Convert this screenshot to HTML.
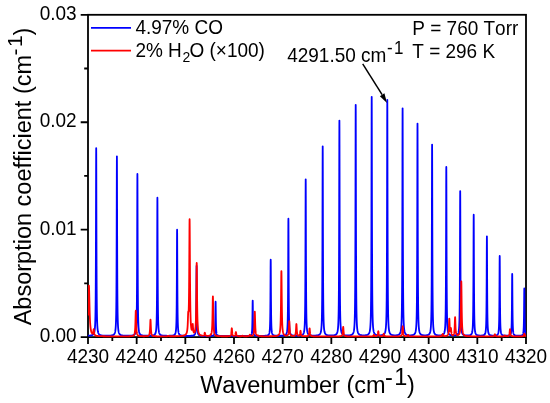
<!DOCTYPE html>
<html><head><meta charset="utf-8"><style>
html,body{margin:0;padding:0;background:#fff;}
svg{display:block;}
text{font-family:"Liberation Sans",Arial,sans-serif;fill:#000;font-kerning:none;}
</style></head><body>
<svg width="550" height="403" viewBox="0 0 550 403">
<rect width="550" height="403" fill="#fff"/>
<defs><clipPath id="c"><rect x="88.0" y="14.8" width="438.0" height="324.3"/></clipPath></defs>
<rect x="88.0" y="14.8" width="438.0" height="322.30" fill="none" stroke="#000" stroke-width="1.8"/>
<path d="M88.00,337.10V344.10M136.67,337.10V344.10M185.33,337.10V344.10M234.00,337.10V344.10M282.67,337.10V344.10M331.33,337.10V344.10M380.00,337.10V344.10M428.67,337.10V344.10M477.33,337.10V344.10M526.00,337.10V344.10M112.33,337.10V340.90M161.00,337.10V340.90M209.67,337.10V340.90M258.33,337.10V340.90M307.00,337.10V340.90M355.67,337.10V340.90M404.33,337.10V340.90M453.00,337.10V340.90M501.67,337.10V340.90M88.00,337.10H80.70M88.00,229.67H80.70M88.00,122.23H80.70M88.00,14.80H80.70M88.00,283.38H84.20M88.00,175.95H84.20M88.00,68.52H84.20" fill="none" stroke="#000" stroke-width="1.8"/>
<g fill="none" stroke-linejoin="round" clip-path="url(#c)">
<polyline stroke="#0000ff" stroke-width="1.8" points="88.00,335.69 88.50,335.67 89.00,335.64 89.50,335.60 90.00,335.55 90.20,335.53 90.25,335.53 90.30,335.52 90.35,335.51 90.40,335.51 90.45,335.50 90.50,335.49 90.55,335.48 90.60,335.48 90.65,335.47 90.70,335.46 90.75,335.45 90.80,335.45 90.85,335.44 90.90,335.43 90.95,335.42 91.00,335.41 91.05,335.40 91.10,335.39 91.15,335.38 91.20,335.37 91.25,335.36 91.30,335.35 91.35,335.34 91.40,335.32 91.45,335.31 91.50,335.30 91.55,335.29 91.60,335.27 91.65,335.26 91.70,335.24 91.75,335.23 91.80,335.21 91.85,335.20 91.90,335.18 91.95,335.16 92.00,335.15 92.05,335.13 92.10,335.11 92.15,335.09 92.20,335.07 92.25,335.05 92.30,335.02 92.35,335.00 92.40,334.98 92.45,334.95 92.50,334.93 92.55,334.90 92.60,334.87 92.65,334.84 92.70,334.81 92.75,334.78 92.80,334.75 92.85,334.71 92.90,334.67 92.95,334.64 93.00,334.60 93.05,334.55 93.10,334.51 93.15,334.46 93.20,334.41 93.25,334.36 93.30,334.31 93.35,334.25 93.40,334.19 93.45,334.13 93.50,334.06 93.55,333.99 93.60,333.92 93.65,333.84 93.70,333.76 93.75,333.67 93.80,333.58 93.85,333.48 93.90,333.37 93.95,333.26 94.00,333.14 94.05,333.01 94.10,332.87 94.15,332.72 94.20,332.56 94.25,332.39 94.30,332.21 94.35,332.01 94.40,331.79 94.45,331.56 94.50,331.31 94.55,331.03 94.60,330.73 94.65,330.40 94.70,330.03 94.75,329.63 94.80,329.19 94.85,328.71 94.90,328.16 94.95,327.56 95.00,326.88 95.05,326.12 95.10,325.26 95.15,324.28 95.20,323.17 95.25,321.90 95.30,320.43 95.35,318.72 95.40,316.73 95.45,314.39 95.50,311.62 95.55,308.30 95.60,304.32 95.65,299.47 95.70,293.55 95.75,286.24 95.80,277.17 95.85,265.90 95.90,251.93 95.95,234.87 96.00,214.73 96.05,192.49 96.10,170.87 96.15,154.45 96.20,148.22 96.25,154.45 96.30,170.87 96.35,192.49 96.40,214.73 96.45,234.87 96.50,251.93 96.55,265.90 96.60,277.17 96.65,286.24 96.70,293.55 96.75,299.47 96.80,304.32 96.85,308.30 96.90,311.62 96.95,314.39 97.00,316.73 97.05,318.72 97.10,320.43 97.15,321.90 97.20,323.17 97.25,324.28 97.30,325.26 97.35,326.12 97.40,326.88 97.45,327.56 97.50,328.16 97.55,328.70 97.60,329.19 97.65,329.63 97.70,330.03 97.75,330.40 97.80,330.73 97.85,331.03 97.90,331.30 97.95,331.56 98.00,331.79 98.05,332.01 98.10,332.21 98.15,332.39 98.20,332.56 98.25,332.72 98.30,332.87 98.35,333.01 98.40,333.14 98.45,333.26 98.50,333.37 98.55,333.48 98.60,333.57 98.65,333.67 98.70,333.76 98.75,333.84 98.80,333.92 98.85,333.99 98.90,334.06 98.95,334.13 99.00,334.19 99.05,334.25 99.10,334.31 99.15,334.36 99.20,334.41 99.25,334.46 99.30,334.51 99.35,334.55 99.40,334.59 99.45,334.63 99.50,334.67 99.55,334.71 99.60,334.74 99.65,334.77 99.70,334.81 99.75,334.84 99.80,334.87 99.85,334.90 99.90,334.92 99.95,334.95 100.00,334.97 100.05,335.00 100.10,335.02 100.15,335.04 100.20,335.06 100.25,335.08 100.30,335.10 100.35,335.12 100.40,335.14 100.45,335.16 100.50,335.18 100.55,335.19 100.60,335.21 100.65,335.22 100.70,335.24 100.75,335.25 100.80,335.27 100.85,335.28 100.90,335.29 100.95,335.31 101.00,335.32 101.05,335.33 101.10,335.34 101.15,335.35 101.20,335.36 101.25,335.37 101.30,335.38 101.35,335.39 101.40,335.40 101.45,335.41 101.50,335.42 101.55,335.43 101.60,335.44 101.65,335.45 101.70,335.46 101.75,335.46 101.80,335.47 101.85,335.48 101.90,335.49 101.95,335.49 102.00,335.50 102.05,335.51 102.10,335.51 102.15,335.52 102.20,335.52 102.50,335.56 103.00,335.60 103.50,335.64 104.00,335.66 104.50,335.68 105.00,335.70 105.50,335.71 106.00,335.71 106.50,335.71 107.00,335.71 107.50,335.71 108.00,335.70 108.50,335.69 109.00,335.67 109.50,335.65 110.00,335.62 110.50,335.58 110.90,335.54 110.95,335.53 111.00,335.52 111.05,335.52 111.10,335.51 111.15,335.51 111.20,335.50 111.25,335.49 111.30,335.49 111.35,335.48 111.40,335.47 111.45,335.46 111.50,335.46 111.55,335.45 111.60,335.44 111.65,335.43 111.70,335.42 111.75,335.41 111.80,335.40 111.85,335.39 111.90,335.38 111.95,335.37 112.00,335.36 112.05,335.35 112.10,335.34 112.15,335.33 112.20,335.32 112.25,335.30 112.30,335.29 112.35,335.28 112.40,335.26 112.45,335.25 112.50,335.24 112.55,335.22 112.60,335.20 112.65,335.19 112.70,335.17 112.75,335.15 112.80,335.13 112.85,335.12 112.90,335.10 112.95,335.08 113.00,335.05 113.05,335.03 113.10,335.01 113.15,334.99 113.20,334.96 113.25,334.93 113.30,334.91 113.35,334.88 113.40,334.85 113.45,334.82 113.50,334.79 113.55,334.75 113.60,334.72 113.65,334.68 113.70,334.64 113.75,334.60 113.80,334.56 113.85,334.52 113.90,334.47 113.95,334.42 114.00,334.37 114.05,334.32 114.10,334.26 114.15,334.20 114.20,334.14 114.25,334.07 114.30,334.00 114.35,333.92 114.40,333.85 114.45,333.76 114.50,333.67 114.55,333.58 114.60,333.48 114.65,333.37 114.70,333.25 114.75,333.13 114.80,333.00 114.85,332.85 114.90,332.70 114.95,332.54 115.00,332.36 115.05,332.17 115.10,331.97 115.15,331.74 115.20,331.50 115.25,331.23 115.30,330.95 115.35,330.63 115.40,330.28 115.45,329.90 115.50,329.48 115.55,329.01 115.60,328.49 115.65,327.91 115.70,327.26 115.75,326.54 115.80,325.71 115.85,324.78 115.90,323.72 115.95,322.50 116.00,321.09 116.05,319.46 116.10,317.55 116.15,315.31 116.20,312.66 116.25,309.49 116.30,305.67 116.35,301.04 116.40,295.37 116.45,288.38 116.50,279.70 116.55,268.91 116.60,255.55 116.65,239.22 116.70,219.95 116.75,198.68 116.80,177.98 116.85,162.27 116.90,156.32 116.95,162.27 117.00,177.98 117.05,198.68 117.10,219.95 117.15,239.22 117.20,255.55 117.25,268.91 117.30,279.70 117.35,288.38 117.40,295.37 117.45,301.04 117.50,305.68 117.55,309.49 117.60,312.66 117.65,315.31 117.70,317.55 117.75,319.46 117.80,321.09 117.85,322.50 117.90,323.72 117.95,324.78 118.00,325.71 118.05,326.54 118.10,327.27 118.15,327.91 118.20,328.49 118.25,329.01 118.30,329.48 118.35,329.90 118.40,330.28 118.45,330.63 118.50,330.95 118.55,331.24 118.60,331.50 118.65,331.74 118.70,331.97 118.75,332.17 118.80,332.36 118.85,332.54 118.90,332.70 118.95,332.86 119.00,333.00 119.05,333.13 119.10,333.25 119.15,333.37 119.20,333.48 119.25,333.58 119.30,333.67 119.35,333.76 119.40,333.85 119.45,333.93 119.50,334.00 119.55,334.07 119.60,334.14 119.65,334.20 119.70,334.26 119.75,334.32 119.80,334.37 119.85,334.42 119.90,334.47 119.95,334.52 120.00,334.56 120.05,334.61 120.10,334.65 120.15,334.68 120.20,334.72 120.25,334.76 120.30,334.79 120.35,334.82 120.40,334.85 120.45,334.88 120.50,334.91 120.55,334.94 120.60,334.96 120.65,334.99 120.70,335.01 120.75,335.03 120.80,335.06 120.85,335.08 120.90,335.10 120.95,335.12 121.00,335.14 121.05,335.16 121.10,335.17 121.15,335.19 121.20,335.21 121.25,335.22 121.30,335.24 121.35,335.25 121.40,335.27 121.45,335.28 121.50,335.29 121.55,335.31 121.60,335.32 121.65,335.33 121.70,335.34 121.75,335.35 121.80,335.37 121.85,335.38 121.90,335.39 121.95,335.40 122.00,335.41 122.05,335.42 122.10,335.42 122.15,335.43 122.20,335.44 122.25,335.45 122.30,335.46 122.35,335.47 122.40,335.47 122.45,335.48 122.50,335.49 122.55,335.50 122.60,335.50 122.65,335.51 122.70,335.52 122.75,335.52 122.80,335.53 122.85,335.53 122.90,335.54 123.00,335.55 123.50,335.60 124.00,335.63 124.50,335.66 125.00,335.68 125.50,335.70 126.00,335.71 126.50,335.72 127.00,335.72 127.50,335.72 128.00,335.72 128.50,335.72 129.00,335.71 129.50,335.69 130.00,335.67 130.50,335.64 131.00,335.61 131.40,335.57 131.45,335.57 131.50,335.56 131.55,335.56 131.60,335.55 131.65,335.54 131.70,335.54 131.75,335.53 131.80,335.53 131.85,335.52 131.90,335.51 131.95,335.51 132.00,335.50 132.05,335.49 132.10,335.48 132.15,335.48 132.20,335.47 132.25,335.46 132.30,335.45 132.35,335.44 132.40,335.43 132.45,335.43 132.50,335.42 132.55,335.41 132.60,335.40 132.65,335.39 132.70,335.37 132.75,335.36 132.80,335.35 132.85,335.34 132.90,335.33 132.95,335.31 133.00,335.30 133.05,335.29 133.10,335.27 133.15,335.26 133.20,335.24 133.25,335.23 133.30,335.21 133.35,335.19 133.40,335.18 133.45,335.16 133.50,335.14 133.55,335.12 133.60,335.10 133.65,335.08 133.70,335.05 133.75,335.03 133.80,335.01 133.85,334.98 133.90,334.95 133.95,334.93 134.00,334.90 134.05,334.87 134.10,334.84 134.15,334.80 134.20,334.77 134.25,334.73 134.30,334.70 134.35,334.66 134.40,334.61 134.45,334.57 134.50,334.52 134.55,334.47 134.60,334.42 134.65,334.37 134.70,334.31 134.75,334.25 134.80,334.19 134.85,334.12 134.90,334.05 134.95,333.97 135.00,333.89 135.05,333.81 135.10,333.72 135.15,333.62 135.20,333.51 135.25,333.40 135.30,333.28 135.35,333.16 135.40,333.02 135.45,332.87 135.50,332.71 135.55,332.54 135.60,332.35 135.65,332.15 135.70,331.93 135.75,331.69 135.80,331.43 135.85,331.15 135.90,330.84 135.95,330.49 136.00,330.11 136.05,329.69 136.10,329.22 136.15,328.70 136.20,328.11 136.25,327.46 136.30,326.71 136.35,325.87 136.40,324.91 136.45,323.81 136.50,322.54 136.55,321.07 136.60,319.35 136.65,317.33 136.70,314.94 136.75,312.08 136.80,308.64 136.85,304.46 136.90,299.35 136.95,293.04 137.00,285.21 137.05,275.48 137.10,263.42 137.15,248.70 137.20,231.32 137.25,212.13 137.30,193.46 137.35,179.29 137.40,173.92 137.45,179.29 137.50,193.46 137.55,212.13 137.60,231.32 137.65,248.70 137.70,263.42 137.75,275.48 137.80,285.21 137.85,293.04 137.90,299.35 137.95,304.46 138.00,308.64 138.05,312.08 138.10,314.94 138.15,317.34 138.20,319.36 138.25,321.07 138.30,322.55 138.35,323.81 138.40,324.91 138.45,325.87 138.50,326.72 138.55,327.46 138.60,328.12 138.65,328.70 138.70,329.22 138.75,329.69 138.80,330.11 138.85,330.49 138.90,330.84 138.95,331.15 139.00,331.44 139.05,331.70 139.10,331.94 139.15,332.15 139.20,332.36 139.25,332.54 139.30,332.71 139.35,332.87 139.40,333.02 139.45,333.16 139.50,333.29 139.55,333.41 139.60,333.52 139.65,333.62 139.70,333.72 139.75,333.81 139.80,333.90 139.85,333.98 139.90,334.05 139.95,334.12 140.00,334.19 140.05,334.26 140.10,334.32 140.15,334.37 140.20,334.43 140.25,334.48 140.30,334.53 140.35,334.57 140.40,334.62 140.45,334.66 140.50,334.70 140.55,334.74 140.60,334.77 140.65,334.81 140.70,334.84 140.75,334.87 140.80,334.90 140.85,334.93 140.90,334.96 140.95,334.99 141.00,335.01 141.05,335.04 141.10,335.06 141.15,335.08 141.20,335.10 141.25,335.12 141.30,335.14 141.35,335.16 141.40,335.18 141.45,335.20 141.50,335.22 141.55,335.23 141.60,335.25 141.65,335.26 141.70,335.28 141.75,335.29 141.80,335.31 141.85,335.32 141.90,335.33 141.95,335.35 142.00,335.36 142.05,335.37 142.10,335.38 142.15,335.39 142.20,335.40 142.25,335.41 142.30,335.42 142.35,335.43 142.40,335.44 142.45,335.45 142.50,335.46 142.55,335.47 142.60,335.48 142.65,335.48 142.70,335.49 142.75,335.50 142.80,335.51 142.85,335.51 142.90,335.52 142.95,335.53 143.00,335.53 143.05,335.54 143.10,335.55 143.15,335.55 143.20,335.56 143.25,335.56 143.30,335.57 143.35,335.57 143.40,335.58 143.50,335.59 144.00,335.63 144.50,335.67 145.00,335.69 145.50,335.71 146.00,335.72 146.50,335.73 147.00,335.74 147.50,335.74 148.00,335.74 148.50,335.74 149.00,335.73 149.50,335.72 150.00,335.70 150.50,335.68 151.00,335.65 151.40,335.62 151.45,335.62 151.50,335.61 151.55,335.61 151.60,335.61 151.65,335.60 151.70,335.60 151.75,335.59 151.80,335.59 151.85,335.58 151.90,335.57 151.95,335.57 152.00,335.56 152.05,335.56 152.10,335.55 152.15,335.54 152.20,335.54 152.25,335.53 152.30,335.52 152.35,335.52 152.40,335.51 152.45,335.50 152.50,335.49 152.55,335.48 152.60,335.48 152.65,335.47 152.70,335.46 152.75,335.45 152.80,335.44 152.85,335.43 152.90,335.42 152.95,335.41 153.00,335.40 153.05,335.38 153.10,335.37 153.15,335.36 153.20,335.35 153.25,335.33 153.30,335.32 153.35,335.30 153.40,335.29 153.45,335.27 153.50,335.26 153.55,335.24 153.60,335.22 153.65,335.20 153.70,335.19 153.75,335.17 153.80,335.14 153.85,335.12 153.90,335.10 153.95,335.08 154.00,335.05 154.05,335.03 154.10,335.00 154.15,334.97 154.20,334.94 154.25,334.91 154.30,334.88 154.35,334.85 154.40,334.81 154.45,334.77 154.50,334.73 154.55,334.69 154.60,334.65 154.65,334.60 154.70,334.55 154.75,334.50 154.80,334.45 154.85,334.39 154.90,334.33 154.95,334.26 155.00,334.20 155.05,334.12 155.10,334.04 155.15,333.96 155.20,333.87 155.25,333.78 155.30,333.68 155.35,333.57 155.40,333.45 155.45,333.32 155.50,333.19 155.55,333.04 155.60,332.88 155.65,332.71 155.70,332.52 155.75,332.32 155.80,332.10 155.85,331.85 155.90,331.59 155.95,331.29 156.00,330.97 156.05,330.61 156.10,330.21 156.15,329.77 156.20,329.27 156.25,328.71 156.30,328.07 156.35,327.35 156.40,326.54 156.45,325.60 156.50,324.52 156.55,323.26 156.60,321.79 156.65,320.07 156.70,318.03 156.75,315.59 156.80,312.65 156.85,309.09 156.90,304.73 156.95,299.34 157.00,292.67 157.05,284.37 157.10,274.08 157.15,261.52 157.20,246.69 157.25,230.32 157.30,214.40 157.35,202.31 157.40,197.73 157.45,202.31 157.50,214.40 157.55,230.32 157.60,246.69 157.65,261.52 157.70,274.08 157.75,284.37 157.80,292.67 157.85,299.35 157.90,304.73 157.95,309.09 158.00,312.66 158.05,315.59 158.10,318.03 158.15,320.07 158.20,321.80 158.25,323.26 158.30,324.52 158.35,325.60 158.40,326.54 158.45,327.36 158.50,328.08 158.55,328.71 158.60,329.27 158.65,329.77 158.70,330.21 158.75,330.61 158.80,330.97 158.85,331.30 158.90,331.59 158.95,331.86 159.00,332.10 159.05,332.32 159.10,332.53 159.15,332.72 159.20,332.89 159.25,333.05 159.30,333.19 159.35,333.33 159.40,333.46 159.45,333.57 159.50,333.68 159.55,333.78 159.60,333.88 159.65,333.97 159.70,334.05 159.75,334.13 159.80,334.20 159.85,334.27 159.90,334.33 159.95,334.40 160.00,334.45 160.05,334.51 160.10,334.56 160.15,334.61 160.20,334.65 160.25,334.70 160.30,334.74 160.35,334.78 160.40,334.82 160.45,334.85 160.50,334.89 160.55,334.92 160.60,334.95 160.65,334.98 160.70,335.01 160.75,335.04 160.80,335.06 160.85,335.09 160.90,335.11 160.95,335.13 161.00,335.15 161.05,335.17 161.10,335.19 161.15,335.21 161.20,335.23 161.25,335.25 161.30,335.27 161.35,335.28 161.40,335.30 161.45,335.31 161.50,335.33 161.55,335.34 161.60,335.36 161.65,335.37 161.70,335.38 161.75,335.39 161.80,335.41 161.85,335.42 161.90,335.43 161.95,335.44 162.00,335.45 162.05,335.46 162.10,335.47 162.15,335.48 162.20,335.49 162.25,335.50 162.30,335.51 162.35,335.51 162.40,335.52 162.45,335.53 162.50,335.54 162.55,335.54 162.60,335.55 162.65,335.56 162.70,335.56 162.75,335.57 162.80,335.58 162.85,335.58 162.90,335.59 162.95,335.60 163.00,335.60 163.05,335.61 163.10,335.61 163.15,335.62 163.20,335.62 163.25,335.63 163.30,335.63 163.35,335.64 163.40,335.64 163.50,335.65 164.00,335.69 164.50,335.71 165.00,335.74 165.50,335.75 166.00,335.76 166.50,335.77 167.00,335.78 167.50,335.78 168.00,335.78 168.50,335.78 169.00,335.77 169.50,335.76 170.00,335.75 170.50,335.73 171.00,335.70 171.10,335.70 171.15,335.69 171.20,335.69 171.25,335.69 171.30,335.68 171.35,335.68 171.40,335.68 171.45,335.67 171.50,335.67 171.55,335.66 171.60,335.66 171.65,335.66 171.70,335.65 171.75,335.65 171.80,335.64 171.85,335.64 171.90,335.63 171.95,335.63 172.00,335.62 172.05,335.62 172.10,335.61 172.15,335.60 172.20,335.60 172.25,335.59 172.30,335.59 172.35,335.58 172.40,335.57 172.45,335.56 172.50,335.56 172.55,335.55 172.60,335.54 172.65,335.53 172.70,335.52 172.75,335.52 172.80,335.51 172.85,335.50 172.90,335.49 172.95,335.48 173.00,335.47 173.05,335.45 173.10,335.44 173.15,335.43 173.20,335.42 173.25,335.41 173.30,335.39 173.35,335.38 173.40,335.36 173.45,335.35 173.50,335.33 173.55,335.32 173.60,335.30 173.65,335.28 173.70,335.26 173.75,335.24 173.80,335.22 173.85,335.20 173.90,335.18 173.95,335.15 174.00,335.13 174.05,335.10 174.10,335.08 174.15,335.05 174.20,335.02 174.25,334.98 174.30,334.95 174.35,334.92 174.40,334.88 174.45,334.84 174.50,334.80 174.55,334.75 174.60,334.71 174.65,334.66 174.70,334.60 174.75,334.55 174.80,334.49 174.85,334.42 174.90,334.36 174.95,334.28 175.00,334.20 175.05,334.12 175.10,334.03 175.15,333.93 175.20,333.83 175.25,333.72 175.30,333.59 175.35,333.46 175.40,333.32 175.45,333.16 175.50,332.99 175.55,332.80 175.60,332.60 175.65,332.37 175.70,332.12 175.75,331.85 175.80,331.54 175.85,331.20 175.90,330.81 175.95,330.38 176.00,329.90 176.05,329.34 176.10,328.71 176.15,327.99 176.20,327.16 176.25,326.19 176.30,325.07 176.35,323.74 176.40,322.17 176.45,320.29 176.50,318.04 176.55,315.29 176.60,311.94 176.65,307.80 176.70,302.66 176.75,296.28 176.80,288.37 176.85,278.71 176.90,267.30 176.95,254.71 177.00,242.46 177.05,233.16 177.10,229.64 177.15,233.16 177.20,242.46 177.25,254.71 177.30,267.30 177.35,278.71 177.40,288.37 177.45,296.28 177.50,302.67 177.55,307.80 177.60,311.94 177.65,315.30 177.70,318.04 177.75,320.30 177.80,322.17 177.85,323.74 177.90,325.07 177.95,326.20 178.00,327.16 178.05,327.99 178.10,328.72 178.15,329.35 178.20,329.90 178.25,330.39 178.30,330.82 178.35,331.20 178.40,331.54 178.45,331.85 178.50,332.13 178.55,332.38 178.60,332.60 178.65,332.81 178.70,333.00 178.75,333.17 178.80,333.32 178.85,333.47 178.90,333.60 178.95,333.72 179.00,333.84 179.05,333.94 179.10,334.04 179.15,334.13 179.20,334.21 179.25,334.29 179.30,334.36 179.35,334.43 179.40,334.50 179.45,334.56 179.50,334.61 179.55,334.66 179.60,334.71 179.65,334.76 179.70,334.81 179.75,334.85 179.80,334.89 179.85,334.93 179.90,334.96 179.95,334.99 180.00,335.03 180.05,335.06 180.10,335.09 180.15,335.11 180.20,335.14 180.25,335.16 180.30,335.19 180.35,335.21 180.40,335.23 180.45,335.25 180.50,335.27 180.55,335.29 180.60,335.31 180.65,335.33 180.70,335.35 180.75,335.36 180.80,335.38 180.85,335.39 180.90,335.41 180.95,335.42 181.00,335.43 181.05,335.45 181.10,335.46 181.15,335.47 181.20,335.48 181.25,335.49 181.30,335.50 181.35,335.51 181.40,335.52 181.45,335.53 181.50,335.54 181.55,335.55 181.60,335.56 181.65,335.57 181.70,335.57 181.75,335.58 181.80,335.59 181.85,335.60 181.90,335.60 181.95,335.61 182.00,335.62 182.05,335.62 182.10,335.63 182.15,335.63 182.20,335.64 182.25,335.65 182.30,335.65 182.35,335.66 182.40,335.66 182.45,335.67 182.50,335.67 182.55,335.68 182.60,335.68 182.65,335.69 182.70,335.69 182.75,335.69 182.80,335.70 182.85,335.70 182.90,335.71 182.95,335.71 183.00,335.71 183.05,335.72 183.10,335.72 183.50,335.75 184.00,335.77 184.50,335.79 185.00,335.80 185.50,335.82 186.00,335.82 186.50,335.83 187.00,335.83 187.50,335.83 188.00,335.83 188.50,335.83 189.00,335.83 189.50,335.82 190.00,335.81 190.50,335.79 190.60,335.79 190.65,335.78 190.70,335.78 190.75,335.78 190.80,335.78 190.85,335.77 190.90,335.77 190.95,335.77 191.00,335.77 191.05,335.76 191.10,335.76 191.15,335.76 191.20,335.76 191.25,335.75 191.30,335.75 191.35,335.75 191.40,335.74 191.45,335.74 191.50,335.74 191.55,335.73 191.60,335.73 191.65,335.73 191.70,335.72 191.75,335.72 191.80,335.71 191.85,335.71 191.90,335.70 191.95,335.70 192.00,335.69 192.05,335.69 192.10,335.68 192.15,335.68 192.20,335.67 192.25,335.67 192.30,335.66 192.35,335.66 192.40,335.65 192.45,335.64 192.50,335.63 192.55,335.63 192.60,335.62 192.65,335.61 192.70,335.60 192.75,335.60 192.80,335.59 192.85,335.58 192.90,335.57 192.95,335.56 193.00,335.55 193.05,335.54 193.10,335.53 193.15,335.51 193.20,335.50 193.25,335.49 193.30,335.47 193.35,335.46 193.40,335.45 193.45,335.43 193.50,335.41 193.55,335.40 193.60,335.38 193.65,335.36 193.70,335.34 193.75,335.32 193.80,335.30 193.85,335.27 193.90,335.25 193.95,335.22 194.00,335.20 194.05,335.17 194.10,335.14 194.15,335.10 194.20,335.07 194.25,335.03 194.30,334.99 194.35,334.95 194.40,334.90 194.45,334.86 194.50,334.80 194.55,334.75 194.60,334.69 194.65,334.63 194.70,334.56 194.75,334.48 194.80,334.40 194.85,334.32 194.90,334.22 194.95,334.12 195.00,334.01 195.05,333.88 195.10,333.75 195.15,333.60 195.20,333.43 195.25,333.25 195.30,333.05 195.35,332.82 195.40,332.57 195.45,332.29 195.50,331.96 195.55,331.60 195.60,331.18 195.65,330.71 195.70,330.16 195.75,329.52 195.80,328.78 195.85,327.91 195.90,326.87 195.95,325.63 196.00,324.14 196.05,322.34 196.10,320.12 196.15,317.39 196.20,314.01 196.25,309.80 196.30,304.58 196.35,298.21 196.40,290.69 196.45,282.38 196.50,274.31 196.55,268.17 196.60,265.85 196.65,268.17 196.70,274.31 196.75,282.38 196.80,290.69 196.85,298.21 196.90,304.58 196.95,309.80 197.00,314.01 197.05,317.39 197.10,320.12 197.15,322.34 197.20,324.15 197.25,325.64 197.30,326.87 197.35,327.91 197.40,328.78 197.45,329.53 197.50,330.16 197.55,330.71 197.60,331.19 197.65,331.60 197.70,331.97 197.75,332.29 197.80,332.57 197.85,332.83 197.90,333.05 197.95,333.26 198.00,333.44 198.05,333.60 198.10,333.75 198.15,333.89 198.20,334.01 198.25,334.12 198.30,334.23 198.35,334.32 198.40,334.41 198.45,334.49 198.50,334.56 198.55,334.63 198.60,334.70 198.65,334.76 198.70,334.81 198.75,334.86 198.80,334.91 198.85,334.96 198.90,335.00 198.95,335.04 199.00,335.08 199.05,335.11 199.10,335.14 199.15,335.18 199.20,335.20 199.25,335.23 199.30,335.26 199.35,335.28 199.40,335.31 199.45,335.33 199.50,335.35 199.55,335.37 199.60,335.39 199.65,335.41 199.70,335.43 199.75,335.44 199.80,335.46 199.85,335.47 199.90,335.49 199.95,335.50 200.00,335.51 200.05,335.53 200.10,335.54 200.15,335.55 200.20,335.56 200.25,335.57 200.30,335.58 200.35,335.59 200.40,335.60 200.45,335.61 200.50,335.62 200.55,335.63 200.60,335.64 200.65,335.64 200.70,335.65 200.75,335.66 200.80,335.66 200.85,335.67 200.90,335.68 200.95,335.68 201.00,335.69 201.05,335.70 201.10,335.70 201.15,335.71 201.20,335.71 201.25,335.72 201.30,335.72 201.35,335.73 201.40,335.73 201.45,335.74 201.50,335.74 201.55,335.74 201.60,335.75 201.65,335.75 201.70,335.76 201.75,335.76 201.80,335.76 201.85,335.77 201.90,335.77 201.95,335.77 202.00,335.78 202.05,335.78 202.10,335.78 202.15,335.79 202.20,335.79 202.25,335.79 202.30,335.80 202.35,335.80 202.40,335.80 202.45,335.80 202.50,335.81 202.55,335.81 202.60,335.81 203.00,335.83 203.50,335.84 204.00,335.86 204.50,335.87 205.00,335.87 205.50,335.88 206.00,335.89 206.50,335.89 207.00,335.89 207.50,335.89 208.00,335.89 208.50,335.89 209.00,335.88 209.50,335.87 209.60,335.87 209.65,335.87 209.70,335.87 209.75,335.87 209.80,335.87 209.85,335.87 209.90,335.87 209.95,335.87 210.00,335.86 210.05,335.86 210.10,335.86 210.15,335.86 210.20,335.86 210.25,335.86 210.30,335.86 210.35,335.86 210.40,335.85 210.45,335.85 210.50,335.85 210.55,335.85 210.60,335.85 210.65,335.85 210.70,335.84 210.75,335.84 210.80,335.84 210.85,335.84 210.90,335.84 210.95,335.83 211.00,335.83 211.05,335.83 211.10,335.83 211.15,335.82 211.20,335.82 211.25,335.82 211.30,335.81 211.35,335.81 211.40,335.81 211.45,335.81 211.50,335.80 211.55,335.80 211.60,335.80 211.65,335.79 211.70,335.79 211.75,335.78 211.80,335.78 211.85,335.77 211.90,335.77 211.95,335.77 212.00,335.76 212.05,335.75 212.10,335.75 212.15,335.74 212.20,335.74 212.25,335.73 212.30,335.72 212.35,335.72 212.40,335.71 212.45,335.70 212.50,335.70 212.55,335.69 212.60,335.68 212.65,335.67 212.70,335.66 212.75,335.65 212.80,335.64 212.85,335.63 212.90,335.62 212.95,335.60 213.00,335.59 213.05,335.58 213.10,335.56 213.15,335.54 213.20,335.53 213.25,335.51 213.30,335.49 213.35,335.47 213.40,335.45 213.45,335.42 213.50,335.40 213.55,335.37 213.60,335.34 213.65,335.31 213.70,335.28 213.75,335.24 213.80,335.20 213.85,335.16 213.90,335.11 213.95,335.06 214.00,335.01 214.05,334.95 214.10,334.88 214.15,334.81 214.20,334.73 214.25,334.64 214.30,334.54 214.35,334.43 214.40,334.31 214.45,334.17 214.50,334.01 214.55,333.84 214.60,333.63 214.65,333.40 214.70,333.13 214.75,332.82 214.80,332.46 214.85,332.03 214.90,331.53 214.95,330.93 215.00,330.20 215.05,329.32 215.10,328.24 215.15,326.91 215.20,325.25 215.25,323.20 215.30,320.65 215.35,317.55 215.40,313.88 215.45,309.83 215.50,305.88 215.55,302.89 215.60,301.76 215.65,302.89 215.70,305.89 215.75,309.83 215.80,313.88 215.85,317.55 215.90,320.66 215.95,323.20 216.00,325.26 216.05,326.91 216.10,328.24 216.15,329.32 216.20,330.20 216.25,330.93 216.30,331.53 216.35,332.04 216.40,332.46 216.45,332.83 216.50,333.14 216.55,333.41 216.60,333.64 216.65,333.84 216.70,334.02 216.75,334.17 216.80,334.31 216.85,334.44 216.90,334.55 216.95,334.65 217.00,334.74 217.05,334.82 217.10,334.89 217.15,334.95 217.20,335.02 217.25,335.07 217.30,335.12 217.35,335.17 217.40,335.21 217.45,335.25 217.50,335.29 217.55,335.32 217.60,335.35 217.65,335.38 217.70,335.41 217.75,335.43 217.80,335.46 217.85,335.48 217.90,335.50 217.95,335.52 218.00,335.54 218.05,335.55 218.10,335.57 218.15,335.58 218.20,335.60 218.25,335.61 218.30,335.62 218.35,335.64 218.40,335.65 218.45,335.66 218.50,335.67 218.55,335.68 218.60,335.69 218.65,335.70 218.70,335.71 218.75,335.71 218.80,335.72 218.85,335.73 218.90,335.74 218.95,335.74 219.00,335.75 219.05,335.76 219.10,335.76 219.15,335.77 219.20,335.77 219.25,335.78 219.30,335.78 219.35,335.79 219.40,335.79 219.45,335.80 219.50,335.80 219.55,335.81 219.60,335.81 219.65,335.81 219.70,335.82 219.75,335.82 219.80,335.82 219.85,335.83 219.90,335.83 219.95,335.83 220.00,335.84 220.05,335.84 220.10,335.84 220.15,335.84 220.20,335.85 220.25,335.85 220.30,335.85 220.35,335.85 220.40,335.86 220.45,335.86 220.50,335.86 220.55,335.86 220.60,335.87 220.65,335.87 220.70,335.87 220.75,335.87 220.80,335.87 220.85,335.88 220.90,335.88 220.95,335.88 221.00,335.88 221.05,335.88 221.10,335.88 221.15,335.88 221.20,335.89 221.25,335.89 221.30,335.89 221.35,335.89 221.40,335.89 221.45,335.89 221.50,335.89 221.55,335.90 221.60,335.90 222.00,335.91 222.50,335.91 223.00,335.92 223.50,335.93 224.00,335.93 224.50,335.94 225.00,335.94 225.50,335.94 226.00,335.94 226.50,335.95 227.00,335.95 227.50,335.95 228.00,335.95 228.50,335.95 229.00,335.95 229.50,335.95 230.00,335.95 230.50,335.95 231.00,335.96 231.50,335.96 232.00,335.96 232.50,335.96 233.00,335.96 233.50,335.96 234.00,335.96 234.50,335.96 235.00,335.96 235.50,335.96 236.00,335.96 236.50,335.96 237.00,335.95 237.50,335.95 238.00,335.95 238.50,335.95 239.00,335.95 239.50,335.95 240.00,335.95 240.50,335.95 241.00,335.95 241.50,335.94 242.00,335.94 242.50,335.94 243.00,335.94 243.50,335.93 244.00,335.93 244.50,335.93 245.00,335.92 245.50,335.91 246.00,335.90 246.50,335.89 246.70,335.89 246.75,335.89 246.80,335.89 246.85,335.89 246.90,335.88 246.95,335.88 247.00,335.88 247.05,335.88 247.10,335.88 247.15,335.88 247.20,335.88 247.25,335.87 247.30,335.87 247.35,335.87 247.40,335.87 247.45,335.87 247.50,335.87 247.55,335.86 247.60,335.86 247.65,335.86 247.70,335.86 247.75,335.86 247.80,335.85 247.85,335.85 247.90,335.85 247.95,335.85 248.00,335.84 248.05,335.84 248.10,335.84 248.15,335.84 248.20,335.83 248.25,335.83 248.30,335.83 248.35,335.82 248.40,335.82 248.45,335.82 248.50,335.81 248.55,335.81 248.60,335.81 248.65,335.80 248.70,335.80 248.75,335.79 248.80,335.79 248.85,335.79 248.90,335.78 248.95,335.78 249.00,335.77 249.05,335.77 249.10,335.76 249.15,335.76 249.20,335.75 249.25,335.74 249.30,335.74 249.35,335.73 249.40,335.72 249.45,335.72 249.50,335.71 249.55,335.70 249.60,335.69 249.65,335.68 249.70,335.67 249.75,335.66 249.80,335.65 249.85,335.64 249.90,335.63 249.95,335.62 250.00,335.61 250.05,335.59 250.10,335.58 250.15,335.56 250.20,335.55 250.25,335.53 250.30,335.51 250.35,335.50 250.40,335.48 250.45,335.45 250.50,335.43 250.55,335.41 250.60,335.38 250.65,335.35 250.70,335.32 250.75,335.29 250.80,335.26 250.85,335.22 250.90,335.18 250.95,335.13 251.00,335.08 251.05,335.03 251.10,334.98 251.15,334.91 251.20,334.84 251.25,334.77 251.30,334.69 251.35,334.59 251.40,334.49 251.45,334.38 251.50,334.25 251.55,334.11 251.60,333.94 251.65,333.76 251.70,333.55 251.75,333.31 251.80,333.03 251.85,332.71 251.90,332.33 251.95,331.89 252.00,331.37 252.05,330.74 252.10,329.99 252.15,329.08 252.20,327.96 252.25,326.58 252.30,324.87 252.35,322.75 252.40,320.11 252.45,316.89 252.50,313.09 252.55,308.90 252.60,304.82 252.65,301.73 252.70,300.55 252.75,301.73 252.80,304.82 252.85,308.90 252.90,313.09 252.95,316.89 253.00,320.11 253.05,322.74 253.10,324.87 253.15,326.58 253.20,327.96 253.25,329.08 253.30,329.99 253.35,330.74 253.40,331.37 253.45,331.89 253.50,332.33 253.55,332.71 253.60,333.03 253.65,333.30 253.70,333.54 253.75,333.75 253.80,333.94 253.85,334.10 253.90,334.24 253.95,334.37 254.00,334.48 254.05,334.59 254.10,334.68 254.15,334.76 254.20,334.84 254.25,334.91 254.30,334.97 254.35,335.02 254.40,335.08 254.45,335.12 254.50,335.17 254.55,335.21 254.60,335.25 254.65,335.28 254.70,335.31 254.75,335.34 254.80,335.37 254.85,335.40 254.90,335.42 254.95,335.44 255.00,335.46 255.05,335.48 255.10,335.50 255.15,335.52 255.20,335.54 255.25,335.55 255.30,335.57 255.35,335.58 255.40,335.59 255.45,335.61 255.50,335.62 255.55,335.63 255.60,335.64 255.65,335.65 255.70,335.66 255.75,335.67 255.80,335.68 255.85,335.68 255.90,335.69 255.95,335.70 256.00,335.71 256.05,335.71 256.10,335.72 256.15,335.73 256.20,335.73 256.25,335.74 256.30,335.74 256.35,335.75 256.40,335.75 256.45,335.76 256.50,335.76 256.55,335.77 256.60,335.77 256.65,335.77 256.70,335.78 256.75,335.78 256.80,335.79 256.85,335.79 256.90,335.79 256.95,335.79 257.00,335.80 257.05,335.80 257.10,335.80 257.15,335.81 257.20,335.81 257.25,335.81 257.30,335.81 257.35,335.82 257.40,335.82 257.45,335.82 257.50,335.82 257.55,335.82 257.60,335.83 257.65,335.83 257.70,335.83 257.75,335.83 257.80,335.83 257.85,335.84 257.90,335.84 257.95,335.84 258.00,335.84 258.05,335.84 258.10,335.84 258.15,335.84 258.20,335.84 258.25,335.85 258.30,335.85 258.35,335.85 258.40,335.85 258.45,335.85 258.50,335.85 258.55,335.85 258.60,335.85 258.65,335.85 258.70,335.85 259.00,335.86 259.50,335.86 260.00,335.87 260.50,335.87 261.00,335.87 261.50,335.86 262.00,335.86 262.50,335.85 263.00,335.84 263.50,335.83 264.00,335.81 264.50,335.79 264.70,335.79 264.75,335.78 264.80,335.78 264.85,335.78 264.90,335.77 264.95,335.77 265.00,335.77 265.05,335.77 265.10,335.76 265.15,335.76 265.20,335.76 265.25,335.75 265.30,335.75 265.35,335.75 265.40,335.74 265.45,335.74 265.50,335.73 265.55,335.73 265.60,335.73 265.65,335.72 265.70,335.72 265.75,335.71 265.80,335.71 265.85,335.70 265.90,335.70 265.95,335.69 266.00,335.69 266.05,335.68 266.10,335.68 266.15,335.67 266.20,335.67 266.25,335.66 266.30,335.65 266.35,335.65 266.40,335.64 266.45,335.63 266.50,335.63 266.55,335.62 266.60,335.61 266.65,335.60 266.70,335.59 266.75,335.59 266.80,335.58 266.85,335.57 266.90,335.56 266.95,335.55 267.00,335.54 267.05,335.52 267.10,335.51 267.15,335.50 267.20,335.49 267.25,335.48 267.30,335.46 267.35,335.45 267.40,335.43 267.45,335.42 267.50,335.40 267.55,335.38 267.60,335.37 267.65,335.35 267.70,335.33 267.75,335.31 267.80,335.28 267.85,335.26 267.90,335.24 267.95,335.21 268.00,335.18 268.05,335.16 268.10,335.13 268.15,335.09 268.20,335.06 268.25,335.02 268.30,334.99 268.35,334.95 268.40,334.90 268.45,334.86 268.50,334.81 268.55,334.75 268.60,334.70 268.65,334.64 268.70,334.57 268.75,334.50 268.80,334.43 268.85,334.35 268.90,334.26 268.95,334.17 269.00,334.06 269.05,333.95 269.10,333.83 269.15,333.69 269.20,333.55 269.25,333.38 269.30,333.20 269.35,333.01 269.40,332.79 269.45,332.54 269.50,332.26 269.55,331.95 269.60,331.61 269.65,331.21 269.70,330.76 269.75,330.24 269.80,329.64 269.85,328.95 269.90,328.14 269.95,327.19 270.00,326.07 270.05,324.72 270.10,323.10 270.15,321.14 270.20,318.73 270.25,315.76 270.30,312.08 270.35,307.51 270.40,301.83 270.45,294.91 270.50,286.73 270.55,277.70 270.60,268.92 270.65,262.26 270.70,259.73 270.75,262.26 270.80,268.92 270.85,277.70 270.90,286.73 270.95,294.91 271.00,301.83 271.05,307.50 271.10,312.08 271.15,315.76 271.20,318.73 271.25,321.13 271.30,323.10 271.35,324.72 271.40,326.06 271.45,327.19 271.50,328.14 271.55,328.95 271.60,329.64 271.65,330.23 271.70,330.75 271.75,331.20 271.80,331.60 271.85,331.95 271.90,332.26 271.95,332.53 272.00,332.78 272.05,333.00 272.10,333.20 272.15,333.37 272.20,333.54 272.25,333.68 272.30,333.82 272.35,333.94 272.40,334.05 272.45,334.15 272.50,334.25 272.55,334.34 272.60,334.42 272.65,334.49 272.70,334.56 272.75,334.63 272.80,334.69 272.85,334.74 272.90,334.79 272.95,334.84 273.00,334.89 273.05,334.93 273.10,334.97 273.15,335.01 273.20,335.04 273.25,335.08 273.30,335.11 273.35,335.14 273.40,335.17 273.45,335.19 273.50,335.22 273.55,335.24 273.60,335.27 273.65,335.29 273.70,335.31 273.75,335.33 273.80,335.35 273.85,335.36 273.90,335.38 273.95,335.40 274.00,335.41 274.05,335.43 274.10,335.44 274.15,335.45 274.20,335.47 274.25,335.48 274.30,335.49 274.35,335.50 274.40,335.51 274.45,335.52 274.50,335.53 274.55,335.54 274.60,335.55 274.65,335.56 274.70,335.57 274.75,335.58 274.80,335.58 274.85,335.59 274.90,335.60 274.95,335.60 275.00,335.61 275.05,335.62 275.10,335.62 275.15,335.63 275.20,335.64 275.25,335.64 275.30,335.65 275.35,335.65 275.40,335.66 275.45,335.66 275.50,335.67 275.55,335.67 275.60,335.68 275.65,335.68 275.70,335.68 275.75,335.69 275.80,335.69 275.85,335.69 275.90,335.70 275.95,335.70 276.00,335.70 276.05,335.71 276.10,335.71 276.15,335.71 276.20,335.72 276.25,335.72 276.30,335.72 276.35,335.72 276.40,335.73 276.45,335.73 276.50,335.73 276.55,335.73 276.60,335.74 276.65,335.74 276.70,335.74 277.00,335.75 277.50,335.76 278.00,335.77 278.50,335.78 279.00,335.78 279.50,335.77 280.00,335.77 280.50,335.76 281.00,335.74 281.50,335.72 282.00,335.70 282.40,335.67 282.45,335.67 282.50,335.66 282.55,335.66 282.60,335.65 282.65,335.65 282.70,335.65 282.75,335.64 282.80,335.64 282.85,335.63 282.90,335.63 282.95,335.62 283.00,335.62 283.05,335.61 283.10,335.61 283.15,335.60 283.20,335.59 283.25,335.59 283.30,335.58 283.35,335.58 283.40,335.57 283.45,335.56 283.50,335.56 283.55,335.55 283.60,335.54 283.65,335.53 283.70,335.53 283.75,335.52 283.80,335.51 283.85,335.50 283.90,335.49 283.95,335.48 284.00,335.47 284.05,335.46 284.10,335.45 284.15,335.44 284.20,335.43 284.25,335.42 284.30,335.41 284.35,335.39 284.40,335.38 284.45,335.37 284.50,335.35 284.55,335.34 284.60,335.32 284.65,335.31 284.70,335.29 284.75,335.28 284.80,335.26 284.85,335.24 284.90,335.22 284.95,335.20 285.00,335.18 285.05,335.16 285.10,335.13 285.15,335.11 285.20,335.08 285.25,335.06 285.30,335.03 285.35,335.00 285.40,334.97 285.45,334.94 285.50,334.91 285.55,334.87 285.60,334.83 285.65,334.79 285.70,334.75 285.75,334.71 285.80,334.66 285.85,334.61 285.90,334.56 285.95,334.51 286.00,334.45 286.05,334.39 286.10,334.32 286.15,334.25 286.20,334.17 286.25,334.09 286.30,334.01 286.35,333.91 286.40,333.81 286.45,333.71 286.50,333.59 286.55,333.47 286.60,333.33 286.65,333.19 286.70,333.03 286.75,332.86 286.80,332.67 286.85,332.46 286.90,332.23 286.95,331.98 287.00,331.71 287.05,331.40 287.10,331.06 287.15,330.69 287.20,330.26 287.25,329.79 287.30,329.25 287.35,328.64 287.40,327.95 287.45,327.15 287.50,326.23 287.55,325.17 287.60,323.93 287.65,322.46 287.70,320.73 287.75,318.66 287.80,316.17 287.85,313.15 287.90,309.45 287.95,304.89 288.00,299.22 288.05,292.18 288.10,283.46 288.15,272.81 288.20,260.23 288.25,246.35 288.30,232.85 288.35,222.59 288.40,218.71 288.45,222.59 288.50,232.85 288.55,246.35 288.60,260.23 288.65,272.81 288.70,283.46 288.75,292.18 288.80,299.22 288.85,304.88 288.90,309.45 288.95,313.15 289.00,316.17 289.05,318.66 289.10,320.73 289.15,322.46 289.20,323.92 289.25,325.16 289.30,326.23 289.35,327.14 289.40,327.94 289.45,328.63 289.50,329.24 289.55,329.78 289.60,330.26 289.65,330.68 289.70,331.06 289.75,331.39 289.80,331.70 289.85,331.97 289.90,332.22 289.95,332.45 290.00,332.66 290.05,332.84 290.10,333.02 290.15,333.18 290.20,333.32 290.25,333.46 290.30,333.58 290.35,333.69 290.40,333.80 290.45,333.90 290.50,333.99 290.55,334.08 290.60,334.16 290.65,334.23 290.70,334.30 290.75,334.37 290.80,334.43 290.85,334.49 290.90,334.54 290.95,334.60 291.00,334.64 291.05,334.69 291.10,334.73 291.15,334.77 291.20,334.81 291.25,334.85 291.30,334.89 291.35,334.92 291.40,334.95 291.45,334.98 291.50,335.01 291.55,335.04 291.60,335.06 291.65,335.09 291.70,335.11 291.75,335.13 291.80,335.15 291.85,335.17 291.90,335.19 291.95,335.21 292.00,335.23 292.05,335.25 292.10,335.26 292.15,335.28 292.20,335.30 292.25,335.31 292.30,335.32 292.35,335.34 292.40,335.35 292.45,335.36 292.50,335.38 292.55,335.39 292.60,335.40 292.65,335.41 292.70,335.42 292.75,335.43 292.80,335.44 292.85,335.45 292.90,335.46 292.95,335.47 293.00,335.47 293.05,335.48 293.10,335.49 293.15,335.50 293.20,335.50 293.25,335.51 293.30,335.52 293.35,335.52 293.40,335.53 293.45,335.54 293.50,335.54 293.55,335.55 293.60,335.55 293.65,335.56 293.70,335.56 293.75,335.57 293.80,335.57 293.85,335.58 293.90,335.58 293.95,335.59 294.00,335.59 294.05,335.60 294.10,335.60 294.15,335.60 294.20,335.61 294.25,335.61 294.30,335.61 294.35,335.62 294.40,335.62 294.50,335.63 295.00,335.65 295.50,335.67 296.00,335.68 296.50,335.68 297.00,335.68 297.50,335.67 298.00,335.66 298.50,335.64 299.00,335.61 299.50,335.57 299.70,335.55 299.75,335.55 299.80,335.54 299.85,335.54 299.90,335.53 299.95,335.53 300.00,335.52 300.05,335.52 300.10,335.51 300.15,335.50 300.20,335.50 300.25,335.49 300.30,335.48 300.35,335.48 300.40,335.47 300.45,335.46 300.50,335.46 300.55,335.45 300.60,335.44 300.65,335.43 300.70,335.42 300.75,335.41 300.80,335.40 300.85,335.39 300.90,335.38 300.95,335.37 301.00,335.36 301.05,335.35 301.10,335.34 301.15,335.33 301.20,335.32 301.25,335.31 301.30,335.29 301.35,335.28 301.40,335.27 301.45,335.25 301.50,335.24 301.55,335.22 301.60,335.21 301.65,335.19 301.70,335.17 301.75,335.15 301.80,335.14 301.85,335.12 301.90,335.10 301.95,335.08 302.00,335.05 302.05,335.03 302.10,335.01 302.15,334.98 302.20,334.96 302.25,334.93 302.30,334.90 302.35,334.87 302.40,334.84 302.45,334.81 302.50,334.78 302.55,334.74 302.60,334.71 302.65,334.67 302.70,334.63 302.75,334.58 302.80,334.54 302.85,334.49 302.90,334.44 302.95,334.39 303.00,334.34 303.05,334.28 303.10,334.22 303.15,334.15 303.20,334.08 303.25,334.01 303.30,333.93 303.35,333.85 303.40,333.76 303.45,333.66 303.50,333.56 303.55,333.46 303.60,333.34 303.65,333.22 303.70,333.08 303.75,332.94 303.80,332.79 303.85,332.62 303.90,332.44 303.95,332.25 304.00,332.04 304.05,331.80 304.10,331.55 304.15,331.28 304.20,330.97 304.25,330.64 304.30,330.27 304.35,329.87 304.40,329.41 304.45,328.91 304.50,328.34 304.55,327.71 304.60,326.99 304.65,326.18 304.70,325.25 304.75,324.19 304.80,322.96 304.85,321.54 304.90,319.88 304.95,317.93 305.00,315.62 305.05,312.85 305.10,309.53 305.15,305.49 305.20,300.55 305.25,294.46 305.30,286.90 305.35,277.50 305.40,265.85 305.45,251.62 305.50,234.83 305.55,216.29 305.60,198.26 305.65,184.57 305.70,179.38 305.75,184.57 305.80,198.26 305.85,216.29 305.90,234.83 305.95,251.62 306.00,265.85 306.05,277.49 306.10,286.89 306.15,294.45 306.20,300.55 306.25,305.49 306.30,309.53 306.35,312.85 306.40,315.61 306.45,317.92 306.50,319.88 306.55,321.54 306.60,322.96 306.65,324.18 306.70,325.24 306.75,326.17 306.80,326.98 306.85,327.70 306.90,328.34 306.95,328.90 307.00,329.40 307.05,329.86 307.10,330.26 307.15,330.63 307.20,330.96 307.25,331.27 307.30,331.54 307.35,331.79 307.40,332.02 307.45,332.23 307.50,332.43 307.55,332.61 307.60,332.77 307.65,332.93 307.70,333.07 307.75,333.20 307.80,333.33 307.85,333.44 307.90,333.55 307.95,333.65 308.00,333.74 308.05,333.83 308.10,333.91 308.15,333.99 308.20,334.06 308.25,334.13 308.30,334.20 308.35,334.26 308.40,334.32 308.45,334.37 308.50,334.42 308.55,334.47 308.60,334.52 308.65,334.56 308.70,334.61 308.75,334.65 308.80,334.68 308.85,334.72 308.90,334.76 308.95,334.79 309.00,334.82 309.05,334.85 309.10,334.88 309.15,334.91 309.20,334.93 309.25,334.96 309.30,334.98 309.35,335.01 309.40,335.03 309.45,335.05 309.50,335.07 309.55,335.09 309.60,335.11 309.65,335.13 309.70,335.14 309.75,335.16 309.80,335.18 309.85,335.19 309.90,335.21 309.95,335.22 310.00,335.23 310.05,335.25 310.10,335.26 310.15,335.27 310.20,335.28 310.25,335.30 310.30,335.31 310.35,335.32 310.40,335.33 310.45,335.34 310.50,335.35 310.55,335.36 310.60,335.37 310.65,335.38 310.70,335.38 310.75,335.39 310.80,335.40 310.85,335.41 310.90,335.41 310.95,335.42 311.00,335.43 311.05,335.44 311.10,335.44 311.15,335.45 311.20,335.45 311.25,335.46 311.30,335.47 311.35,335.47 311.40,335.48 311.45,335.48 311.50,335.49 311.55,335.49 311.60,335.49 311.65,335.50 311.70,335.50 312.00,335.53 312.50,335.55 313.00,335.57 313.50,335.58 314.00,335.58 314.50,335.58 315.00,335.57 315.50,335.54 316.00,335.51 316.50,335.47 316.70,335.45 316.75,335.44 316.80,335.44 316.85,335.43 316.90,335.42 316.95,335.42 317.00,335.41 317.05,335.40 317.10,335.40 317.15,335.39 317.20,335.38 317.25,335.37 317.30,335.37 317.35,335.36 317.40,335.35 317.45,335.34 317.50,335.33 317.55,335.32 317.60,335.31 317.65,335.30 317.70,335.29 317.75,335.28 317.80,335.27 317.85,335.26 317.90,335.25 317.95,335.24 318.00,335.22 318.05,335.21 318.10,335.20 318.15,335.18 318.20,335.17 318.25,335.15 318.30,335.14 318.35,335.12 318.40,335.11 318.45,335.09 318.50,335.07 318.55,335.05 318.60,335.03 318.65,335.01 318.70,334.99 318.75,334.97 318.80,334.95 318.85,334.93 318.90,334.90 318.95,334.88 319.00,334.85 319.05,334.82 319.10,334.79 319.15,334.76 319.20,334.73 319.25,334.70 319.30,334.67 319.35,334.63 319.40,334.60 319.45,334.56 319.50,334.52 319.55,334.47 319.60,334.43 319.65,334.38 319.70,334.33 319.75,334.28 319.80,334.23 319.85,334.17 319.90,334.11 319.95,334.05 320.00,333.98 320.05,333.91 320.10,333.84 320.15,333.76 320.20,333.67 320.25,333.58 320.30,333.49 320.35,333.39 320.40,333.28 320.45,333.17 320.50,333.05 320.55,332.92 320.60,332.78 320.65,332.63 320.70,332.47 320.75,332.29 320.80,332.11 320.85,331.91 320.90,331.69 320.95,331.45 321.00,331.20 321.05,330.92 321.10,330.61 321.15,330.28 321.20,329.91 321.25,329.51 321.30,329.06 321.35,328.57 321.40,328.02 321.45,327.41 321.50,326.73 321.55,325.96 321.60,325.09 321.65,324.11 321.70,322.98 321.75,321.70 321.80,320.21 321.85,318.49 321.90,316.48 321.95,314.12 322.00,311.32 322.05,307.97 322.10,303.95 322.15,299.06 322.20,293.08 322.25,285.70 322.30,276.54 322.35,265.16 322.40,251.05 322.45,233.83 322.50,213.50 322.55,191.05 322.60,169.22 322.65,152.64 322.70,146.36 322.75,152.64 322.80,169.22 322.85,191.05 322.90,213.50 322.95,233.83 323.00,251.05 323.05,265.16 323.10,276.54 323.15,285.69 323.20,293.07 323.25,299.06 323.30,303.94 323.35,307.97 323.40,311.31 323.45,314.11 323.50,316.48 323.55,318.49 323.60,320.21 323.65,321.69 323.70,322.98 323.75,324.10 323.80,325.08 323.85,325.95 323.90,326.72 323.95,327.40 324.00,328.02 324.05,328.56 324.10,329.06 324.15,329.50 324.20,329.90 324.25,330.27 324.30,330.60 324.35,330.91 324.40,331.19 324.45,331.44 324.50,331.68 324.55,331.90 324.60,332.10 324.65,332.28 324.70,332.45 324.75,332.61 324.80,332.76 324.85,332.90 324.90,333.03 324.95,333.15 325.00,333.27 325.05,333.37 325.10,333.47 325.15,333.57 325.20,333.66 325.25,333.74 325.30,333.82 325.35,333.89 325.40,333.96 325.45,334.03 325.50,334.09 325.55,334.15 325.60,334.21 325.65,334.26 325.70,334.31 325.75,334.36 325.80,334.41 325.85,334.45 325.90,334.50 325.95,334.54 326.00,334.57 326.05,334.61 326.10,334.65 326.15,334.68 326.20,334.71 326.25,334.74 326.30,334.77 326.35,334.80 326.40,334.83 326.45,334.85 326.50,334.88 326.55,334.90 326.60,334.92 326.65,334.94 326.70,334.97 326.75,334.99 326.80,335.00 326.85,335.02 326.90,335.04 326.95,335.06 327.00,335.08 327.05,335.09 327.10,335.11 327.15,335.12 327.20,335.14 327.25,335.15 327.30,335.16 327.35,335.18 327.40,335.19 327.45,335.20 327.50,335.21 327.55,335.23 327.60,335.24 327.65,335.25 327.70,335.26 327.75,335.27 327.80,335.28 327.85,335.29 327.90,335.29 327.95,335.30 328.00,335.31 328.05,335.32 328.10,335.33 328.15,335.33 328.20,335.34 328.25,335.35 328.30,335.36 328.35,335.36 328.40,335.37 328.45,335.37 328.50,335.38 328.55,335.39 328.60,335.39 328.65,335.40 328.70,335.40 329.00,335.43 329.50,335.46 330.00,335.49 330.50,335.50 331.00,335.50 331.50,335.49 332.00,335.47 332.50,335.44 333.00,335.40 333.40,335.36 333.45,335.35 333.50,335.35 333.55,335.34 333.60,335.33 333.65,335.33 333.70,335.32 333.75,335.31 333.80,335.30 333.85,335.29 333.90,335.29 333.95,335.28 334.00,335.27 334.05,335.26 334.10,335.25 334.15,335.24 334.20,335.23 334.25,335.22 334.30,335.21 334.35,335.20 334.40,335.19 334.45,335.17 334.50,335.16 334.55,335.15 334.60,335.14 334.65,335.12 334.70,335.11 334.75,335.09 334.80,335.08 334.85,335.06 334.90,335.05 334.95,335.03 335.00,335.01 335.05,334.99 335.10,334.97 335.15,334.96 335.20,334.93 335.25,334.91 335.30,334.89 335.35,334.87 335.40,334.85 335.45,334.82 335.50,334.80 335.55,334.77 335.60,334.74 335.65,334.71 335.70,334.69 335.75,334.65 335.80,334.62 335.85,334.59 335.90,334.55 335.95,334.52 336.00,334.48 336.05,334.44 336.10,334.40 336.15,334.35 336.20,334.31 336.25,334.26 336.30,334.21 336.35,334.16 336.40,334.10 336.45,334.04 336.50,333.98 336.55,333.92 336.60,333.85 336.65,333.78 336.70,333.70 336.75,333.62 336.80,333.54 336.85,333.45 336.90,333.35 336.95,333.25 337.00,333.14 337.05,333.03 337.10,332.91 337.15,332.78 337.20,332.64 337.25,332.49 337.30,332.33 337.35,332.16 337.40,331.98 337.45,331.78 337.50,331.57 337.55,331.34 337.60,331.10 337.65,330.83 337.70,330.54 337.75,330.22 337.80,329.87 337.85,329.50 337.90,329.08 337.95,328.62 338.00,328.12 338.05,327.56 338.10,326.93 338.15,326.24 338.20,325.46 338.25,324.59 338.30,323.60 338.35,322.48 338.40,321.21 338.45,319.74 338.50,318.06 338.55,316.10 338.60,313.82 338.65,311.13 338.70,307.95 338.75,304.15 338.80,299.58 338.85,294.03 338.90,287.23 338.95,278.84 339.00,268.44 339.05,255.51 339.10,239.49 339.15,219.92 339.20,196.82 339.25,171.31 339.30,146.51 339.35,127.67 339.40,120.53 339.45,127.67 339.50,146.51 339.55,171.31 339.60,196.81 339.65,219.92 339.70,239.48 339.75,255.51 339.80,268.44 339.85,278.84 339.90,287.23 339.95,294.02 340.00,299.58 340.05,304.15 340.10,307.95 340.15,311.13 340.20,313.82 340.25,316.10 340.30,318.05 340.35,319.74 340.40,321.20 340.45,322.48 340.50,323.60 340.55,324.58 340.60,325.46 340.65,326.23 340.70,326.93 340.75,327.55 340.80,328.11 340.85,328.61 340.90,329.07 340.95,329.49 341.00,329.87 341.05,330.21 341.10,330.53 341.15,330.82 341.20,331.09 341.25,331.33 341.30,331.56 341.35,331.77 341.40,331.97 341.45,332.15 341.50,332.32 341.55,332.48 341.60,332.63 341.65,332.77 341.70,332.89 341.75,333.02 341.80,333.13 341.85,333.24 341.90,333.34 341.95,333.43 342.00,333.52 342.05,333.61 342.10,333.69 342.15,333.76 342.20,333.83 342.25,333.90 342.30,333.96 342.35,334.03 342.40,334.08 342.45,334.14 342.50,334.19 342.55,334.24 342.60,334.29 342.65,334.33 342.70,334.38 342.75,334.42 342.80,334.46 342.85,334.50 342.90,334.53 342.95,334.57 343.00,334.60 343.05,334.63 343.10,334.66 343.15,334.69 343.20,334.72 343.25,334.75 343.30,334.77 343.35,334.80 343.40,334.82 343.45,334.85 343.50,334.87 343.55,334.89 343.60,334.91 343.65,334.93 343.70,334.95 343.75,334.97 343.80,334.98 343.85,335.00 343.90,335.02 343.95,335.03 344.00,335.05 344.05,335.06 344.10,335.08 344.15,335.09 344.20,335.10 344.25,335.12 344.30,335.13 344.35,335.14 344.40,335.15 344.45,335.16 344.50,335.18 344.55,335.19 344.60,335.20 344.65,335.21 344.70,335.22 344.75,335.22 344.80,335.23 344.85,335.24 344.90,335.25 344.95,335.26 345.00,335.27 345.05,335.27 345.10,335.28 345.15,335.29 345.20,335.29 345.25,335.30 345.30,335.31 345.35,335.31 345.40,335.32 345.50,335.33 346.00,335.37 346.50,335.40 347.00,335.42 347.50,335.42 348.00,335.41 348.50,335.40 349.00,335.36 349.50,335.32 349.70,335.29 349.75,335.29 349.80,335.28 349.85,335.27 349.90,335.26 349.95,335.26 350.00,335.25 350.05,335.24 350.10,335.23 350.15,335.22 350.20,335.22 350.25,335.21 350.30,335.20 350.35,335.19 350.40,335.18 350.45,335.17 350.50,335.16 350.55,335.14 350.60,335.13 350.65,335.12 350.70,335.11 350.75,335.10 350.80,335.08 350.85,335.07 350.90,335.06 350.95,335.04 351.00,335.03 351.05,335.01 351.10,334.99 351.15,334.98 351.20,334.96 351.25,334.94 351.30,334.92 351.35,334.91 351.40,334.89 351.45,334.86 351.50,334.84 351.55,334.82 351.60,334.80 351.65,334.77 351.70,334.75 351.75,334.72 351.80,334.70 351.85,334.67 351.90,334.64 351.95,334.61 352.00,334.58 352.05,334.54 352.10,334.51 352.15,334.47 352.20,334.44 352.25,334.40 352.30,334.36 352.35,334.31 352.40,334.27 352.45,334.22 352.50,334.17 352.55,334.12 352.60,334.07 352.65,334.01 352.70,333.95 352.75,333.89 352.80,333.82 352.85,333.75 352.90,333.68 352.95,333.60 353.00,333.52 353.05,333.44 353.10,333.35 353.15,333.25 353.20,333.15 353.25,333.04 353.30,332.92 353.35,332.80 353.40,332.67 353.45,332.53 353.50,332.38 353.55,332.23 353.60,332.06 353.65,331.87 353.70,331.68 353.75,331.47 353.80,331.24 353.85,331.00 353.90,330.73 353.95,330.44 354.00,330.13 354.05,329.79 354.10,329.42 354.15,329.01 354.20,328.57 354.25,328.07 354.30,327.53 354.35,326.93 354.40,326.26 354.45,325.52 354.50,324.68 354.55,323.75 354.60,322.69 354.65,321.49 354.70,320.12 354.75,318.55 354.80,316.74 354.85,314.64 354.90,312.19 354.95,309.31 355.00,305.90 355.05,301.82 355.10,296.92 355.15,290.96 355.20,283.66 355.25,274.67 355.30,263.51 355.35,249.63 355.40,232.44 355.45,211.44 355.50,186.66 355.55,159.30 355.60,132.68 355.65,112.48 355.70,104.82 355.75,112.47 355.80,132.68 355.85,159.30 355.90,186.66 355.95,211.44 356.00,232.44 356.05,249.63 356.10,263.51 356.15,274.67 356.20,283.66 356.25,290.96 356.30,296.91 356.35,301.82 356.40,305.90 356.45,309.31 356.50,312.19 356.55,314.64 356.60,316.74 356.65,318.55 356.70,320.12 356.75,321.49 356.80,322.69 356.85,323.74 356.90,324.68 356.95,325.51 357.00,326.26 357.05,326.93 357.10,327.53 357.15,328.07 357.20,328.56 357.25,329.01 357.30,329.41 357.35,329.78 357.40,330.12 357.45,330.44 357.50,330.72 357.55,330.99 357.60,331.23 357.65,331.46 357.70,331.67 357.75,331.87 357.80,332.05 357.85,332.22 357.90,332.38 357.95,332.52 358.00,332.66 358.05,332.79 358.10,332.91 358.15,333.03 358.20,333.14 358.25,333.24 358.30,333.33 358.35,333.43 358.40,333.51 358.45,333.59 358.50,333.67 358.55,333.74 358.60,333.81 358.65,333.88 358.70,333.94 358.75,334.00 358.80,334.05 358.85,334.11 358.90,334.16 358.95,334.21 359.00,334.25 359.05,334.30 359.10,334.34 359.15,334.38 359.20,334.42 359.25,334.46 359.30,334.49 359.35,334.53 359.40,334.56 359.45,334.59 359.50,334.62 359.55,334.65 359.60,334.68 359.65,334.71 359.70,334.73 359.75,334.76 359.80,334.78 359.85,334.80 359.90,334.83 359.95,334.85 360.00,334.87 360.05,334.89 360.10,334.91 360.15,334.92 360.20,334.94 360.25,334.96 360.30,334.97 360.35,334.99 360.40,335.01 360.45,335.02 360.50,335.03 360.55,335.05 360.60,335.06 360.65,335.07 360.70,335.09 360.75,335.10 360.80,335.11 360.85,335.12 360.90,335.13 360.95,335.14 361.00,335.15 361.05,335.16 361.10,335.17 361.15,335.18 361.20,335.19 361.25,335.20 361.30,335.21 361.35,335.21 361.40,335.22 361.45,335.23 361.50,335.24 361.55,335.24 361.60,335.25 361.65,335.26 361.70,335.26 362.00,335.29 362.50,335.33 363.00,335.36 363.50,335.37 364.00,335.36 364.50,335.35 365.00,335.32 365.50,335.27 365.70,335.25 365.75,335.24 365.80,335.24 365.85,335.23 365.90,335.22 365.95,335.21 366.00,335.21 366.05,335.20 366.10,335.19 366.15,335.18 366.20,335.17 366.25,335.16 366.30,335.15 366.35,335.14 366.40,335.13 366.45,335.12 366.50,335.11 366.55,335.10 366.60,335.09 366.65,335.08 366.70,335.06 366.75,335.05 366.80,335.04 366.85,335.02 366.90,335.01 366.95,334.99 367.00,334.98 367.05,334.96 367.10,334.95 367.15,334.93 367.20,334.91 367.25,334.89 367.30,334.87 367.35,334.85 367.40,334.83 367.45,334.81 367.50,334.79 367.55,334.77 367.60,334.74 367.65,334.72 367.70,334.69 367.75,334.67 367.80,334.64 367.85,334.61 367.90,334.58 367.95,334.55 368.00,334.52 368.05,334.48 368.10,334.45 368.15,334.41 368.20,334.37 368.25,334.33 368.30,334.29 368.35,334.24 368.40,334.20 368.45,334.15 368.50,334.10 368.55,334.04 368.60,333.99 368.65,333.93 368.70,333.87 368.75,333.80 368.80,333.74 368.85,333.67 368.90,333.59 368.95,333.51 369.00,333.43 369.05,333.34 369.10,333.24 369.15,333.14 369.20,333.04 369.25,332.93 369.30,332.81 369.35,332.68 369.40,332.55 369.45,332.40 369.50,332.25 369.55,332.09 369.60,331.91 369.65,331.72 369.70,331.52 369.75,331.30 369.80,331.07 369.85,330.81 369.90,330.54 369.95,330.24 370.00,329.92 370.05,329.57 370.10,329.18 370.15,328.76 370.20,328.30 370.25,327.79 370.30,327.23 370.35,326.61 370.40,325.92 370.45,325.15 370.50,324.29 370.55,323.32 370.60,322.22 370.65,320.98 370.70,319.56 370.75,317.94 370.80,316.07 370.85,313.90 370.90,311.36 370.95,308.38 371.00,304.85 371.05,300.63 371.10,295.56 371.15,289.39 371.20,281.84 371.25,272.54 371.30,260.99 371.35,246.64 371.40,228.85 371.45,207.12 371.50,181.48 371.55,153.17 371.60,125.63 371.65,104.73 371.70,96.80 371.75,104.73 371.80,125.63 371.85,153.17 371.90,181.48 371.95,207.12 372.00,228.85 372.05,246.64 372.10,260.99 372.15,272.54 372.20,281.84 372.25,289.39 372.30,295.55 372.35,300.63 372.40,304.85 372.45,308.38 372.50,311.36 372.55,313.90 372.60,316.07 372.65,317.94 372.70,319.56 372.75,320.98 372.80,322.22 372.85,323.31 372.90,324.28 372.95,325.14 373.00,325.91 373.05,326.61 373.10,327.23 373.15,327.79 373.20,328.30 373.25,328.76 373.30,329.18 373.35,329.56 373.40,329.91 373.45,330.24 373.50,330.54 373.55,330.81 373.60,331.06 373.65,331.30 373.70,331.51 373.75,331.72 373.80,331.91 373.85,332.08 373.90,332.24 373.95,332.40 374.00,332.54 374.05,332.68 374.10,332.80 374.15,332.92 374.20,333.03 374.25,333.14 374.30,333.24 374.35,333.33 374.40,333.42 374.45,333.50 374.50,333.58 374.55,333.66 374.60,333.73 374.65,333.80 374.70,333.86 374.75,333.92 374.80,333.98 374.85,334.04 374.90,334.09 374.95,334.14 375.00,334.19 375.05,334.23 375.10,334.28 375.15,334.32 375.20,334.36 375.25,334.40 375.30,334.44 375.35,334.47 375.40,334.50 375.45,334.54 375.50,334.57 375.55,334.60 375.60,334.63 375.65,334.65 375.70,334.68 375.75,334.71 375.80,334.73 375.85,334.76 375.90,334.78 375.95,334.80 376.00,334.82 376.05,334.84 376.10,334.86 376.15,334.88 376.20,334.90 376.25,334.92 376.30,334.93 376.35,334.95 376.40,334.96 376.45,334.98 376.50,334.99 376.55,335.01 376.60,335.02 376.65,335.03 376.70,335.05 376.75,335.06 376.80,335.07 376.85,335.08 376.90,335.09 376.95,335.10 377.00,335.12 377.05,335.13 377.10,335.13 377.15,335.14 377.20,335.15 377.25,335.16 377.30,335.17 377.35,335.18 377.40,335.19 377.45,335.19 377.50,335.20 377.55,335.21 377.60,335.21 377.65,335.22 377.70,335.23 378.00,335.26 378.50,335.30 379.00,335.32 379.50,335.33 380.00,335.32 380.50,335.30 381.00,335.26 381.30,335.23 381.35,335.22 381.40,335.22 381.45,335.21 381.50,335.20 381.55,335.20 381.60,335.19 381.65,335.18 381.70,335.17 381.75,335.17 381.80,335.16 381.85,335.15 381.90,335.14 381.95,335.13 382.00,335.12 382.05,335.11 382.10,335.10 382.15,335.09 382.20,335.08 382.25,335.06 382.30,335.05 382.35,335.04 382.40,335.03 382.45,335.01 382.50,335.00 382.55,334.98 382.60,334.97 382.65,334.95 382.70,334.94 382.75,334.92 382.80,334.90 382.85,334.89 382.90,334.87 382.95,334.85 383.00,334.83 383.05,334.81 383.10,334.79 383.15,334.76 383.20,334.74 383.25,334.72 383.30,334.69 383.35,334.66 383.40,334.64 383.45,334.61 383.50,334.58 383.55,334.55 383.60,334.52 383.65,334.48 383.70,334.45 383.75,334.41 383.80,334.37 383.85,334.33 383.90,334.29 383.95,334.25 384.00,334.20 384.05,334.16 384.10,334.11 384.15,334.05 384.20,334.00 384.25,333.94 384.30,333.88 384.35,333.82 384.40,333.75 384.45,333.68 384.50,333.60 384.55,333.53 384.60,333.44 384.65,333.36 384.70,333.26 384.75,333.16 384.80,333.06 384.85,332.95 384.90,332.83 384.95,332.71 385.00,332.58 385.05,332.43 385.10,332.28 385.15,332.12 385.20,331.95 385.25,331.76 385.30,331.56 385.35,331.35 385.40,331.12 385.45,330.87 385.50,330.59 385.55,330.30 385.60,329.98 385.65,329.63 385.70,329.25 385.75,328.84 385.80,328.38 385.85,327.88 385.90,327.33 385.95,326.71 386.00,326.03 386.05,325.27 386.10,324.42 386.15,323.46 386.20,322.38 386.25,321.15 386.30,319.76 386.35,318.15 386.40,316.31 386.45,314.16 386.50,311.66 386.55,308.72 386.60,305.23 386.65,301.06 386.70,296.05 386.75,289.96 386.80,282.51 386.85,273.32 386.90,261.92 386.95,247.75 387.00,230.18 387.05,208.73 387.10,183.41 387.15,155.45 387.20,128.26 387.25,107.62 387.30,99.79 387.35,107.62 387.40,128.26 387.45,155.45 387.50,183.41 387.55,208.73 387.60,230.18 387.65,247.75 387.70,261.92 387.75,273.32 387.80,282.51 387.85,289.96 387.90,296.05 387.95,301.06 388.00,305.23 388.05,308.72 388.10,311.66 388.15,314.16 388.20,316.31 388.25,318.15 388.30,319.76 388.35,321.15 388.40,322.38 388.45,323.46 388.50,324.42 388.55,325.27 388.60,326.03 388.65,326.71 388.70,327.33 388.75,327.88 388.80,328.38 388.85,328.84 388.90,329.25 388.95,329.63 389.00,329.98 389.05,330.30 389.10,330.59 389.15,330.86 389.20,331.11 389.25,331.35 389.30,331.56 389.35,331.76 389.40,331.95 389.45,332.12 389.50,332.28 389.55,332.43 389.60,332.57 389.65,332.71 389.70,332.83 389.75,332.95 389.80,333.06 389.85,333.16 389.90,333.26 389.95,333.35 390.00,333.44 390.05,333.52 390.10,333.60 390.15,333.68 390.20,333.75 390.25,333.81 390.30,333.88 390.35,333.94 390.40,334.00 390.45,334.05 390.50,334.10 390.55,334.15 390.60,334.20 390.65,334.25 390.70,334.29 390.75,334.33 390.80,334.37 390.85,334.41 390.90,334.45 390.95,334.48 391.00,334.51 391.05,334.55 391.10,334.58 391.15,334.61 391.20,334.63 391.25,334.66 391.30,334.69 391.35,334.71 391.40,334.74 391.45,334.76 391.50,334.78 391.55,334.80 391.60,334.83 391.65,334.85 391.70,334.86 391.75,334.88 391.80,334.90 391.85,334.92 391.90,334.94 391.95,334.95 392.00,334.97 392.05,334.98 392.10,335.00 392.15,335.01 392.20,335.02 392.25,335.04 392.30,335.05 392.35,335.06 392.40,335.07 392.45,335.08 392.50,335.09 392.55,335.10 392.60,335.12 392.65,335.12 392.70,335.13 392.75,335.14 392.80,335.15 392.85,335.16 392.90,335.17 392.95,335.18 393.00,335.18 393.05,335.19 393.10,335.20 393.15,335.21 393.20,335.21 393.25,335.22 393.30,335.22 393.50,335.25 394.00,335.29 394.50,335.31 395.00,335.32 395.50,335.31 396.00,335.29 396.50,335.25 396.60,335.23 396.65,335.23 396.70,335.22 396.75,335.22 396.80,335.21 396.85,335.20 396.90,335.20 396.95,335.19 397.00,335.18 397.05,335.17 397.10,335.17 397.15,335.16 397.20,335.15 397.25,335.14 397.30,335.13 397.35,335.12 397.40,335.11 397.45,335.10 397.50,335.09 397.55,335.08 397.60,335.07 397.65,335.06 397.70,335.04 397.75,335.03 397.80,335.02 397.85,335.00 397.90,334.99 397.95,334.97 398.00,334.96 398.05,334.94 398.10,334.93 398.15,334.91 398.20,334.89 398.25,334.87 398.30,334.85 398.35,334.83 398.40,334.81 398.45,334.79 398.50,334.77 398.55,334.75 398.60,334.72 398.65,334.70 398.70,334.67 398.75,334.64 398.80,334.62 398.85,334.59 398.90,334.55 398.95,334.52 399.00,334.49 399.05,334.45 399.10,334.42 399.15,334.38 399.20,334.34 399.25,334.30 399.30,334.25 399.35,334.21 399.40,334.16 399.45,334.11 399.50,334.06 399.55,334.00 399.60,333.94 399.65,333.88 399.70,333.82 399.75,333.75 399.80,333.68 399.85,333.60 399.90,333.52 399.95,333.44 400.00,333.35 400.05,333.25 400.10,333.15 400.15,333.05 400.20,332.94 400.25,332.82 400.30,332.69 400.35,332.55 400.40,332.41 400.45,332.25 400.50,332.08 400.55,331.90 400.60,331.71 400.65,331.50 400.70,331.28 400.75,331.04 400.80,330.78 400.85,330.50 400.90,330.19 400.95,329.85 401.00,329.49 401.05,329.09 401.10,328.65 401.15,328.16 401.20,327.63 401.25,327.04 401.30,326.38 401.35,325.65 401.40,324.83 401.45,323.90 401.50,322.86 401.55,321.68 401.60,320.33 401.65,318.79 401.70,317.01 401.75,314.94 401.80,312.53 401.85,309.69 401.90,306.33 401.95,302.31 402.00,297.48 402.05,291.61 402.10,284.43 402.15,275.57 402.20,264.58 402.25,250.92 402.30,233.98 402.35,213.30 402.40,188.89 402.45,161.95 402.50,135.73 402.55,115.83 402.60,108.29 402.65,115.83 402.70,135.73 402.75,161.95 402.80,188.89 402.85,213.30 402.90,233.98 402.95,250.92 403.00,264.58 403.05,275.57 403.10,284.43 403.15,291.61 403.20,297.48 403.25,302.31 403.30,306.33 403.35,309.69 403.40,312.53 403.45,314.94 403.50,317.01 403.55,318.79 403.60,320.33 403.65,321.68 403.70,322.86 403.75,323.90 403.80,324.83 403.85,325.65 403.90,326.38 403.95,327.04 404.00,327.63 404.05,328.16 404.10,328.65 404.15,329.09 404.20,329.49 404.25,329.85 404.30,330.19 404.35,330.50 404.40,330.78 404.45,331.04 404.50,331.28 404.55,331.51 404.60,331.71 404.65,331.90 404.70,332.08 404.75,332.25 404.80,332.41 404.85,332.55 404.90,332.69 404.95,332.82 405.00,332.94 405.05,333.05 405.10,333.16 405.15,333.26 405.20,333.35 405.25,333.44 405.30,333.52 405.35,333.60 405.40,333.68 405.45,333.75 405.50,333.82 405.55,333.88 405.60,333.95 405.65,334.00 405.70,334.06 405.75,334.11 405.80,334.16 405.85,334.21 405.90,334.26 405.95,334.30 406.00,334.34 406.05,334.38 406.10,334.42 406.15,334.46 406.20,334.49 406.25,334.53 406.30,334.56 406.35,334.59 406.40,334.62 406.45,334.65 406.50,334.67 406.55,334.70 406.60,334.73 406.65,334.75 406.70,334.77 406.75,334.79 406.80,334.82 406.85,334.84 406.90,334.86 406.95,334.88 407.00,334.89 407.05,334.91 407.10,334.93 407.15,334.95 407.20,334.96 407.25,334.98 407.30,334.99 407.35,335.01 407.40,335.02 407.45,335.03 407.50,335.05 407.55,335.06 407.60,335.07 407.65,335.08 407.70,335.09 407.75,335.10 407.80,335.11 407.85,335.12 407.90,335.13 407.95,335.14 408.00,335.15 408.05,335.16 408.10,335.17 408.15,335.18 408.20,335.19 408.25,335.19 408.30,335.20 408.35,335.21 408.40,335.21 408.45,335.22 408.50,335.23 408.55,335.23 408.60,335.24 409.00,335.28 409.50,335.30 410.00,335.32 410.50,335.31 411.00,335.29 411.50,335.26 411.55,335.25 411.60,335.25 411.65,335.24 411.70,335.23 411.75,335.23 411.80,335.22 411.85,335.22 411.90,335.21 411.95,335.20 412.00,335.20 412.05,335.19 412.10,335.18 412.15,335.17 412.20,335.16 412.25,335.16 412.30,335.15 412.35,335.14 412.40,335.13 412.45,335.12 412.50,335.11 412.55,335.10 412.60,335.08 412.65,335.07 412.70,335.06 412.75,335.05 412.80,335.03 412.85,335.02 412.90,335.01 412.95,334.99 413.00,334.98 413.05,334.96 413.10,334.95 413.15,334.93 413.20,334.91 413.25,334.89 413.30,334.87 413.35,334.85 413.40,334.83 413.45,334.81 413.50,334.79 413.55,334.77 413.60,334.74 413.65,334.72 413.70,334.69 413.75,334.66 413.80,334.63 413.85,334.60 413.90,334.57 413.95,334.54 414.00,334.51 414.05,334.47 414.10,334.43 414.15,334.39 414.20,334.35 414.25,334.31 414.30,334.27 414.35,334.22 414.40,334.17 414.45,334.12 414.50,334.07 414.55,334.01 414.60,333.95 414.65,333.89 414.70,333.82 414.75,333.75 414.80,333.67 414.85,333.60 414.90,333.51 414.95,333.42 415.00,333.33 415.05,333.23 415.10,333.13 415.15,333.01 415.20,332.90 415.25,332.77 415.30,332.63 415.35,332.49 415.40,332.33 415.45,332.16 415.50,331.99 415.55,331.79 415.60,331.58 415.65,331.36 415.70,331.12 415.75,330.85 415.80,330.57 415.85,330.25 415.90,329.91 415.95,329.54 416.00,329.13 416.05,328.68 416.10,328.18 416.15,327.63 416.20,327.01 416.25,326.33 416.30,325.57 416.35,324.70 416.40,323.73 416.45,322.63 416.50,321.37 416.55,319.93 416.60,318.27 416.65,316.34 416.70,314.09 416.75,311.45 416.80,308.31 416.85,304.57 416.90,300.06 416.95,294.59 417.00,287.89 417.05,279.62 417.10,269.37 417.15,256.63 417.20,240.83 417.25,221.54 417.30,198.78 417.35,173.64 417.40,149.19 417.45,130.63 417.50,123.59 417.55,130.63 417.60,149.19 417.65,173.64 417.70,198.78 417.75,221.55 417.80,240.83 417.85,256.63 417.90,269.37 417.95,279.62 418.00,287.89 418.05,294.59 418.10,300.06 418.15,304.57 418.20,308.31 418.25,311.45 418.30,314.10 418.35,316.35 418.40,318.27 418.45,319.93 418.50,321.38 418.55,322.63 418.60,323.74 418.65,324.71 418.70,325.57 418.75,326.33 418.80,327.02 418.85,327.63 418.90,328.18 418.95,328.68 419.00,329.13 419.05,329.54 419.10,329.92 419.15,330.26 419.20,330.57 419.25,330.86 419.30,331.12 419.35,331.36 419.40,331.59 419.45,331.80 419.50,331.99 419.55,332.17 419.60,332.34 419.65,332.49 419.70,332.64 419.75,332.78 419.80,332.90 419.85,333.02 419.90,333.13 419.95,333.24 420.00,333.34 420.05,333.43 420.10,333.52 420.15,333.60 420.20,333.68 420.25,333.76 420.30,333.83 420.35,333.89 420.40,333.96 420.45,334.02 420.50,334.07 420.55,334.13 420.60,334.18 420.65,334.23 420.70,334.28 420.75,334.32 420.80,334.36 420.85,334.41 420.90,334.44 420.95,334.48 421.00,334.52 421.05,334.55 421.10,334.58 421.15,334.62 421.20,334.65 421.25,334.67 421.30,334.70 421.35,334.73 421.40,334.75 421.45,334.78 421.50,334.80 421.55,334.82 421.60,334.85 421.65,334.87 421.70,334.89 421.75,334.91 421.80,334.92 421.85,334.94 421.90,334.96 421.95,334.98 422.00,334.99 422.05,335.01 422.10,335.02 422.15,335.04 422.20,335.05 422.25,335.06 422.30,335.08 422.35,335.09 422.40,335.10 422.45,335.11 422.50,335.12 422.55,335.13 422.60,335.14 422.65,335.15 422.70,335.16 422.75,335.17 422.80,335.18 422.85,335.19 422.90,335.20 422.95,335.21 423.00,335.21 423.05,335.22 423.10,335.23 423.15,335.24 423.20,335.24 423.25,335.25 423.30,335.25 423.35,335.26 423.40,335.27 423.45,335.27 423.50,335.28 424.00,335.32 424.50,335.34 425.00,335.35 425.50,335.34 426.00,335.31 426.10,335.30 426.15,335.30 426.20,335.29 426.25,335.29 426.30,335.28 426.35,335.28 426.40,335.27 426.45,335.27 426.50,335.26 426.55,335.26 426.60,335.25 426.65,335.24 426.70,335.24 426.75,335.23 426.80,335.22 426.85,335.21 426.90,335.21 426.95,335.20 427.00,335.19 427.05,335.18 427.10,335.17 427.15,335.16 427.20,335.15 427.25,335.14 427.30,335.13 427.35,335.12 427.40,335.11 427.45,335.10 427.50,335.08 427.55,335.07 427.60,335.06 427.65,335.04 427.70,335.03 427.75,335.01 427.80,335.00 427.85,334.98 427.90,334.96 427.95,334.95 428.00,334.93 428.05,334.91 428.10,334.89 428.15,334.87 428.20,334.85 428.25,334.82 428.30,334.80 428.35,334.78 428.40,334.75 428.45,334.72 428.50,334.70 428.55,334.67 428.60,334.64 428.65,334.60 428.70,334.57 428.75,334.54 428.80,334.50 428.85,334.46 428.90,334.42 428.95,334.38 429.00,334.34 429.05,334.29 429.10,334.24 429.15,334.19 429.20,334.13 429.25,334.08 429.30,334.02 429.35,333.95 429.40,333.89 429.45,333.82 429.50,333.74 429.55,333.66 429.60,333.58 429.65,333.49 429.70,333.40 429.75,333.29 429.80,333.19 429.85,333.07 429.90,332.95 429.95,332.82 430.00,332.68 430.05,332.53 430.10,332.37 430.15,332.19 430.20,332.01 430.25,331.80 430.30,331.58 430.35,331.35 430.40,331.09 430.45,330.81 430.50,330.50 430.55,330.16 430.60,329.79 430.65,329.39 430.70,328.94 430.75,328.44 430.80,327.89 430.85,327.27 430.90,326.58 430.95,325.81 431.00,324.93 431.05,323.94 431.10,322.81 431.15,321.51 431.20,320.01 431.25,318.28 431.30,316.25 431.35,313.86 431.40,311.04 431.45,307.66 431.50,303.60 431.55,298.67 431.60,292.63 431.65,285.19 431.70,275.95 431.75,264.47 431.80,250.24 431.85,232.86 431.90,212.34 431.95,189.70 432.00,167.67 432.05,150.94 432.10,144.60 432.15,150.94 432.20,167.67 432.25,189.70 432.30,212.34 432.35,232.86 432.40,250.24 432.45,264.47 432.50,275.96 432.55,285.19 432.60,292.64 432.65,298.67 432.70,303.61 432.75,307.67 432.80,311.04 432.85,313.87 432.90,316.25 432.95,318.28 433.00,320.02 433.05,321.51 433.10,322.81 433.15,323.94 433.20,324.94 433.25,325.81 433.30,326.59 433.35,327.28 433.40,327.90 433.45,328.45 433.50,328.94 433.55,329.39 433.60,329.80 433.65,330.17 433.70,330.51 433.75,330.81 433.80,331.10 433.85,331.35 433.90,331.59 433.95,331.81 434.00,332.01 434.05,332.20 434.10,332.38 434.15,332.54 434.20,332.69 434.25,332.83 434.30,332.96 434.35,333.08 434.40,333.20 434.45,333.30 434.50,333.41 434.55,333.50 434.60,333.59 434.65,333.67 434.70,333.75 434.75,333.83 434.80,333.90 434.85,333.97 434.90,334.03 434.95,334.09 435.00,334.15 435.05,334.20 435.10,334.25 435.15,334.30 435.20,334.35 435.25,334.39 435.30,334.43 435.35,334.47 435.40,334.51 435.45,334.55 435.50,334.59 435.55,334.62 435.60,334.65 435.65,334.68 435.70,334.71 435.75,334.74 435.80,334.77 435.85,334.79 435.90,334.82 435.95,334.84 436.00,334.86 436.05,334.89 436.10,334.91 436.15,334.93 436.20,334.95 436.25,334.96 436.30,334.98 436.35,335.00 436.40,335.02 436.45,335.03 436.50,335.05 436.55,335.06 436.60,335.08 436.65,335.09 436.70,335.10 436.75,335.12 436.80,335.13 436.85,335.14 436.90,335.15 436.95,335.16 437.00,335.17 437.05,335.18 437.10,335.19 437.15,335.20 437.20,335.21 437.25,335.22 437.30,335.23 437.35,335.24 437.40,335.25 437.45,335.25 437.50,335.26 437.55,335.27 437.60,335.27 437.65,335.28 437.70,335.29 437.75,335.29 437.80,335.30 437.85,335.30 437.90,335.31 437.95,335.31 438.00,335.32 438.05,335.32 438.10,335.33 438.50,335.36 439.00,335.38 439.50,335.38 440.00,335.37 440.30,335.35 440.35,335.35 440.40,335.35 440.45,335.34 440.50,335.34 440.55,335.33 440.60,335.33 440.65,335.33 440.70,335.32 440.75,335.32 440.80,335.31 440.85,335.31 440.90,335.30 440.95,335.29 441.00,335.29 441.05,335.28 441.10,335.27 441.15,335.27 441.20,335.26 441.25,335.25 441.30,335.25 441.35,335.24 441.40,335.23 441.45,335.22 441.50,335.21 441.55,335.20 441.60,335.19 441.65,335.18 441.70,335.17 441.75,335.16 441.80,335.15 441.85,335.13 441.90,335.12 441.95,335.11 442.00,335.09 442.05,335.08 442.10,335.07 442.15,335.05 442.20,335.03 442.25,335.02 442.30,335.00 442.35,334.98 442.40,334.96 442.45,334.94 442.50,334.92 442.55,334.90 442.60,334.88 442.65,334.85 442.70,334.83 442.75,334.80 442.80,334.78 442.85,334.75 442.90,334.72 442.95,334.69 443.00,334.66 443.05,334.62 443.10,334.59 443.15,334.55 443.20,334.51 443.25,334.47 443.30,334.43 443.35,334.38 443.40,334.34 443.45,334.29 443.50,334.23 443.55,334.18 443.60,334.12 443.65,334.06 443.70,333.99 443.75,333.92 443.80,333.85 443.85,333.77 443.90,333.68 443.95,333.60 444.00,333.50 444.05,333.40 444.10,333.29 444.15,333.18 444.20,333.05 444.25,332.92 444.30,332.78 444.35,332.62 444.40,332.46 444.45,332.28 444.50,332.09 444.55,331.88 444.60,331.65 444.65,331.40 444.70,331.13 444.75,330.83 444.80,330.51 444.85,330.15 444.90,329.75 444.95,329.31 445.00,328.82 445.05,328.28 445.10,327.67 445.15,326.99 445.20,326.21 445.25,325.33 445.30,324.33 445.35,323.19 445.40,321.86 445.45,320.33 445.50,318.54 445.55,316.43 445.60,313.94 445.65,310.96 445.70,307.37 445.75,303.01 445.80,297.68 445.85,291.10 445.90,282.95 445.95,272.80 446.00,260.23 446.05,244.88 446.10,226.75 446.15,206.75 446.20,187.29 446.25,172.51 446.30,166.91 446.35,172.52 446.40,187.29 446.45,206.75 446.50,226.76 446.55,244.88 446.60,260.23 446.65,272.80 446.70,282.95 446.75,291.11 446.80,297.68 446.85,303.02 446.90,307.37 446.95,310.96 447.00,313.94 447.05,316.44 447.10,318.54 447.15,320.34 447.20,321.87 447.25,323.19 447.30,324.34 447.35,325.34 447.40,326.22 447.45,326.99 447.50,327.68 447.55,328.29 447.60,328.83 447.65,329.32 447.70,329.76 447.75,330.15 447.80,330.51 447.85,330.84 447.90,331.14 447.95,331.41 448.00,331.66 448.05,331.89 448.10,332.10 448.15,332.29 448.20,332.47 448.25,332.64 448.30,332.79 448.35,332.93 448.40,333.06 448.45,333.19 448.50,333.30 448.55,333.41 448.60,333.51 448.65,333.61 448.70,333.70 448.75,333.78 448.80,333.86 448.85,333.94 448.90,334.01 448.95,334.07 449.00,334.13 449.05,334.19 449.10,334.25 449.15,334.30 449.20,334.35 449.25,334.40 449.30,334.45 449.35,334.49 449.40,334.53 449.45,334.57 449.50,334.61 449.55,334.64 449.60,334.68 449.65,334.71 449.70,334.74 449.75,334.77 449.80,334.80 449.85,334.83 449.90,334.85 449.95,334.88 450.00,334.90 450.05,334.92 450.10,334.94 450.15,334.97 450.20,334.99 450.25,335.01 450.30,335.02 450.35,335.04 450.40,335.06 450.45,335.08 450.50,335.09 450.55,335.11 450.60,335.12 450.65,335.14 450.70,335.15 450.75,335.16 450.80,335.17 450.85,335.19 450.90,335.20 450.95,335.21 451.00,335.22 451.05,335.23 451.10,335.24 451.15,335.25 451.20,335.26 451.25,335.27 451.30,335.28 451.35,335.29 451.40,335.29 451.45,335.30 451.50,335.31 451.55,335.32 451.60,335.32 451.65,335.33 451.70,335.34 451.75,335.34 451.80,335.35 451.85,335.35 451.90,335.36 451.95,335.36 452.00,335.37 452.05,335.37 452.10,335.38 452.15,335.38 452.20,335.39 452.25,335.39 452.30,335.39 452.50,335.41 453.00,335.43 453.50,335.43 454.00,335.43 454.20,335.42 454.25,335.41 454.30,335.41 454.35,335.41 454.40,335.41 454.45,335.40 454.50,335.40 454.55,335.40 454.60,335.39 454.65,335.39 454.70,335.38 454.75,335.38 454.80,335.38 454.85,335.37 454.90,335.37 454.95,335.36 455.00,335.36 455.05,335.35 455.10,335.34 455.15,335.34 455.20,335.33 455.25,335.32 455.30,335.32 455.35,335.31 455.40,335.30 455.45,335.29 455.50,335.29 455.55,335.28 455.60,335.27 455.65,335.26 455.70,335.25 455.75,335.24 455.80,335.23 455.85,335.22 455.90,335.20 455.95,335.19 456.00,335.18 456.05,335.17 456.10,335.15 456.15,335.14 456.20,335.12 456.25,335.11 456.30,335.09 456.35,335.08 456.40,335.06 456.45,335.04 456.50,335.02 456.55,335.00 456.60,334.98 456.65,334.96 456.70,334.94 456.75,334.91 456.80,334.89 456.85,334.86 456.90,334.83 456.95,334.80 457.00,334.77 457.05,334.74 457.10,334.71 457.15,334.67 457.20,334.64 457.25,334.60 457.30,334.56 457.35,334.52 457.40,334.47 457.45,334.42 457.50,334.37 457.55,334.32 457.60,334.26 457.65,334.20 457.70,334.14 457.75,334.07 457.80,334.00 457.85,333.92 457.90,333.84 457.95,333.76 458.00,333.66 458.05,333.57 458.10,333.46 458.15,333.35 458.20,333.22 458.25,333.09 458.30,332.95 458.35,332.80 458.40,332.63 458.45,332.45 458.50,332.26 458.55,332.04 458.60,331.81 458.65,331.56 458.70,331.28 458.75,330.97 458.80,330.63 458.85,330.25 458.90,329.83 458.95,329.37 459.00,328.85 459.05,328.26 459.10,327.60 459.15,326.84 459.20,325.99 459.25,325.00 459.30,323.87 459.35,322.55 459.40,321.02 459.45,319.21 459.50,317.07 459.55,314.52 459.60,311.44 459.65,307.71 459.70,303.14 459.75,297.50 459.80,290.50 459.85,281.81 459.90,271.03 459.95,257.87 460.00,242.33 460.05,225.18 460.10,208.50 460.15,195.83 460.20,191.03 460.25,195.83 460.30,208.50 460.35,225.18 460.40,242.33 460.45,257.87 460.50,271.03 460.55,281.81 460.60,290.51 460.65,297.50 460.70,303.14 460.75,307.71 460.80,311.45 460.85,314.52 460.90,317.08 460.95,319.22 461.00,321.02 461.05,322.56 461.10,323.87 461.15,325.01 461.20,325.99 461.25,326.85 461.30,327.60 461.35,328.27 461.40,328.85 461.45,329.38 461.50,329.84 461.55,330.26 461.60,330.64 461.65,330.98 461.70,331.29 461.75,331.57 461.80,331.82 461.85,332.05 461.90,332.27 461.95,332.46 462.00,332.64 462.05,332.81 462.10,332.96 462.15,333.10 462.20,333.24 462.25,333.36 462.30,333.47 462.35,333.58 462.40,333.68 462.45,333.77 462.50,333.86 462.55,333.94 462.60,334.02 462.65,334.09 462.70,334.16 462.75,334.22 462.80,334.28 462.85,334.34 462.90,334.39 462.95,334.44 463.00,334.49 463.05,334.53 463.10,334.58 463.15,334.62 463.20,334.66 463.25,334.69 463.30,334.73 463.35,334.76 463.40,334.79 463.45,334.83 463.50,334.85 463.55,334.88 463.60,334.91 463.65,334.93 463.70,334.96 463.75,334.98 463.80,335.00 463.85,335.02 463.90,335.05 463.95,335.06 464.00,335.08 464.05,335.10 464.10,335.12 464.15,335.13 464.20,335.15 464.25,335.17 464.30,335.18 464.35,335.19 464.40,335.21 464.45,335.22 464.50,335.23 464.55,335.25 464.60,335.26 464.65,335.27 464.70,335.28 464.75,335.29 464.80,335.30 464.85,335.31 464.90,335.32 464.95,335.33 465.00,335.33 465.05,335.34 465.10,335.35 465.15,335.36 465.20,335.37 465.25,335.37 465.30,335.38 465.35,335.39 465.40,335.39 465.45,335.40 465.50,335.40 465.55,335.41 465.60,335.41 465.65,335.42 465.70,335.42 465.75,335.43 465.80,335.43 465.85,335.44 465.90,335.44 465.95,335.45 466.00,335.45 466.05,335.45 466.10,335.46 466.15,335.46 466.20,335.46 466.50,335.48 467.00,335.49 467.50,335.49 467.70,335.48 467.75,335.48 467.80,335.48 467.85,335.48 467.90,335.47 467.95,335.47 468.00,335.47 468.05,335.47 468.10,335.46 468.15,335.46 468.20,335.46 468.25,335.46 468.30,335.45 468.35,335.45 468.40,335.44 468.45,335.44 468.50,335.44 468.55,335.43 468.60,335.43 468.65,335.42 468.70,335.42 468.75,335.41 468.80,335.41 468.85,335.40 468.90,335.39 468.95,335.39 469.00,335.38 469.05,335.37 469.10,335.37 469.15,335.36 469.20,335.35 469.25,335.34 469.30,335.33 469.35,335.32 469.40,335.31 469.45,335.30 469.50,335.29 469.55,335.28 469.60,335.27 469.65,335.26 469.70,335.25 469.75,335.24 469.80,335.22 469.85,335.21 469.90,335.19 469.95,335.18 470.00,335.16 470.05,335.15 470.10,335.13 470.15,335.11 470.20,335.09 470.25,335.07 470.30,335.05 470.35,335.03 470.40,335.01 470.45,334.98 470.50,334.96 470.55,334.93 470.60,334.90 470.65,334.87 470.70,334.84 470.75,334.81 470.80,334.78 470.85,334.74 470.90,334.70 470.95,334.67 471.00,334.62 471.05,334.58 471.10,334.53 471.15,334.48 471.20,334.43 471.25,334.37 471.30,334.31 471.35,334.25 471.40,334.18 471.45,334.11 471.50,334.03 471.55,333.95 471.60,333.86 471.65,333.77 471.70,333.66 471.75,333.55 471.80,333.43 471.85,333.31 471.90,333.17 471.95,333.02 472.00,332.85 472.05,332.68 472.10,332.48 472.15,332.27 472.20,332.03 472.25,331.78 472.30,331.49 472.35,331.18 472.40,330.83 472.45,330.44 472.50,330.00 472.55,329.51 472.60,328.95 472.65,328.32 472.70,327.61 472.75,326.78 472.80,325.83 472.85,324.73 472.90,323.45 472.95,321.94 473.00,320.15 473.05,318.01 473.10,315.43 473.15,312.31 473.20,308.48 473.25,303.76 473.30,297.91 473.35,290.63 473.40,281.61 473.45,270.59 473.50,257.59 473.55,243.23 473.60,229.27 473.65,218.67 473.70,214.65 473.75,218.67 473.80,229.27 473.85,243.23 473.90,257.59 473.95,270.59 474.00,281.61 474.05,290.63 474.10,297.91 474.15,303.77 474.20,308.49 474.25,312.31 474.30,315.44 474.35,318.01 474.40,320.15 474.45,321.94 474.50,323.45 474.55,324.74 474.60,325.84 474.65,326.79 474.70,327.61 474.75,328.33 474.80,328.96 474.85,329.52 474.90,330.01 474.95,330.45 475.00,330.84 475.05,331.19 475.10,331.50 475.15,331.79 475.20,332.04 475.25,332.28 475.30,332.49 475.35,332.69 475.40,332.87 475.45,333.03 475.50,333.18 475.55,333.32 475.60,333.45 475.65,333.57 475.70,333.68 475.75,333.78 475.80,333.87 475.85,333.96 475.90,334.05 475.95,334.12 476.00,334.20 476.05,334.27 476.10,334.33 476.15,334.39 476.20,334.45 476.25,334.50 476.30,334.55 476.35,334.60 476.40,334.64 476.45,334.68 476.50,334.72 476.55,334.76 476.60,334.80 476.65,334.83 476.70,334.87 476.75,334.90 476.80,334.93 476.85,334.95 476.90,334.98 476.95,335.01 477.00,335.03 477.05,335.05 477.10,335.08 477.15,335.10 477.20,335.12 477.25,335.14 477.30,335.16 477.35,335.17 477.40,335.19 477.45,335.21 477.50,335.22 477.55,335.24 477.60,335.25 477.65,335.27 477.70,335.28 477.75,335.29 477.80,335.30 477.85,335.32 477.90,335.33 477.95,335.34 478.00,335.35 478.05,335.36 478.10,335.37 478.15,335.38 478.20,335.39 478.25,335.39 478.30,335.40 478.35,335.41 478.40,335.42 478.45,335.42 478.50,335.43 478.55,335.44 478.60,335.45 478.65,335.45 478.70,335.46 478.75,335.46 478.80,335.47 478.85,335.47 478.90,335.48 478.95,335.48 479.00,335.49 479.05,335.49 479.10,335.50 479.15,335.50 479.20,335.51 479.25,335.51 479.30,335.51 479.35,335.52 479.40,335.52 479.45,335.52 479.50,335.53 479.55,335.53 479.60,335.53 479.65,335.53 479.70,335.54 480.00,335.55 480.50,335.55 480.90,335.55 480.95,335.55 481.00,335.55 481.05,335.55 481.10,335.55 481.15,335.54 481.20,335.54 481.25,335.54 481.30,335.54 481.35,335.54 481.40,335.54 481.45,335.53 481.50,335.53 481.55,335.53 481.60,335.52 481.65,335.52 481.70,335.52 481.75,335.51 481.80,335.51 481.85,335.51 481.90,335.50 481.95,335.50 482.00,335.49 482.05,335.49 482.10,335.48 482.15,335.48 482.20,335.47 482.25,335.47 482.30,335.46 482.35,335.46 482.40,335.45 482.45,335.44 482.50,335.44 482.55,335.43 482.60,335.42 482.65,335.41 482.70,335.41 482.75,335.40 482.80,335.39 482.85,335.38 482.90,335.37 482.95,335.36 483.00,335.35 483.05,335.34 483.10,335.32 483.15,335.31 483.20,335.30 483.25,335.29 483.30,335.27 483.35,335.26 483.40,335.24 483.45,335.23 483.50,335.21 483.55,335.19 483.60,335.17 483.65,335.15 483.70,335.13 483.75,335.11 483.80,335.09 483.85,335.06 483.90,335.04 483.95,335.01 484.00,334.98 484.05,334.96 484.10,334.92 484.15,334.89 484.20,334.86 484.25,334.82 484.30,334.78 484.35,334.74 484.40,334.70 484.45,334.65 484.50,334.60 484.55,334.55 484.60,334.50 484.65,334.44 484.70,334.37 484.75,334.31 484.80,334.23 484.85,334.15 484.90,334.07 484.95,333.98 485.00,333.88 485.05,333.78 485.10,333.66 485.15,333.54 485.20,333.41 485.25,333.26 485.30,333.10 485.35,332.93 485.40,332.73 485.45,332.52 485.50,332.29 485.55,332.03 485.60,331.74 485.65,331.42 485.70,331.06 485.75,330.66 485.80,330.21 485.85,329.69 485.90,329.10 485.95,328.42 486.00,327.65 486.05,326.74 486.10,325.69 486.15,324.45 486.20,322.98 486.25,321.22 486.30,319.11 486.35,316.54 486.40,313.40 486.45,309.53 486.50,304.72 486.55,298.74 486.60,291.34 486.65,282.29 486.70,271.62 486.75,259.83 486.80,248.37 486.85,239.66 486.90,236.37 486.95,239.66 487.00,248.37 487.05,259.83 487.10,271.62 487.15,282.29 487.20,291.34 487.25,298.74 487.30,304.72 487.35,309.53 487.40,313.40 487.45,316.54 487.50,319.11 487.55,321.22 487.60,322.98 487.65,324.45 487.70,325.69 487.75,326.75 487.80,327.65 487.85,328.43 487.90,329.11 487.95,329.70 488.00,330.21 488.05,330.67 488.10,331.07 488.15,331.43 488.20,331.75 488.25,332.04 488.30,332.30 488.35,332.53 488.40,332.74 488.45,332.94 488.50,333.11 488.55,333.27 488.60,333.42 488.65,333.55 488.70,333.68 488.75,333.79 488.80,333.90 488.85,333.99 488.90,334.08 488.95,334.17 489.00,334.25 489.05,334.32 489.10,334.39 489.15,334.45 489.20,334.51 489.25,334.57 489.30,334.62 489.35,334.67 489.40,334.72 489.45,334.76 489.50,334.80 489.55,334.84 489.60,334.88 489.65,334.91 489.70,334.94 489.75,334.98 489.80,335.01 489.85,335.03 489.90,335.06 489.95,335.09 490.00,335.11 490.05,335.13 490.10,335.15 490.15,335.18 490.20,335.20 490.25,335.21 490.30,335.23 490.35,335.25 490.40,335.27 490.45,335.28 490.50,335.30 490.55,335.31 490.60,335.33 490.65,335.34 490.70,335.35 490.75,335.36 490.80,335.38 490.85,335.39 490.90,335.40 490.95,335.41 491.00,335.42 491.05,335.43 491.10,335.44 491.15,335.45 491.20,335.45 491.25,335.46 491.30,335.47 491.35,335.48 491.40,335.48 491.45,335.49 491.50,335.50 491.55,335.50 491.60,335.51 491.65,335.52 491.70,335.52 491.75,335.53 491.80,335.53 491.85,335.54 491.90,335.54 491.95,335.55 492.00,335.55 492.05,335.56 492.10,335.56 492.15,335.56 492.20,335.57 492.25,335.57 492.30,335.57 492.35,335.58 492.40,335.58 492.45,335.58 492.50,335.59 492.55,335.59 492.60,335.59 492.65,335.59 492.70,335.60 492.75,335.60 492.80,335.60 492.85,335.60 492.90,335.60 493.00,335.61 493.50,335.61 493.70,335.61 493.75,335.61 493.80,335.61 493.85,335.61 493.90,335.61 493.95,335.61 494.00,335.61 494.05,335.61 494.10,335.61 494.15,335.61 494.20,335.60 494.25,335.60 494.30,335.60 494.35,335.60 494.40,335.60 494.45,335.59 494.50,335.59 494.55,335.59 494.60,335.59 494.65,335.58 494.70,335.58 494.75,335.58 494.80,335.58 494.85,335.57 494.90,335.57 494.95,335.56 495.00,335.56 495.05,335.56 495.10,335.55 495.15,335.55 495.20,335.54 495.25,335.54 495.30,335.53 495.35,335.53 495.40,335.52 495.45,335.51 495.50,335.51 495.55,335.50 495.60,335.49 495.65,335.49 495.70,335.48 495.75,335.47 495.80,335.46 495.85,335.45 495.90,335.44 495.95,335.43 496.00,335.42 496.05,335.41 496.10,335.40 496.15,335.39 496.20,335.38 496.25,335.36 496.30,335.35 496.35,335.34 496.40,335.32 496.45,335.31 496.50,335.29 496.55,335.27 496.60,335.26 496.65,335.24 496.70,335.22 496.75,335.20 496.80,335.17 496.85,335.15 496.90,335.13 496.95,335.10 497.00,335.07 497.05,335.04 497.10,335.01 497.15,334.98 497.20,334.94 497.25,334.91 497.30,334.87 497.35,334.83 497.40,334.78 497.45,334.73 497.50,334.68 497.55,334.63 497.60,334.57 497.65,334.51 497.70,334.44 497.75,334.37 497.80,334.29 497.85,334.21 497.90,334.11 497.95,334.02 498.00,333.91 498.05,333.79 498.10,333.66 498.15,333.52 498.20,333.37 498.25,333.20 498.30,333.01 498.35,332.80 498.40,332.57 498.45,332.32 498.50,332.03 498.55,331.70 498.60,331.34 498.65,330.92 498.70,330.45 498.75,329.91 498.80,329.28 498.85,328.56 498.90,327.71 498.95,326.71 499.00,325.53 499.05,324.12 499.10,322.43 499.15,320.37 499.20,317.84 499.25,314.73 499.30,310.87 499.35,306.07 499.40,300.13 499.45,292.86 499.50,284.29 499.55,274.83 499.60,265.62 499.65,258.63 499.70,255.98 499.75,258.63 499.80,265.62 499.85,274.83 499.90,284.29 499.95,292.87 500.00,300.13 500.05,306.08 500.10,310.88 500.15,314.74 500.20,317.85 500.25,320.37 500.30,322.43 500.35,324.13 500.40,325.54 500.45,326.72 500.50,327.72 500.55,328.56 500.60,329.29 500.65,329.91 500.70,330.46 500.75,330.93 500.80,331.35 500.85,331.71 500.90,332.04 500.95,332.32 501.00,332.58 501.05,332.81 501.10,333.02 501.15,333.21 501.20,333.38 501.25,333.53 501.30,333.67 501.35,333.80 501.40,333.92 501.45,334.03 501.50,334.13 501.55,334.22 501.60,334.30 501.65,334.38 501.70,334.46 501.75,334.52 501.80,334.59 501.85,334.64 501.90,334.70 501.95,334.75 502.00,334.80 502.05,334.84 502.10,334.89 502.15,334.93 502.20,334.96 502.25,335.00 502.30,335.03 502.35,335.06 502.40,335.09 502.45,335.12 502.50,335.15 502.55,335.17 502.60,335.20 502.65,335.22 502.70,335.24 502.75,335.26 502.80,335.28 502.85,335.30 502.90,335.32 502.95,335.33 503.00,335.35 503.05,335.36 503.10,335.38 503.15,335.39 503.20,335.41 503.25,335.42 503.30,335.43 503.35,335.44 503.40,335.45 503.45,335.46 503.50,335.47 503.55,335.48 503.60,335.49 503.65,335.50 503.70,335.51 503.75,335.52 503.80,335.53 503.85,335.53 503.90,335.54 503.95,335.55 504.00,335.56 504.05,335.56 504.10,335.57 504.15,335.57 504.20,335.58 504.25,335.59 504.30,335.59 504.35,335.60 504.40,335.60 504.45,335.61 504.50,335.61 504.55,335.61 504.60,335.62 504.65,335.62 504.70,335.63 504.75,335.63 504.80,335.63 504.85,335.64 504.90,335.64 504.95,335.64 505.00,335.65 505.05,335.65 505.10,335.65 505.15,335.65 505.20,335.66 505.25,335.66 505.30,335.66 505.35,335.66 505.40,335.66 505.45,335.67 505.50,335.67 505.55,335.67 505.60,335.67 505.65,335.67 505.70,335.67 506.00,335.68 506.20,335.68 506.25,335.68 506.30,335.68 506.35,335.68 506.40,335.68 506.45,335.68 506.50,335.68 506.55,335.68 506.60,335.68 506.65,335.68 506.70,335.68 506.75,335.67 506.80,335.67 506.85,335.67 506.90,335.67 506.95,335.67 507.00,335.67 507.05,335.67 507.10,335.66 507.15,335.66 507.20,335.66 507.25,335.66 507.30,335.66 507.35,335.65 507.40,335.65 507.45,335.65 507.50,335.64 507.55,335.64 507.60,335.64 507.65,335.63 507.70,335.63 507.75,335.63 507.80,335.62 507.85,335.62 507.90,335.61 507.95,335.61 508.00,335.60 508.05,335.60 508.10,335.59 508.15,335.59 508.20,335.58 508.25,335.58 508.30,335.57 508.35,335.56 508.40,335.56 508.45,335.55 508.50,335.54 508.55,335.53 508.60,335.52 508.65,335.52 508.70,335.51 508.75,335.50 508.80,335.49 508.85,335.48 508.90,335.46 508.95,335.45 509.00,335.44 509.05,335.43 509.10,335.41 509.15,335.40 509.20,335.38 509.25,335.37 509.30,335.35 509.35,335.33 509.40,335.31 509.45,335.29 509.50,335.27 509.55,335.25 509.60,335.22 509.65,335.20 509.70,335.17 509.75,335.14 509.80,335.11 509.85,335.08 509.90,335.05 509.95,335.01 510.00,334.97 510.05,334.93 510.10,334.88 510.15,334.83 510.20,334.78 510.25,334.73 510.30,334.67 510.35,334.60 510.40,334.53 510.45,334.45 510.50,334.37 510.55,334.28 510.60,334.18 510.65,334.07 510.70,333.95 510.75,333.82 510.80,333.67 510.85,333.51 510.90,333.33 510.95,333.13 511.00,332.91 511.05,332.66 511.10,332.38 511.15,332.05 511.20,331.69 511.25,331.27 511.30,330.78 511.35,330.22 511.40,329.56 511.45,328.79 511.50,327.87 511.55,326.78 511.60,325.46 511.65,323.86 511.70,321.91 511.75,319.49 511.80,316.50 511.85,312.77 511.90,308.16 511.95,302.52 512.00,295.87 512.05,288.53 512.10,281.38 512.15,275.96 512.20,273.91 512.25,275.96 512.30,281.38 512.35,288.53 512.40,295.87 512.45,302.52 512.50,308.16 512.55,312.78 512.60,316.50 512.65,319.49 512.70,321.91 512.75,323.87 512.80,325.47 512.85,326.78 512.90,327.88 512.95,328.79 513.00,329.57 513.05,330.22 513.10,330.79 513.15,331.27 513.20,331.69 513.25,332.06 513.30,332.38 513.35,332.67 513.40,332.92 513.45,333.14 513.50,333.34 513.55,333.52 513.60,333.68 513.65,333.83 513.70,333.96 513.75,334.08 513.80,334.19 513.85,334.29 513.90,334.38 513.95,334.47 514.00,334.54 514.05,334.61 514.10,334.68 514.15,334.74 514.20,334.80 514.25,334.85 514.30,334.90 514.35,334.94 514.40,334.99 514.45,335.03 514.50,335.06 514.55,335.10 514.60,335.13 514.65,335.16 514.70,335.19 514.75,335.22 514.80,335.24 514.85,335.27 514.90,335.29 514.95,335.31 515.00,335.33 515.05,335.35 515.10,335.37 515.15,335.39 515.20,335.41 515.25,335.42 515.30,335.44 515.35,335.45 515.40,335.46 515.45,335.48 515.50,335.49 515.55,335.50 515.60,335.51 515.65,335.52 515.70,335.53 515.75,335.54 515.80,335.55 515.85,335.56 515.90,335.57 515.95,335.58 516.00,335.59 516.05,335.60 516.10,335.60 516.15,335.61 516.20,335.62 516.25,335.62 516.30,335.63 516.35,335.63 516.40,335.64 516.45,335.65 516.50,335.65 516.55,335.66 516.60,335.66 516.65,335.67 516.70,335.67 516.75,335.67 516.80,335.68 516.85,335.68 516.90,335.69 516.95,335.69 517.00,335.69 517.05,335.70 517.10,335.70 517.15,335.70 517.20,335.70 517.25,335.71 517.30,335.71 517.35,335.71 517.40,335.71 517.45,335.72 517.50,335.72 517.55,335.72 517.60,335.72 517.65,335.72 517.70,335.73 517.75,335.73 517.80,335.73 517.85,335.73 517.90,335.73 517.95,335.73 518.00,335.73 518.05,335.74 518.10,335.74 518.15,335.74 518.20,335.74 518.30,335.74 518.35,335.74 518.40,335.74 518.45,335.74 518.50,335.74 518.55,335.74 518.60,335.74 518.65,335.74 518.70,335.74 518.75,335.74 518.80,335.74 518.85,335.74 518.90,335.74 518.95,335.74 519.00,335.74 519.05,335.74 519.10,335.74 519.15,335.74 519.20,335.73 519.25,335.73 519.30,335.73 519.35,335.73 519.40,335.73 519.45,335.73 519.50,335.73 519.55,335.72 519.60,335.72 519.65,335.72 519.70,335.72 519.75,335.71 519.80,335.71 519.85,335.71 519.90,335.71 519.95,335.70 520.00,335.70 520.05,335.70 520.10,335.69 520.15,335.69 520.20,335.69 520.25,335.68 520.30,335.68 520.35,335.67 520.40,335.67 520.45,335.66 520.50,335.66 520.55,335.65 520.60,335.65 520.65,335.64 520.70,335.63 520.75,335.63 520.80,335.62 520.85,335.61 520.90,335.61 520.95,335.60 521.00,335.59 521.05,335.58 521.10,335.57 521.15,335.56 521.20,335.55 521.25,335.54 521.30,335.53 521.35,335.52 521.40,335.50 521.45,335.49 521.50,335.47 521.55,335.46 521.60,335.44 521.65,335.43 521.70,335.41 521.75,335.39 521.80,335.37 521.85,335.35 521.90,335.32 521.95,335.30 522.00,335.27 522.05,335.24 522.10,335.21 522.15,335.18 522.20,335.15 522.25,335.11 522.30,335.07 522.35,335.03 522.40,334.98 522.45,334.93 522.50,334.88 522.55,334.82 522.60,334.76 522.65,334.69 522.70,334.61 522.75,334.53 522.80,334.44 522.85,334.34 522.90,334.22 522.95,334.10 523.00,333.96 523.05,333.81 523.10,333.64 523.15,333.45 523.20,333.23 523.25,332.98 523.30,332.70 523.35,332.38 523.40,332.01 523.45,331.58 523.50,331.08 523.55,330.48 523.60,329.78 523.65,328.94 523.70,327.93 523.75,326.71 523.80,325.21 523.85,323.36 523.90,321.07 523.95,318.21 524.00,314.68 524.05,310.36 524.10,305.27 524.15,299.64 524.20,294.17 524.25,290.01 524.30,288.44 524.35,290.01 524.40,294.17 524.45,299.64 524.50,305.27 524.55,310.37 524.60,314.68 524.65,318.22 524.70,321.07 524.75,323.37 524.80,325.22 524.85,326.72 524.90,327.94 524.95,328.95 525.00,329.79 525.05,330.49 525.10,331.09 525.15,331.59 525.20,332.02 525.25,332.39 525.30,332.72 525.35,333.00 525.40,333.25 525.45,333.46 525.50,333.66 525.55,333.83 525.60,333.98 525.65,334.12 525.70,334.24 525.75,334.35 525.80,334.46 525.85,334.55 525.90,334.63 525.95,334.71 526.00,334.78"/>
<polyline stroke="#ff0000" stroke-width="1.8" points="88.00,315.58 88.05,314.17 88.10,312.64 88.15,311.01 88.20,309.26 88.25,307.40 88.30,305.44 88.35,303.39 88.40,301.25 88.45,299.07 88.50,296.88 88.55,294.72 88.60,292.64 88.65,290.72 88.70,289.02 88.75,287.60 88.80,286.53 88.85,285.87 88.90,285.65 88.95,285.87 89.00,286.53 89.05,287.59 89.10,289.01 89.15,290.71 89.20,292.63 89.25,294.71 89.30,296.87 89.35,299.06 89.40,301.24 89.45,303.36 89.50,305.42 89.55,307.38 89.60,309.23 89.65,310.98 89.70,312.61 89.75,314.13 89.80,315.54 89.85,316.85 89.90,318.07 89.95,319.19 90.00,320.23 90.05,321.18 90.10,322.07 90.15,322.89 90.20,323.65 90.25,324.35 90.30,325.00 90.35,325.60 90.40,326.16 90.45,326.67 90.50,327.16 90.55,327.61 90.60,328.02 90.65,328.41 90.70,328.78 90.75,329.12 90.80,329.43 90.85,329.73 90.90,330.01 90.95,330.27 91.00,330.51 91.05,330.74 91.10,330.96 91.15,331.16 91.20,331.35 91.25,331.53 91.30,331.70 91.35,331.86 91.40,332.01 91.45,332.15 91.50,332.29 91.55,332.41 91.60,332.53 91.65,332.64 91.70,332.74 91.75,332.84 91.80,332.93 91.85,333.02 91.90,333.10 91.95,333.17 92.00,333.24 92.05,333.31 92.10,333.36 92.15,333.42 92.20,333.47 92.25,333.51 92.30,333.54 92.35,333.57 92.40,333.60 92.45,333.62 92.50,333.63 92.55,333.63 92.60,333.63 92.65,333.61 92.70,333.59 92.75,333.56 92.80,333.51 92.85,333.45 92.90,333.37 92.95,333.28 93.00,333.16 93.05,333.02 93.10,332.85 93.15,332.65 93.20,332.41 93.25,332.13 93.30,331.81 93.35,331.45 93.40,331.05 93.45,330.62 93.50,330.19 93.55,329.78 93.60,329.45 93.65,329.24 93.70,329.18 93.75,329.29 93.80,329.55 93.85,329.93 93.90,330.38 93.95,330.87 94.00,331.34 94.05,331.80 94.10,332.21 94.15,332.58 94.20,332.91 94.25,333.20 94.30,333.46 94.35,333.68 94.40,333.88 94.45,334.05 94.50,334.20 94.55,334.34 94.60,334.46 94.65,334.56 94.70,334.66 94.75,334.74 94.80,334.82 94.85,334.89 94.90,334.96 94.95,335.01 95.00,335.07 95.05,335.12 95.10,335.16 95.15,335.21 95.20,335.25 95.25,335.28 95.30,335.32 95.35,335.35 95.40,335.38 95.45,335.41 95.50,335.43 95.55,335.46 95.60,335.48 95.65,335.51 95.70,335.53 95.75,335.55 95.80,335.57 95.85,335.59 95.90,335.60 95.95,335.62 96.00,335.64 96.05,335.65 96.10,335.67 96.15,335.68 96.20,335.70 96.25,335.71 96.30,335.72 96.35,335.73 96.40,335.75 96.45,335.76 96.50,335.77 96.55,335.78 96.60,335.79 96.65,335.80 96.70,335.81 96.75,335.82 96.80,335.83 96.85,335.84 96.90,335.85 96.95,335.86 97.00,335.86 97.05,335.87 97.10,335.88 97.15,335.89 97.20,335.89 97.25,335.90 97.30,335.91 97.35,335.92 97.40,335.92 97.45,335.93 97.50,335.93 97.55,335.94 97.60,335.95 97.65,335.95 97.70,335.96 97.75,335.96 97.80,335.97 97.85,335.98 97.90,335.98 97.95,335.99 98.00,335.99 98.05,336.00 98.10,336.00 98.15,336.01 98.20,336.01 98.25,336.01 98.30,336.02 98.35,336.02 98.40,336.03 98.45,336.03 98.50,336.04 98.55,336.04 98.60,336.04 98.65,336.05 98.70,336.05 98.75,336.06 98.80,336.06 98.85,336.06 98.90,336.07 98.95,336.07 99.00,336.07 99.05,336.08 99.10,336.08 99.15,336.08 99.20,336.09 99.25,336.09 99.30,336.09 99.35,336.10 99.40,336.10 99.45,336.10 99.50,336.11 99.55,336.11 99.60,336.11 99.65,336.11 99.70,336.12 100.00,336.13 100.50,336.16 101.00,336.17 101.50,336.19 102.00,336.21 102.50,336.22 103.00,336.23 103.50,336.24 104.00,336.25 104.50,336.26 105.00,336.27 105.50,336.28 106.00,336.28 106.50,336.29 107.00,336.29 107.50,336.30 108.00,336.30 108.50,336.31 109.00,336.31 109.50,336.31 110.00,336.32 110.50,336.32 111.00,336.32 111.50,336.32 112.00,336.33 112.50,336.33 113.00,336.33 113.50,336.33 114.00,336.33 114.50,336.33 115.00,336.33 115.50,336.34 116.00,336.34 116.50,336.34 117.00,336.34 117.50,336.34 118.00,336.34 118.50,336.34 119.00,336.34 119.50,336.34 120.00,336.34 120.50,336.34 121.00,336.34 121.50,336.34 122.00,336.34 122.50,336.33 123.00,336.33 123.50,336.33 124.00,336.33 124.50,336.33 125.00,336.32 125.50,336.32 126.00,336.32 126.50,336.31 127.00,336.30 127.50,336.30 128.00,336.29 128.50,336.28 129.00,336.27 129.50,336.25 129.80,336.24 129.85,336.24 129.90,336.23 129.95,336.23 130.00,336.23 130.05,336.23 130.10,336.22 130.15,336.22 130.20,336.22 130.25,336.22 130.30,336.21 130.35,336.21 130.40,336.21 130.45,336.21 130.50,336.20 130.55,336.20 130.60,336.20 130.65,336.19 130.70,336.19 130.75,336.19 130.80,336.18 130.85,336.18 130.90,336.18 130.95,336.17 131.00,336.17 131.05,336.16 131.10,336.16 131.15,336.16 131.20,336.15 131.25,336.15 131.30,336.14 131.35,336.14 131.40,336.13 131.45,336.13 131.50,336.12 131.55,336.11 131.60,336.11 131.65,336.10 131.70,336.10 131.75,336.09 131.80,336.08 131.85,336.08 131.90,336.07 131.95,336.06 132.00,336.05 132.05,336.04 132.10,336.04 132.15,336.03 132.20,336.02 132.25,336.01 132.30,336.00 132.35,335.99 132.40,335.98 132.45,335.97 132.50,335.95 132.55,335.94 132.60,335.93 132.65,335.91 132.70,335.90 132.75,335.89 132.80,335.87 132.85,335.85 132.90,335.84 132.95,335.82 133.00,335.80 133.05,335.78 133.10,335.76 133.15,335.73 133.20,335.71 133.25,335.68 133.30,335.66 133.35,335.63 133.40,335.60 133.45,335.57 133.50,335.53 133.55,335.50 133.60,335.46 133.65,335.42 133.70,335.38 133.75,335.33 133.80,335.28 133.85,335.23 133.90,335.17 133.95,335.11 134.00,335.04 134.05,334.97 134.10,334.89 134.15,334.80 134.20,334.71 134.25,334.61 134.30,334.50 134.35,334.38 134.40,334.25 134.45,334.10 134.50,333.94 134.55,333.76 134.60,333.57 134.65,333.35 134.70,333.10 134.75,332.83 134.80,332.52 134.85,332.17 134.90,331.78 134.95,331.34 135.00,330.83 135.05,330.25 135.10,329.58 135.15,328.82 135.20,327.94 135.25,326.93 135.30,325.77 135.35,324.44 135.40,322.93 135.45,321.25 135.50,319.41 135.55,317.46 135.60,315.49 135.65,313.65 135.70,312.13 135.75,311.12 135.80,310.76 135.85,311.12 135.90,312.13 135.95,313.65 136.00,315.49 136.05,317.45 136.10,319.41 136.15,321.25 136.20,322.93 136.25,324.44 136.30,325.77 136.35,326.93 136.40,327.94 136.45,328.82 136.50,329.58 136.55,330.24 136.60,330.82 136.65,331.33 136.70,331.78 136.75,332.17 136.80,332.52 136.85,332.82 136.90,333.10 136.95,333.34 137.00,333.56 137.05,333.76 137.10,333.94 137.15,334.10 137.20,334.24 137.25,334.37 137.30,334.49 137.35,334.60 137.40,334.70 137.45,334.80 137.50,334.88 137.55,334.96 137.60,335.03 137.65,335.10 137.70,335.16 137.75,335.22 137.80,335.27 137.85,335.32 137.90,335.37 137.95,335.41 138.00,335.45 138.05,335.49 138.10,335.53 138.15,335.56 138.20,335.59 138.25,335.62 138.30,335.65 138.35,335.68 138.40,335.70 138.45,335.72 138.50,335.75 138.55,335.77 138.60,335.79 138.65,335.81 138.70,335.82 138.75,335.84 138.80,335.86 138.85,335.87 138.90,335.89 138.95,335.90 139.00,335.92 139.05,335.93 139.10,335.94 139.15,335.95 139.20,335.96 139.25,335.97 139.30,335.98 139.35,335.99 139.40,336.00 139.45,336.01 139.50,336.02 139.55,336.03 139.60,336.04 139.65,336.05 139.70,336.05 139.75,336.06 139.80,336.07 139.85,336.07 139.90,336.08 139.95,336.09 140.00,336.09 140.05,336.10 140.10,336.10 140.15,336.11 140.20,336.11 140.25,336.12 140.30,336.12 140.35,336.13 140.40,336.13 140.45,336.13 140.50,336.14 140.55,336.14 140.60,336.15 140.65,336.15 140.70,336.15 140.75,336.16 140.80,336.16 140.85,336.16 140.90,336.17 140.95,336.17 141.00,336.17 141.05,336.18 141.10,336.18 141.15,336.18 141.20,336.18 141.25,336.19 141.30,336.19 141.35,336.19 141.40,336.19 141.45,336.19 141.50,336.20 141.55,336.20 141.60,336.20 141.65,336.20 141.70,336.20 141.75,336.21 141.80,336.21 142.00,336.21 142.50,336.22 143.00,336.23 143.50,336.23 144.00,336.23 144.50,336.23 144.55,336.23 144.60,336.23 144.65,336.23 144.70,336.23 144.75,336.22 144.80,336.22 144.85,336.22 144.90,336.22 144.95,336.22 145.00,336.22 145.05,336.22 145.10,336.22 145.15,336.22 145.20,336.21 145.25,336.21 145.30,336.21 145.35,336.21 145.40,336.21 145.45,336.21 145.50,336.20 145.55,336.20 145.60,336.20 145.65,336.20 145.70,336.20 145.75,336.19 145.80,336.19 145.85,336.19 145.90,336.19 145.95,336.18 146.00,336.18 146.05,336.18 146.10,336.18 146.15,336.17 146.20,336.17 146.25,336.17 146.30,336.16 146.35,336.16 146.40,336.16 146.45,336.15 146.50,336.15 146.55,336.14 146.60,336.14 146.65,336.13 146.70,336.13 146.75,336.12 146.80,336.12 146.85,336.11 146.90,336.11 146.95,336.10 147.00,336.10 147.05,336.09 147.10,336.08 147.15,336.07 147.20,336.07 147.25,336.06 147.30,336.05 147.35,336.04 147.40,336.03 147.45,336.02 147.50,336.01 147.55,336.00 147.60,335.99 147.65,335.98 147.70,335.97 147.75,335.96 147.80,335.94 147.85,335.93 147.90,335.91 147.95,335.90 148.00,335.88 148.05,335.86 148.10,335.84 148.15,335.82 148.20,335.80 148.25,335.78 148.30,335.75 148.35,335.73 148.40,335.70 148.45,335.67 148.50,335.63 148.55,335.60 148.60,335.56 148.65,335.52 148.70,335.48 148.75,335.43 148.80,335.38 148.85,335.32 148.90,335.26 148.95,335.20 149.00,335.13 149.05,335.05 149.10,334.96 149.15,334.87 149.20,334.76 149.25,334.65 149.30,334.52 149.35,334.38 149.40,334.22 149.45,334.04 149.50,333.84 149.55,333.61 149.60,333.36 149.65,333.07 149.70,332.73 149.75,332.36 149.80,331.92 149.85,331.42 149.90,330.85 149.95,330.19 150.00,329.44 150.05,328.57 150.10,327.59 150.15,326.49 150.20,325.29 150.25,324.01 150.30,322.73 150.35,321.53 150.40,320.54 150.45,319.88 150.50,319.64 150.55,319.88 150.60,320.54 150.65,321.53 150.70,322.73 150.75,324.01 150.80,325.29 150.85,326.49 150.90,327.59 150.95,328.57 151.00,329.44 151.05,330.19 151.10,330.85 151.15,331.43 151.20,331.93 151.25,332.36 151.30,332.74 151.35,333.07 151.40,333.36 151.45,333.62 151.50,333.84 151.55,334.04 151.60,334.22 151.65,334.38 151.70,334.52 151.75,334.65 151.80,334.77 151.85,334.87 151.90,334.97 151.95,335.05 152.00,335.13 152.05,335.20 152.10,335.27 152.15,335.33 152.20,335.39 152.25,335.44 152.30,335.48 152.35,335.53 152.40,335.57 152.45,335.61 152.50,335.64 152.55,335.67 152.60,335.71 152.65,335.73 152.70,335.76 152.75,335.79 152.80,335.81 152.85,335.83 152.90,335.85 152.95,335.87 153.00,335.89 153.05,335.91 153.10,335.92 153.15,335.94 153.20,335.95 153.25,335.97 153.30,335.98 153.35,335.99 153.40,336.00 153.45,336.02 153.50,336.03 153.55,336.04 153.60,336.05 153.65,336.06 153.70,336.07 153.75,336.07 153.80,336.08 153.85,336.09 153.90,336.10 153.95,336.10 154.00,336.11 154.05,336.12 154.10,336.12 154.15,336.13 154.20,336.14 154.25,336.14 154.30,336.15 154.35,336.15 154.40,336.16 154.45,336.16 154.50,336.17 154.55,336.17 154.60,336.17 154.65,336.18 154.70,336.18 154.75,336.19 154.80,336.19 154.85,336.19 154.90,336.20 154.95,336.20 155.00,336.20 155.05,336.21 155.10,336.21 155.15,336.21 155.20,336.22 155.25,336.22 155.30,336.22 155.35,336.22 155.40,336.23 155.45,336.23 155.50,336.23 155.55,336.23 155.60,336.24 155.65,336.24 155.70,336.24 155.75,336.24 155.80,336.24 155.85,336.25 155.90,336.25 155.95,336.25 156.00,336.25 156.05,336.25 156.10,336.25 156.15,336.26 156.20,336.26 156.25,336.26 156.30,336.26 156.35,336.26 156.40,336.26 156.45,336.26 156.50,336.27 157.00,336.28 157.50,336.29 158.00,336.29 158.50,336.30 159.00,336.30 159.50,336.31 160.00,336.31 160.50,336.31 161.00,336.31 161.50,336.31 162.00,336.31 162.40,336.32 162.45,336.32 162.50,336.32 162.55,336.32 162.60,336.32 162.65,336.32 162.70,336.32 162.75,336.32 162.80,336.32 162.85,336.32 162.90,336.31 162.95,336.31 163.00,336.31 163.05,336.31 163.10,336.31 163.15,336.31 163.20,336.31 163.25,336.31 163.30,336.31 163.35,336.31 163.40,336.31 163.45,336.31 163.50,336.31 163.55,336.31 163.60,336.31 163.65,336.31 163.70,336.31 163.75,336.31 163.80,336.31 163.85,336.31 163.90,336.31 163.95,336.31 164.00,336.31 164.05,336.31 164.10,336.31 164.15,336.31 164.20,336.31 164.25,336.31 164.30,336.31 164.35,336.31 164.40,336.31 164.45,336.31 164.50,336.31 164.55,336.31 164.60,336.31 164.65,336.31 164.70,336.31 164.75,336.31 164.80,336.31 164.85,336.31 164.90,336.31 164.95,336.31 165.00,336.31 165.05,336.31 165.10,336.31 165.15,336.31 165.20,336.31 165.25,336.31 165.30,336.31 165.35,336.31 165.40,336.31 165.45,336.31 165.50,336.30 165.55,336.30 165.60,336.30 165.65,336.30 165.70,336.30 165.75,336.30 165.80,336.30 165.85,336.30 165.90,336.30 165.95,336.30 166.00,336.30 166.05,336.30 166.10,336.30 166.15,336.30 166.20,336.30 166.25,336.29 166.30,336.29 166.35,336.29 166.40,336.29 166.45,336.29 166.50,336.29 166.55,336.29 166.60,336.29 166.65,336.28 166.70,336.28 166.75,336.28 166.80,336.28 166.85,336.28 166.90,336.27 166.95,336.27 167.00,336.27 167.05,336.27 167.10,336.26 167.15,336.26 167.20,336.26 167.25,336.25 167.30,336.25 167.35,336.24 167.40,336.23 167.45,336.23 167.50,336.22 167.55,336.21 167.60,336.20 167.65,336.19 167.70,336.18 167.75,336.16 167.80,336.14 167.85,336.12 167.90,336.10 167.95,336.07 168.00,336.04 168.05,336.01 168.10,335.97 168.15,335.94 168.20,335.90 168.25,335.86 168.30,335.83 168.35,335.81 168.40,335.80 168.45,335.81 168.50,335.83 168.55,335.86 168.60,335.90 168.65,335.93 168.70,335.97 168.75,336.01 168.80,336.04 168.85,336.07 168.90,336.09 168.95,336.12 169.00,336.14 169.05,336.15 169.10,336.17 169.15,336.18 169.20,336.19 169.25,336.20 169.30,336.21 169.35,336.22 169.40,336.22 169.45,336.23 169.50,336.23 169.55,336.24 169.60,336.24 169.65,336.25 169.70,336.25 169.75,336.25 169.80,336.25 169.85,336.26 169.90,336.26 169.95,336.26 170.00,336.26 170.05,336.26 170.10,336.27 170.15,336.27 170.20,336.27 170.25,336.27 170.30,336.27 170.35,336.27 170.40,336.27 170.45,336.27 170.50,336.27 170.55,336.27 170.60,336.27 170.65,336.27 170.70,336.27 170.75,336.27 170.80,336.27 170.85,336.27 170.90,336.27 170.95,336.27 171.00,336.27 171.05,336.27 171.10,336.27 171.15,336.27 171.20,336.27 171.25,336.27 171.30,336.27 171.35,336.27 171.40,336.27 171.45,336.27 171.50,336.27 171.55,336.27 171.60,336.27 171.65,336.27 171.70,336.27 171.75,336.27 171.80,336.27 171.85,336.27 171.90,336.27 171.95,336.27 172.00,336.27 172.05,336.27 172.10,336.27 172.15,336.27 172.20,336.27 172.25,336.27 172.30,336.27 172.35,336.27 172.40,336.27 172.45,336.27 172.50,336.27 172.55,336.27 172.60,336.27 172.65,336.27 172.70,336.27 172.75,336.26 172.80,336.26 172.85,336.26 172.90,336.26 172.95,336.26 173.00,336.26 173.05,336.26 173.10,336.26 173.15,336.26 173.20,336.26 173.25,336.26 173.30,336.26 173.35,336.26 173.40,336.26 173.45,336.26 173.50,336.26 173.55,336.26 173.60,336.26 173.65,336.25 173.70,336.25 173.75,336.25 173.80,336.25 173.85,336.25 173.90,336.25 173.95,336.25 174.00,336.25 174.05,336.25 174.10,336.25 174.15,336.25 174.20,336.25 174.25,336.25 174.30,336.25 174.35,336.25 174.40,336.24 174.50,336.24 175.00,336.23 175.50,336.23 176.00,336.21 176.50,336.20 177.00,336.19 177.50,336.18 178.00,336.16 178.50,336.14 179.00,336.12 179.50,336.09 180.00,336.06 180.50,336.03 181.00,335.99 181.50,335.94 182.00,335.89 182.20,335.86 182.25,335.85 182.30,335.85 182.35,335.84 182.40,335.83 182.45,335.83 182.50,335.82 182.55,335.81 182.60,335.80 182.65,335.79 182.70,335.79 182.75,335.78 182.80,335.77 182.85,335.76 182.90,335.75 182.95,335.74 183.00,335.73 183.05,335.72 183.10,335.71 183.15,335.70 183.20,335.69 183.25,335.68 183.30,335.67 183.35,335.66 183.40,335.65 183.45,335.64 183.50,335.62 183.55,335.61 183.60,335.60 183.65,335.59 183.70,335.57 183.75,335.56 183.80,335.55 183.85,335.53 183.90,335.52 183.95,335.50 184.00,335.49 184.05,335.47 184.10,335.45 184.15,335.44 184.20,335.42 184.25,335.40 184.30,335.38 184.35,335.36 184.40,335.35 184.45,335.32 184.50,335.30 184.55,335.28 184.60,335.26 184.65,335.24 184.70,335.21 184.75,335.19 184.80,335.16 184.85,335.14 184.90,335.11 184.95,335.08 185.00,335.06 185.05,335.03 185.10,334.99 185.15,334.96 185.20,334.93 185.25,334.89 185.30,334.86 185.35,334.82 185.40,334.78 185.45,334.74 185.50,334.70 185.55,334.66 185.60,334.61 185.65,334.56 185.70,334.51 185.75,334.46 185.80,334.41 185.85,334.35 185.90,334.29 185.95,334.23 186.00,334.17 186.05,334.10 186.10,334.03 186.15,333.95 186.20,333.87 186.25,333.79 186.30,333.70 186.35,333.61 186.40,333.51 186.45,333.40 186.50,333.29 186.55,333.18 186.60,333.05 186.65,332.92 186.70,332.77 186.75,332.62 186.80,332.46 186.85,332.28 186.90,332.09 186.95,331.89 187.00,331.67 187.05,331.43 187.10,331.17 187.15,330.88 187.20,330.57 187.25,330.23 187.30,329.85 187.35,329.44 187.40,328.97 187.45,328.46 187.50,327.88 187.55,327.24 187.60,326.51 187.65,325.69 187.70,324.77 187.75,323.74 187.80,322.58 187.85,321.29 187.90,319.89 187.95,318.40 188.00,316.87 188.05,315.37 188.10,314.00 188.15,312.88 188.20,312.08 188.25,311.62 188.30,311.47 188.35,311.53 188.40,311.67 188.45,311.80 188.50,311.79 188.55,311.60 188.60,311.16 188.65,310.44 188.70,309.42 188.75,308.06 188.80,306.34 188.85,304.21 188.90,301.64 188.95,298.56 189.00,294.92 189.05,290.64 189.10,285.65 189.15,279.88 189.20,273.27 189.25,265.84 189.30,257.67 189.35,249.00 189.40,240.25 189.45,232.07 189.50,225.29 189.55,220.79 189.60,219.25 189.65,220.93 189.70,225.57 189.75,232.49 189.80,240.82 189.85,249.73 189.90,258.57 189.95,266.92 190.00,274.55 190.05,281.37 190.10,287.38 190.15,292.64 190.20,297.21 190.25,301.19 190.30,304.65 190.35,307.65 190.40,310.28 190.45,312.57 190.50,314.58 190.55,316.35 190.60,317.91 190.65,319.29 190.70,320.52 190.75,321.61 190.80,322.59 190.85,323.46 190.90,324.24 190.95,324.94 191.00,325.58 191.05,326.14 191.10,326.66 191.15,327.12 191.20,327.53 191.25,327.91 191.30,328.24 191.35,328.54 191.40,328.81 191.45,329.04 191.50,329.25 191.55,329.43 191.60,329.57 191.65,329.69 191.70,329.79 191.75,329.85 191.80,329.88 191.85,329.88 191.90,329.85 191.95,329.78 192.00,329.67 192.05,329.51 192.10,329.31 192.15,329.04 192.20,328.71 192.25,328.32 192.30,327.85 192.35,327.31 192.40,326.70 192.45,326.05 192.50,325.39 192.55,324.78 192.60,324.27 192.65,323.95 192.70,323.87 192.75,324.05 192.80,324.47 192.85,325.07 192.90,325.79 192.95,326.55 193.00,327.30 193.05,328.01 193.10,328.66 193.15,329.24 193.20,329.75 193.25,330.19 193.30,330.58 193.35,330.91 193.40,331.20 193.45,331.45 193.50,331.67 193.55,331.85 193.60,332.01 193.65,332.14 193.70,332.26 193.75,332.35 193.80,332.44 193.85,332.50 193.90,332.56 193.95,332.60 194.00,332.63 194.05,332.65 194.10,332.66 194.15,332.66 194.20,332.65 194.25,332.63 194.30,332.60 194.35,332.57 194.40,332.52 194.45,332.47 194.50,332.41 194.55,332.33 194.60,332.25 194.65,332.15 194.70,332.05 194.75,331.93 194.80,331.80 194.85,331.65 194.90,331.49 194.95,331.31 195.00,331.12 195.05,330.90 195.10,330.66 195.15,330.40 195.20,330.11 195.25,329.79 195.30,329.43 195.35,329.04 195.40,328.60 195.45,328.12 195.50,327.57 195.55,326.97 195.60,326.29 195.65,325.53 195.70,324.67 195.75,323.70 195.80,322.60 195.85,321.34 195.90,319.91 195.95,318.28 196.00,316.40 196.05,314.24 196.10,311.75 196.15,308.89 196.20,305.60 196.25,301.83 196.30,297.56 196.35,292.78 196.40,287.55 196.45,282.01 196.50,276.43 196.55,271.22 196.60,266.90 196.65,264.02 196.70,263.01 196.75,264.04 196.80,266.93 196.85,271.27 196.90,276.50 196.95,282.10 197.00,287.65 197.05,292.90 197.10,297.70 197.15,301.99 197.20,305.77 197.25,309.08 197.30,311.96 197.35,314.46 197.40,316.64 197.45,318.54 197.50,320.19 197.55,321.64 197.60,322.91 197.65,324.03 197.70,325.03 197.75,325.91 197.80,326.69 197.85,327.39 197.90,328.02 197.95,328.58 198.00,329.09 198.05,329.55 198.10,329.97 198.15,330.35 198.20,330.69 198.25,331.01 198.30,331.30 198.35,331.57 198.40,331.81 198.45,332.04 198.50,332.25 198.55,332.45 198.60,332.63 198.65,332.79 198.70,332.95 198.75,333.09 198.80,333.23 198.85,333.36 198.90,333.48 198.95,333.59 199.00,333.69 199.05,333.79 199.10,333.88 199.15,333.97 199.20,334.05 199.25,334.13 199.30,334.20 199.35,334.27 199.40,334.34 199.45,334.40 199.50,334.46 199.55,334.52 199.60,334.57 199.65,334.63 199.70,334.67 199.75,334.72 199.80,334.76 199.85,334.81 199.90,334.85 199.95,334.89 200.00,334.92 200.05,334.96 200.10,334.99 200.15,335.02 200.20,335.06 200.25,335.09 200.30,335.11 200.35,335.14 200.40,335.17 200.45,335.19 200.50,335.22 200.55,335.24 200.60,335.26 200.65,335.28 200.70,335.31 200.75,335.33 200.80,335.34 200.85,335.36 200.90,335.38 200.95,335.40 201.00,335.41 201.05,335.43 201.10,335.45 201.15,335.46 201.20,335.47 201.25,335.49 201.30,335.50 201.35,335.51 201.40,335.53 201.45,335.54 201.50,335.55 201.55,335.56 201.60,335.57 201.65,335.58 201.70,335.59 201.75,335.60 201.80,335.61 201.85,335.61 201.90,335.62 201.95,335.63 202.00,335.64 202.05,335.64 202.10,335.65 202.15,335.66 202.20,335.66 202.25,335.67 202.30,335.67 202.35,335.67 202.40,335.68 202.45,335.68 202.50,335.68 202.55,335.69 202.60,335.69 202.65,335.69 202.70,335.69 202.75,335.69 202.80,335.69 202.85,335.69 202.90,335.69 202.95,335.69 203.00,335.68 203.05,335.68 203.10,335.67 203.15,335.67 203.20,335.66 203.25,335.65 203.30,335.64 203.35,335.63 203.40,335.62 203.45,335.61 203.50,335.59 203.55,335.57 203.60,335.55 203.65,335.52 203.70,335.50 203.75,335.47 203.80,335.43 203.85,335.39 203.90,335.34 203.95,335.29 204.00,335.22 204.05,335.15 204.10,335.07 204.15,334.97 204.20,334.86 204.25,334.74 204.30,334.59 204.35,334.42 204.40,334.23 204.45,334.01 204.50,333.78 204.55,333.53 204.60,333.28 204.65,333.04 204.70,332.85 204.75,332.72 204.80,332.68 204.85,332.72 204.90,332.86 204.95,333.06 205.00,333.29 205.05,333.55 205.10,333.80 205.15,334.04 205.20,334.26 205.25,334.45 205.30,334.63 205.35,334.78 205.40,334.91 205.45,335.02 205.50,335.12 205.55,335.21 205.60,335.28 205.65,335.35 205.70,335.41 205.75,335.46 205.80,335.50 205.85,335.54 205.90,335.58 205.95,335.61 206.00,335.64 206.05,335.66 206.10,335.69 206.15,335.71 206.20,335.73 206.25,335.74 206.30,335.76 206.35,335.77 206.40,335.78 206.45,335.79 206.50,335.81 206.55,335.81 206.60,335.82 206.65,335.83 206.70,335.84 206.75,335.84 206.80,335.85 206.85,335.85 206.90,335.86 206.95,335.86 207.00,335.87 207.05,335.87 207.10,335.87 207.15,335.87 207.20,335.88 207.25,335.88 207.30,335.88 207.35,335.88 207.40,335.88 207.45,335.88 207.50,335.88 207.55,335.88 207.60,335.88 207.65,335.88 207.70,335.88 207.75,335.88 207.80,335.88 207.85,335.87 207.90,335.87 207.95,335.87 208.00,335.87 208.05,335.86 208.10,335.86 208.15,335.86 208.20,335.85 208.25,335.85 208.30,335.84 208.35,335.84 208.40,335.83 208.45,335.83 208.50,335.82 208.55,335.82 208.60,335.81 208.65,335.80 208.70,335.80 208.75,335.79 208.80,335.78 208.85,335.77 208.90,335.76 208.95,335.75 209.00,335.75 209.05,335.74 209.10,335.72 209.15,335.71 209.20,335.70 209.25,335.69 209.30,335.68 209.35,335.66 209.40,335.65 209.45,335.63 209.50,335.62 209.55,335.60 209.60,335.59 209.65,335.57 209.70,335.55 209.75,335.53 209.80,335.51 209.85,335.49 209.90,335.46 209.95,335.44 210.00,335.41 210.05,335.39 210.10,335.36 210.15,335.33 210.20,335.29 210.25,335.26 210.30,335.22 210.35,335.19 210.40,335.15 210.45,335.10 210.50,335.06 210.55,335.01 210.60,334.96 210.65,334.90 210.70,334.84 210.75,334.78 210.80,334.71 210.85,334.64 210.90,334.57 210.95,334.48 211.00,334.39 211.05,334.30 211.10,334.19 211.15,334.08 211.20,333.96 211.25,333.83 211.30,333.69 211.35,333.53 211.40,333.36 211.45,333.17 211.50,332.97 211.55,332.74 211.60,332.49 211.65,332.22 211.70,331.91 211.75,331.57 211.80,331.19 211.85,330.76 211.90,330.28 211.95,329.74 212.00,329.13 212.05,328.44 212.10,327.65 212.15,326.75 212.20,325.71 212.25,324.52 212.30,323.15 212.35,321.58 212.40,319.77 212.45,317.70 212.50,315.35 212.55,312.73 212.60,309.86 212.65,306.82 212.70,303.75 212.75,300.89 212.80,298.52 212.85,296.94 212.90,296.38 212.95,296.94 213.00,298.52 213.05,300.90 213.10,303.76 213.15,306.82 213.20,309.86 213.25,312.74 213.30,315.36 213.35,317.71 213.40,319.78 213.45,321.59 213.50,323.17 213.55,324.54 213.60,325.73 213.65,326.76 213.70,327.67 213.75,328.46 213.80,329.15 213.85,329.77 213.90,330.31 213.95,330.79 214.00,331.22 214.05,331.60 214.10,331.94 214.15,332.25 214.20,332.52 214.25,332.77 214.30,333.00 214.35,333.21 214.40,333.39 214.45,333.57 214.50,333.72 214.55,333.87 214.60,334.00 214.65,334.12 214.70,334.24 214.75,334.34 214.80,334.44 214.85,334.53 214.90,334.61 214.95,334.69 215.00,334.77 215.05,334.83 215.10,334.90 215.15,334.96 215.20,335.01 215.25,335.07 215.30,335.12 215.35,335.16 215.40,335.21 215.45,335.25 215.50,335.29 215.55,335.33 215.60,335.36 215.65,335.40 215.70,335.43 215.75,335.46 215.80,335.49 215.85,335.51 215.90,335.54 215.95,335.56 216.00,335.59 216.05,335.61 216.10,335.63 216.15,335.65 216.20,335.67 216.25,335.69 216.30,335.71 216.35,335.73 216.40,335.74 216.45,335.76 216.50,335.77 216.55,335.79 216.60,335.80 216.65,335.82 216.70,335.83 216.75,335.84 216.80,335.85 216.85,335.87 216.90,335.88 216.95,335.89 217.00,335.90 217.05,335.91 217.10,335.92 217.15,335.93 217.20,335.94 217.25,335.94 217.30,335.95 217.35,335.96 217.40,335.97 217.45,335.98 217.50,335.98 217.55,335.99 217.60,336.00 217.65,336.01 217.70,336.01 217.75,336.02 217.80,336.02 217.85,336.03 217.90,336.04 217.95,336.04 218.00,336.05 218.05,336.05 218.10,336.06 218.15,336.06 218.20,336.07 218.25,336.07 218.30,336.08 218.35,336.08 218.40,336.09 218.45,336.09 218.50,336.09 218.55,336.10 218.60,336.10 218.65,336.11 218.70,336.11 218.75,336.11 218.80,336.12 218.85,336.12 218.90,336.12 219.00,336.13 219.50,336.16 220.00,336.18 220.50,336.20 221.00,336.22 221.50,336.23 222.00,336.24 222.50,336.25 223.00,336.25 223.50,336.26 224.00,336.26 224.50,336.26 225.00,336.26 225.50,336.26 225.80,336.26 225.85,336.26 225.90,336.26 225.95,336.26 226.00,336.26 226.05,336.26 226.10,336.26 226.15,336.26 226.20,336.26 226.25,336.26 226.30,336.26 226.35,336.26 226.40,336.26 226.45,336.26 226.50,336.25 226.55,336.25 226.60,336.25 226.65,336.25 226.70,336.25 226.75,336.25 226.80,336.25 226.85,336.25 226.90,336.25 226.95,336.25 227.00,336.25 227.05,336.25 227.10,336.24 227.15,336.24 227.20,336.24 227.25,336.24 227.30,336.24 227.35,336.24 227.40,336.24 227.45,336.23 227.50,336.23 227.55,336.23 227.60,336.23 227.65,336.23 227.70,336.23 227.75,336.22 227.80,336.22 227.85,336.22 227.90,336.22 227.95,336.22 228.00,336.21 228.05,336.21 228.10,336.21 228.15,336.21 228.20,336.20 228.25,336.20 228.30,336.20 228.35,336.19 228.40,336.19 228.45,336.19 228.50,336.18 228.55,336.18 228.60,336.18 228.65,336.17 228.70,336.17 228.75,336.16 228.80,336.16 228.85,336.15 228.90,336.15 228.95,336.14 229.00,336.14 229.05,336.13 229.10,336.12 229.15,336.12 229.20,336.11 229.25,336.10 229.30,336.09 229.35,336.08 229.40,336.07 229.45,336.06 229.50,336.05 229.55,336.04 229.60,336.03 229.65,336.02 229.70,336.00 229.75,335.99 229.80,335.97 229.85,335.96 229.90,335.94 229.95,335.92 230.00,335.90 230.05,335.87 230.10,335.85 230.15,335.82 230.20,335.79 230.25,335.76 230.30,335.73 230.35,335.69 230.40,335.65 230.45,335.60 230.50,335.55 230.55,335.50 230.60,335.43 230.65,335.36 230.70,335.29 230.75,335.20 230.80,335.11 230.85,335.00 230.90,334.87 230.95,334.73 231.00,334.57 231.05,334.39 231.10,334.18 231.15,333.95 231.20,333.67 231.25,333.35 231.30,332.99 231.35,332.57 231.40,332.10 231.45,331.58 231.50,331.00 231.55,330.39 231.60,329.77 231.65,329.20 231.70,328.72 231.75,328.40 231.80,328.29 231.85,328.40 231.90,328.72 231.95,329.19 232.00,329.77 232.05,330.38 232.10,330.99 232.15,331.56 232.20,332.09 232.25,332.56 232.30,332.97 232.35,333.33 232.40,333.65 232.45,333.92 232.50,334.16 232.55,334.36 232.60,334.54 232.65,334.70 232.70,334.84 232.75,334.96 232.80,335.06 232.85,335.16 232.90,335.24 232.95,335.31 233.00,335.38 233.05,335.44 233.10,335.49 233.15,335.54 233.20,335.58 233.25,335.62 233.30,335.65 233.35,335.68 233.40,335.71 233.45,335.73 233.50,335.75 233.55,335.77 233.60,335.79 233.65,335.81 233.70,335.82 233.75,335.83 233.80,335.84 233.85,335.85 233.90,335.85 233.95,335.86 234.00,335.86 234.05,335.86 234.10,335.86 234.15,335.86 234.20,335.86 234.25,335.86 234.30,335.85 234.35,335.84 234.40,335.83 234.45,335.82 234.50,335.80 234.55,335.79 234.60,335.77 234.65,335.74 234.70,335.72 234.75,335.69 234.80,335.65 234.85,335.61 234.90,335.57 234.95,335.51 235.00,335.45 235.05,335.38 235.10,335.30 235.15,335.21 235.20,335.11 235.25,334.99 235.30,334.84 235.35,334.68 235.40,334.49 235.45,334.28 235.50,334.04 235.55,333.76 235.60,333.46 235.65,333.14 235.70,332.82 235.75,332.53 235.80,332.28 235.85,332.11 235.90,332.06 235.95,332.12 236.00,332.29 236.05,332.54 236.10,332.84 236.15,333.16 236.20,333.49 236.25,333.79 236.30,334.07 236.35,334.32 236.40,334.54 236.45,334.73 236.50,334.89 236.55,335.04 236.60,335.17 236.65,335.28 236.70,335.37 236.75,335.46 236.80,335.53 236.85,335.60 236.90,335.65 236.95,335.71 237.00,335.75 237.05,335.79 237.10,335.83 237.15,335.86 237.20,335.89 237.25,335.92 237.30,335.94 237.35,335.97 237.40,335.99 237.45,336.01 237.50,336.02 237.55,336.04 237.60,336.05 237.65,336.07 237.70,336.08 237.75,336.09 237.80,336.10 237.85,336.11 237.90,336.12 237.95,336.13 238.00,336.14 238.05,336.15 238.10,336.15 238.15,336.16 238.20,336.17 238.25,336.17 238.30,336.18 238.35,336.18 238.40,336.19 238.45,336.19 238.50,336.20 238.55,336.20 238.60,336.20 238.65,336.21 238.70,336.21 238.75,336.21 238.80,336.22 238.85,336.22 238.90,336.22 238.95,336.23 239.00,336.23 239.05,336.23 239.10,336.23 239.15,336.24 239.20,336.24 239.25,336.24 239.30,336.24 239.35,336.24 239.40,336.24 239.45,336.25 239.50,336.25 239.55,336.25 239.60,336.25 239.65,336.25 239.70,336.25 239.75,336.25 239.80,336.25 239.85,336.25 239.90,336.26 239.95,336.26 240.00,336.26 240.05,336.26 240.10,336.26 240.15,336.26 240.20,336.26 240.25,336.26 240.30,336.26 240.35,336.26 240.40,336.26 240.45,336.26 240.50,336.26 240.55,336.26 240.60,336.25 240.65,336.25 240.70,336.25 240.75,336.25 240.80,336.25 240.85,336.25 240.90,336.25 240.95,336.24 241.00,336.24 241.05,336.24 241.10,336.24 241.15,336.23 241.20,336.23 241.25,336.22 241.30,336.22 241.35,336.21 241.40,336.20 241.45,336.20 241.50,336.19 241.55,336.18 241.60,336.17 241.65,336.15 241.70,336.14 241.75,336.12 241.80,336.10 241.85,336.08 241.90,336.05 241.95,336.02 242.00,335.98 242.05,335.94 242.10,335.90 242.15,335.86 242.20,335.81 242.25,335.77 242.30,335.73 242.35,335.71 242.40,335.70 242.45,335.71 242.50,335.73 242.55,335.77 242.60,335.81 242.65,335.86 242.70,335.90 242.75,335.95 242.80,335.99 242.85,336.02 242.90,336.05 242.95,336.08 243.00,336.10 243.05,336.12 243.10,336.14 243.15,336.16 243.20,336.17 243.25,336.18 243.30,336.19 243.35,336.20 243.40,336.21 243.45,336.22 243.50,336.22 243.55,336.23 243.60,336.23 243.65,336.24 243.70,336.24 243.75,336.25 243.80,336.25 243.85,336.25 243.90,336.26 243.95,336.26 244.00,336.26 244.05,336.26 244.10,336.26 244.15,336.26 244.20,336.27 244.25,336.27 244.30,336.27 244.35,336.27 244.40,336.27 244.45,336.27 244.50,336.27 244.55,336.27 244.60,336.27 244.65,336.27 244.70,336.27 244.75,336.27 244.80,336.27 244.85,336.28 244.90,336.28 244.95,336.28 245.00,336.28 245.05,336.28 245.10,336.28 245.15,336.28 245.20,336.28 245.25,336.28 245.30,336.27 245.35,336.27 245.40,336.27 245.45,336.27 245.50,336.27 245.55,336.27 245.60,336.27 245.65,336.27 245.70,336.27 245.75,336.27 245.80,336.27 245.85,336.27 245.90,336.27 245.95,336.27 246.00,336.27 246.05,336.27 246.10,336.27 246.15,336.27 246.20,336.26 246.25,336.26 246.30,336.26 246.35,336.26 246.40,336.26 246.45,336.26 246.50,336.26 246.55,336.26 246.60,336.26 246.65,336.25 246.70,336.25 246.75,336.25 246.80,336.25 246.85,336.25 246.90,336.25 246.95,336.25 247.00,336.24 247.05,336.24 247.10,336.24 247.15,336.24 247.20,336.24 247.25,336.23 247.30,336.23 247.35,336.23 247.40,336.23 247.45,336.22 247.50,336.22 247.55,336.22 247.60,336.21 247.65,336.21 247.70,336.21 247.75,336.20 247.80,336.20 247.85,336.19 247.90,336.19 247.95,336.18 248.00,336.18 248.05,336.17 248.10,336.17 248.15,336.16 248.20,336.15 248.25,336.15 248.30,336.14 248.35,336.13 248.40,336.12 248.45,336.11 248.50,336.10 248.55,336.09 248.60,336.08 248.65,336.06 248.70,336.04 248.75,336.03 248.80,336.01 248.85,335.98 248.90,335.96 248.95,335.93 249.00,335.90 249.05,335.86 249.10,335.82 249.15,335.78 249.20,335.72 249.25,335.66 249.30,335.59 249.35,335.51 249.40,335.42 249.45,335.32 249.50,335.21 249.55,335.09 249.60,334.97 249.65,334.86 249.70,334.77 249.75,334.71 249.80,334.68 249.85,334.70 249.90,334.75 249.95,334.84 250.00,334.94 250.05,335.05 250.10,335.17 250.15,335.27 250.20,335.36 250.25,335.45 250.30,335.52 250.35,335.58 250.40,335.64 250.45,335.68 250.50,335.72 250.55,335.76 250.60,335.79 250.65,335.81 250.70,335.83 250.75,335.85 250.80,335.86 250.85,335.87 250.90,335.88 250.95,335.89 251.00,335.89 251.05,335.90 251.10,335.90 251.15,335.90 251.20,335.90 251.25,335.90 251.30,335.89 251.35,335.89 251.40,335.89 251.45,335.88 251.50,335.87 251.55,335.87 251.60,335.86 251.65,335.85 251.70,335.84 251.75,335.83 251.80,335.82 251.85,335.80 251.90,335.79 251.95,335.77 252.00,335.76 252.05,335.74 252.10,335.72 252.15,335.70 252.20,335.68 252.25,335.66 252.30,335.63 252.35,335.61 252.40,335.58 252.45,335.55 252.50,335.52 252.55,335.49 252.60,335.45 252.65,335.41 252.70,335.37 252.75,335.33 252.80,335.28 252.85,335.23 252.90,335.18 252.95,335.12 253.00,335.05 253.05,334.98 253.10,334.91 253.15,334.83 253.20,334.74 253.25,334.64 253.30,334.54 253.35,334.42 253.40,334.29 253.45,334.15 253.50,334.00 253.55,333.83 253.60,333.64 253.65,333.43 253.70,333.19 253.75,332.93 253.80,332.63 253.85,332.30 253.90,331.92 253.95,331.49 254.00,331.00 254.05,330.44 254.10,329.80 254.15,329.06 254.20,328.21 254.25,327.24 254.30,326.12 254.35,324.84 254.40,323.38 254.45,321.76 254.50,319.98 254.55,318.10 254.60,316.20 254.65,314.43 254.70,312.96 254.75,311.98 254.80,311.64 254.85,311.98 254.90,312.96 254.95,314.43 255.00,316.20 255.05,318.10 255.10,319.98 255.15,321.76 255.20,323.38 255.25,324.83 255.30,326.12 255.35,327.23 255.40,328.21 255.45,329.06 255.50,329.79 255.55,330.43 255.60,330.99 255.65,331.48 255.70,331.91 255.75,332.29 255.80,332.62 255.85,332.92 255.90,333.18 255.95,333.42 256.00,333.63 256.05,333.82 256.10,333.98 256.15,334.14 256.20,334.28 256.25,334.40 256.30,334.52 256.35,334.62 256.40,334.71 256.45,334.80 256.50,334.88 256.55,334.95 256.60,335.02 256.65,335.08 256.70,335.13 256.75,335.19 256.80,335.23 256.85,335.27 256.90,335.31 256.95,335.34 257.00,335.38 257.05,335.40 257.10,335.42 257.15,335.44 257.20,335.46 257.25,335.47 257.30,335.48 257.35,335.48 257.40,335.47 257.45,335.47 257.50,335.45 257.55,335.43 257.60,335.41 257.65,335.38 257.70,335.35 257.75,335.33 257.80,335.31 257.85,335.30 257.90,335.31 257.95,335.33 258.00,335.36 258.05,335.41 258.10,335.47 258.15,335.53 258.20,335.58 258.25,335.64 258.30,335.69 258.35,335.73 258.40,335.77 258.45,335.81 258.50,335.84 258.55,335.87 258.60,335.89 258.65,335.92 258.70,335.94 258.75,335.96 258.80,335.97 258.85,335.99 258.90,336.00 258.95,336.02 259.00,336.03 259.05,336.04 259.10,336.05 259.15,336.06 259.20,336.07 259.25,336.08 259.30,336.09 259.35,336.09 259.40,336.10 259.45,336.11 259.50,336.12 259.55,336.12 259.60,336.13 259.65,336.13 259.70,336.14 259.75,336.14 259.80,336.15 259.85,336.15 259.90,336.16 259.95,336.16 260.00,336.17 260.05,336.17 260.10,336.17 260.15,336.18 260.20,336.18 260.25,336.18 260.30,336.19 260.35,336.19 260.40,336.19 260.45,336.20 260.50,336.20 260.55,336.20 260.60,336.20 260.65,336.21 260.70,336.21 260.75,336.21 260.80,336.21 260.85,336.22 260.90,336.22 260.95,336.22 261.00,336.22 261.05,336.23 261.10,336.23 261.15,336.23 261.20,336.23 261.25,336.23 261.30,336.23 261.35,336.24 261.40,336.24 261.45,336.24 261.50,336.24 261.55,336.24 261.60,336.24 261.65,336.25 261.70,336.25 261.75,336.25 261.80,336.25 261.85,336.25 261.90,336.25 261.95,336.25 262.00,336.25 262.05,336.26 262.10,336.26 262.15,336.26 262.20,336.26 262.25,336.26 262.30,336.26 262.35,336.26 262.40,336.26 262.45,336.26 262.50,336.27 262.55,336.27 262.60,336.27 262.65,336.27 262.70,336.27 262.75,336.27 262.80,336.27 262.85,336.27 262.90,336.27 262.95,336.27 263.00,336.27 263.05,336.27 263.10,336.27 263.15,336.28 263.20,336.28 263.25,336.28 263.30,336.28 263.35,336.28 263.40,336.28 263.45,336.28 263.50,336.28 263.55,336.28 263.60,336.28 263.65,336.28 263.70,336.28 263.75,336.28 263.80,336.28 263.85,336.28 263.90,336.28 264.00,336.28 264.50,336.29 265.00,336.29 265.50,336.29 266.00,336.29 266.50,336.29 267.00,336.29 267.50,336.29 268.00,336.29 268.50,336.28 269.00,336.28 269.50,336.27 270.00,336.27 270.50,336.26 271.00,336.25 271.50,336.24 272.00,336.23 272.50,336.21 273.00,336.20 273.50,336.17 274.00,336.15 274.50,336.12 275.00,336.08 275.40,336.04 275.45,336.03 275.50,336.03 275.55,336.02 275.60,336.02 275.65,336.01 275.70,336.00 275.75,336.00 275.80,335.99 275.85,335.98 275.90,335.98 275.95,335.97 276.00,335.96 276.05,335.96 276.10,335.95 276.15,335.94 276.20,335.93 276.25,335.92 276.30,335.92 276.35,335.91 276.40,335.90 276.45,335.89 276.50,335.88 276.55,335.87 276.60,335.86 276.65,335.85 276.70,335.84 276.75,335.83 276.80,335.81 276.85,335.80 276.90,335.79 276.95,335.78 277.00,335.76 277.05,335.75 277.10,335.74 277.15,335.72 277.20,335.71 277.25,335.69 277.30,335.68 277.35,335.66 277.40,335.64 277.45,335.62 277.50,335.60 277.55,335.58 277.60,335.56 277.65,335.54 277.70,335.52 277.75,335.50 277.80,335.48 277.85,335.45 277.90,335.43 277.95,335.40 278.00,335.37 278.05,335.34 278.10,335.31 278.15,335.28 278.20,335.25 278.25,335.21 278.30,335.17 278.35,335.14 278.40,335.10 278.45,335.05 278.50,335.01 278.55,334.96 278.60,334.91 278.65,334.86 278.70,334.81 278.75,334.75 278.80,334.69 278.85,334.62 278.90,334.56 278.95,334.48 279.00,334.41 279.05,334.33 279.10,334.24 279.15,334.15 279.20,334.05 279.25,333.95 279.30,333.84 279.35,333.72 279.40,333.59 279.45,333.45 279.50,333.31 279.55,333.15 279.60,332.98 279.65,332.79 279.70,332.59 279.75,332.37 279.80,332.14 279.85,331.88 279.90,331.60 279.95,331.29 280.00,330.96 280.05,330.59 280.10,330.18 280.15,329.72 280.20,329.22 280.25,328.66 280.30,328.04 280.35,327.34 280.40,326.56 280.45,325.68 280.50,324.68 280.55,323.54 280.60,322.25 280.65,320.77 280.70,319.08 280.75,317.13 280.80,314.89 280.85,312.32 280.90,309.36 280.95,305.98 281.00,302.14 281.05,297.85 281.10,293.16 281.15,288.19 281.20,283.18 281.25,278.50 281.30,274.63 281.35,272.04 281.40,271.13 281.45,272.04 281.50,274.62 281.55,278.50 281.60,283.18 281.65,288.18 281.70,293.15 281.75,297.84 281.80,302.13 281.85,305.97 281.90,309.35 281.95,312.30 282.00,314.88 282.05,317.11 282.10,319.06 282.15,320.75 282.20,322.23 282.25,323.52 282.30,324.65 282.35,325.65 282.40,326.54 282.45,327.32 282.50,328.02 282.55,328.64 282.60,329.19 282.65,329.69 282.70,330.14 282.75,330.55 282.80,330.92 282.85,331.26 282.90,331.56 282.95,331.84 283.00,332.10 283.05,332.33 283.10,332.55 283.15,332.75 283.20,332.93 283.25,333.10 283.30,333.26 283.35,333.40 283.40,333.54 283.45,333.66 283.50,333.78 283.55,333.89 283.60,333.99 283.65,334.09 283.70,334.18 283.75,334.26 283.80,334.34 283.85,334.42 283.90,334.49 283.95,334.55 284.00,334.61 284.05,334.67 284.10,334.73 284.15,334.78 284.20,334.83 284.25,334.88 284.30,334.92 284.35,334.96 284.40,335.00 284.45,335.04 284.50,335.07 284.55,335.11 284.60,335.14 284.65,335.17 284.70,335.20 284.75,335.23 284.80,335.25 284.85,335.28 284.90,335.30 284.95,335.32 285.00,335.34 285.05,335.36 285.10,335.38 285.15,335.40 285.20,335.42 285.25,335.43 285.30,335.45 285.35,335.46 285.40,335.48 285.45,335.49 285.50,335.50 285.55,335.51 285.60,335.52 285.65,335.53 285.70,335.54 285.75,335.55 285.80,335.56 285.85,335.56 285.90,335.57 285.95,335.57 286.00,335.58 286.05,335.58 286.10,335.59 286.15,335.59 286.20,335.59 286.25,335.59 286.30,335.59 286.35,335.59 286.40,335.59 286.45,335.59 286.50,335.59 286.55,335.58 286.60,335.58 286.65,335.57 286.70,335.56 286.75,335.56 286.80,335.55 286.85,335.54 286.90,335.53 286.95,335.52 287.00,335.50 287.05,335.49 287.10,335.47 287.15,335.45 287.20,335.43 287.25,335.41 287.30,335.39 287.35,335.36 287.40,335.33 287.45,335.30 287.50,335.26 287.55,335.23 287.60,335.18 287.65,335.14 287.70,335.09 287.75,335.03 287.80,334.97 287.85,334.90 287.90,334.83 287.95,334.75 288.00,334.66 288.05,334.56 288.10,334.44 288.15,334.32 288.20,334.18 288.25,334.02 288.30,333.84 288.35,333.64 288.40,333.41 288.45,333.15 288.50,332.85 288.55,332.51 288.60,332.12 288.65,331.68 288.70,331.16 288.75,330.57 288.80,329.88 288.85,329.10 288.90,328.22 288.95,327.23 289.00,326.14 289.05,324.99 289.10,323.83 289.15,322.75 289.20,321.86 289.25,321.26 289.30,321.05 289.35,321.26 289.40,321.86 289.45,322.76 289.50,323.85 289.55,325.01 289.60,326.16 289.65,327.25 289.70,328.24 289.75,329.13 289.80,329.92 289.85,330.60 289.90,331.20 289.95,331.72 290.00,332.17 290.05,332.56 290.10,332.91 290.15,333.21 290.20,333.47 290.25,333.70 290.30,333.91 290.35,334.09 290.40,334.25 290.45,334.40 290.50,334.53 290.55,334.64 290.60,334.75 290.65,334.84 290.70,334.93 290.75,335.01 290.80,335.08 290.85,335.14 290.90,335.20 290.95,335.26 291.00,335.31 291.05,335.35 291.10,335.40 291.15,335.43 291.20,335.47 291.25,335.50 291.30,335.54 291.35,335.56 291.40,335.59 291.45,335.62 291.50,335.64 291.55,335.66 291.60,335.68 291.65,335.70 291.70,335.72 291.75,335.73 291.80,335.75 291.85,335.76 291.90,335.78 291.95,335.79 292.00,335.80 292.05,335.81 292.10,335.82 292.15,335.83 292.20,335.84 292.25,335.85 292.30,335.86 292.35,335.86 292.40,335.87 292.45,335.87 292.50,335.88 292.55,335.88 292.60,335.89 292.65,335.89 292.70,335.90 292.75,335.90 292.80,335.90 292.85,335.90 292.90,335.90 292.95,335.90 293.00,335.91 293.05,335.91 293.10,335.91 293.15,335.90 293.20,335.90 293.25,335.90 293.30,335.90 293.35,335.90 293.40,335.89 293.45,335.89 293.50,335.88 293.55,335.88 293.60,335.87 293.65,335.87 293.70,335.86 293.75,335.85 293.80,335.85 293.85,335.84 293.90,335.83 293.95,335.82 294.00,335.81 294.05,335.79 294.10,335.78 294.15,335.77 294.20,335.75 294.25,335.73 294.30,335.71 294.35,335.69 294.40,335.67 294.45,335.65 294.50,335.62 294.55,335.59 294.60,335.56 294.65,335.53 294.70,335.50 294.75,335.46 294.80,335.41 294.85,335.37 294.90,335.32 294.95,335.26 295.00,335.20 295.05,335.13 295.10,335.06 295.15,334.97 295.20,334.88 295.25,334.78 295.30,334.66 295.35,334.53 295.40,334.39 295.45,334.22 295.50,334.03 295.55,333.82 295.60,333.58 295.65,333.31 295.70,332.99 295.75,332.63 295.80,332.21 295.85,331.73 295.90,331.17 295.95,330.54 296.00,329.82 296.05,329.02 296.10,328.14 296.15,327.21 296.20,326.28 296.25,325.40 296.30,324.68 296.35,324.19 296.40,324.02 296.45,324.19 296.50,324.67 296.55,325.40 296.60,326.27 296.65,327.21 296.70,328.14 296.75,329.02 296.80,329.82 296.85,330.53 296.90,331.17 296.95,331.72 297.00,332.20 297.05,332.62 297.10,332.98 297.15,333.29 297.20,333.57 297.25,333.81 297.30,334.02 297.35,334.20 297.40,334.37 297.45,334.51 297.50,334.64 297.55,334.75 297.60,334.85 297.65,334.94 297.70,335.02 297.75,335.10 297.80,335.16 297.85,335.22 297.90,335.27 297.95,335.32 298.00,335.36 298.05,335.40 298.10,335.44 298.15,335.47 298.20,335.50 298.25,335.52 298.30,335.54 298.35,335.56 298.40,335.58 298.45,335.59 298.50,335.61 298.55,335.62 298.60,335.62 298.65,335.63 298.70,335.63 298.75,335.63 298.80,335.63 298.85,335.63 298.90,335.62 298.95,335.61 299.00,335.60 299.05,335.59 299.10,335.57 299.15,335.55 299.20,335.53 299.25,335.50 299.30,335.46 299.35,335.42 299.40,335.38 299.45,335.33 299.50,335.27 299.55,335.20 299.60,335.13 299.65,335.04 299.70,334.93 299.75,334.81 299.80,334.68 299.85,334.52 299.90,334.34 299.95,334.12 300.00,333.88 300.05,333.60 300.10,333.28 300.15,332.92 300.20,332.53 300.25,332.11 300.30,331.70 300.35,331.31 300.40,330.98 300.45,330.77 300.50,330.69 300.55,330.77 300.60,330.99 300.65,331.32 300.70,331.72 300.75,332.15 300.80,332.57 300.85,332.97 300.90,333.33 300.95,333.66 301.00,333.95 301.05,334.20 301.10,334.42 301.15,334.61 301.20,334.77 301.25,334.92 301.30,335.04 301.35,335.16 301.40,335.25 301.45,335.34 301.50,335.42 301.55,335.48 301.60,335.54 301.65,335.60 301.70,335.65 301.75,335.69 301.80,335.73 301.85,335.76 301.90,335.80 301.95,335.83 302.00,335.85 302.05,335.88 302.10,335.90 302.15,335.92 302.20,335.94 302.25,335.96 302.30,335.98 302.35,335.99 302.40,336.01 302.45,336.02 302.50,336.03 302.55,336.04 302.60,336.05 302.65,336.06 302.70,336.07 302.75,336.08 302.80,336.09 302.85,336.10 302.90,336.11 302.95,336.11 303.00,336.12 303.05,336.13 303.10,336.13 303.15,336.14 303.20,336.14 303.25,336.15 303.30,336.15 303.35,336.16 303.40,336.16 303.45,336.16 303.50,336.17 303.55,336.17 303.60,336.17 303.65,336.18 303.70,336.18 303.75,336.18 303.80,336.19 303.85,336.19 303.90,336.19 303.95,336.19 304.00,336.20 304.05,336.20 304.10,336.20 304.15,336.20 304.20,336.20 304.25,336.20 304.30,336.21 304.35,336.21 304.40,336.21 304.45,336.21 304.50,336.21 304.55,336.21 304.60,336.21 304.65,336.21 304.70,336.21 304.75,336.21 304.80,336.22 304.85,336.22 304.90,336.22 304.95,336.22 305.00,336.22 305.05,336.22 305.10,336.22 305.15,336.22 305.20,336.22 305.25,336.22 305.30,336.22 305.35,336.21 305.40,336.21 305.45,336.21 305.50,336.21 305.55,336.21 305.60,336.21 305.65,336.21 305.70,336.21 305.75,336.21 305.80,336.21 305.85,336.20 305.90,336.20 305.95,336.20 306.00,336.20 306.05,336.20 306.10,336.20 306.15,336.19 306.20,336.19 306.25,336.19 306.30,336.18 306.35,336.18 306.40,336.18 306.45,336.17 306.50,336.17 306.55,336.17 306.60,336.16 306.65,336.16 306.70,336.15 306.75,336.15 306.80,336.14 306.85,336.14 306.90,336.13 306.95,336.13 307.00,336.12 307.05,336.11 307.10,336.10 307.15,336.10 307.20,336.09 307.25,336.08 307.30,336.07 307.35,336.06 307.40,336.05 307.45,336.03 307.50,336.02 307.55,336.01 307.60,335.99 307.65,335.98 307.70,335.96 307.75,335.94 307.80,335.92 307.85,335.90 307.90,335.87 307.95,335.85 308.00,335.82 308.05,335.79 308.10,335.75 308.15,335.72 308.20,335.67 308.25,335.63 308.30,335.58 308.35,335.53 308.40,335.46 308.45,335.40 308.50,335.32 308.55,335.23 308.60,335.14 308.65,335.03 308.70,334.91 308.75,334.77 308.80,334.61 308.85,334.43 308.90,334.22 308.95,333.99 309.00,333.71 309.05,333.40 309.10,333.03 309.15,332.62 309.20,332.15 309.25,331.62 309.30,331.05 309.35,330.44 309.40,329.82 309.45,329.25 309.50,328.77 309.55,328.46 309.60,328.35 309.65,328.46 309.70,328.78 309.75,329.25 309.80,329.83 309.85,330.44 309.90,331.05 309.95,331.63 310.00,332.15 310.05,332.62 310.10,333.04 310.15,333.40 310.20,333.72 310.25,333.99 310.30,334.23 310.35,334.44 310.40,334.62 310.45,334.78 310.50,334.92 310.55,335.04 310.60,335.15 310.65,335.25 310.70,335.33 310.75,335.41 310.80,335.48 310.85,335.54 310.90,335.60 310.95,335.65 311.00,335.69 311.05,335.73 311.10,335.77 311.15,335.81 311.20,335.84 311.25,335.87 311.30,335.89 311.35,335.92 311.40,335.94 311.45,335.96 311.50,335.98 311.55,336.00 311.60,336.02 311.65,336.03 311.70,336.05 311.75,336.06 311.80,336.08 311.85,336.09 311.90,336.10 311.95,336.11 312.00,336.12 312.05,336.13 312.10,336.14 312.15,336.15 312.20,336.15 312.25,336.16 312.30,336.17 312.35,336.18 312.40,336.18 312.45,336.19 312.50,336.19 312.55,336.20 312.60,336.21 312.65,336.21 312.70,336.22 312.75,336.22 312.80,336.22 312.85,336.23 312.90,336.23 312.95,336.24 313.00,336.24 313.05,336.24 313.10,336.25 313.15,336.25 313.20,336.25 313.25,336.26 313.30,336.26 313.35,336.26 313.40,336.27 313.45,336.27 313.50,336.27 313.55,336.27 313.60,336.27 313.65,336.28 313.70,336.28 313.75,336.28 313.80,336.28 313.85,336.29 313.90,336.29 313.95,336.29 314.00,336.29 314.05,336.29 314.10,336.29 314.15,336.30 314.20,336.30 314.25,336.30 314.30,336.30 314.35,336.30 314.40,336.30 314.45,336.30 314.50,336.31 314.55,336.31 314.60,336.31 314.65,336.31 314.70,336.31 314.75,336.31 314.80,336.31 314.85,336.31 314.90,336.32 314.95,336.32 315.00,336.32 315.05,336.32 315.10,336.32 315.15,336.32 315.20,336.32 315.25,336.32 315.30,336.32 315.35,336.32 315.40,336.32 315.45,336.33 315.50,336.33 315.55,336.33 315.60,336.33 316.00,336.33 316.50,336.34 317.00,336.34 317.50,336.35 318.00,336.35 318.50,336.35 319.00,336.36 319.50,336.36 320.00,336.36 320.50,336.36 321.00,336.36 321.50,336.36 322.00,336.37 322.50,336.37 323.00,336.37 323.50,336.37 324.00,336.37 324.50,336.37 325.00,336.37 325.50,336.37 326.00,336.37 326.50,336.37 327.00,336.37 327.50,336.37 328.00,336.37 328.50,336.37 329.00,336.37 329.50,336.37 330.00,336.37 330.50,336.37 331.00,336.37 331.50,336.37 332.00,336.37 332.50,336.37 333.00,336.37 333.50,336.37 334.00,336.36 334.50,336.36 335.00,336.36 335.50,336.36 336.00,336.35 336.50,336.35 337.00,336.34 337.20,336.34 337.25,336.34 337.30,336.34 337.35,336.34 337.40,336.34 337.45,336.33 337.50,336.33 337.55,336.33 337.60,336.33 337.65,336.33 337.70,336.33 337.75,336.33 337.80,336.33 337.85,336.33 337.90,336.33 337.95,336.32 338.00,336.32 338.05,336.32 338.10,336.32 338.15,336.32 338.20,336.32 338.25,336.32 338.30,336.32 338.35,336.31 338.40,336.31 338.45,336.31 338.50,336.31 338.55,336.31 338.60,336.31 338.65,336.30 338.70,336.30 338.75,336.30 338.80,336.30 338.85,336.30 338.90,336.30 338.95,336.29 339.00,336.29 339.05,336.29 339.10,336.29 339.15,336.28 339.20,336.28 339.25,336.28 339.30,336.28 339.35,336.27 339.40,336.27 339.45,336.27 339.50,336.26 339.55,336.26 339.60,336.26 339.65,336.25 339.70,336.25 339.75,336.25 339.80,336.24 339.85,336.24 339.90,336.23 339.95,336.23 340.00,336.22 340.05,336.22 340.10,336.21 340.15,336.21 340.20,336.20 340.25,336.20 340.30,336.19 340.35,336.18 340.40,336.18 340.45,336.17 340.50,336.16 340.55,336.15 340.60,336.14 340.65,336.13 340.70,336.13 340.75,336.11 340.80,336.10 340.85,336.09 340.90,336.08 340.95,336.07 341.00,336.05 341.05,336.04 341.10,336.02 341.15,336.00 341.20,335.98 341.25,335.96 341.30,335.94 341.35,335.92 341.40,335.90 341.45,335.87 341.50,335.84 341.55,335.81 341.60,335.77 341.65,335.74 341.70,335.70 341.75,335.65 341.80,335.60 341.85,335.55 341.90,335.49 341.95,335.42 342.00,335.35 342.05,335.27 342.10,335.18 342.15,335.08 342.20,334.96 342.25,334.83 342.30,334.69 342.35,334.52 342.40,334.33 342.45,334.12 342.50,333.87 342.55,333.59 342.60,333.26 342.65,332.89 342.70,332.46 342.75,331.96 342.80,331.40 342.85,330.78 342.90,330.10 342.95,329.37 343.00,328.64 343.05,327.96 343.10,327.40 343.15,327.02 343.20,326.89 343.25,327.02 343.30,327.40 343.35,327.96 343.40,328.64 343.45,329.37 343.50,330.10 343.55,330.78 343.60,331.40 343.65,331.96 343.70,332.46 343.75,332.89 343.80,333.26 343.85,333.59 343.90,333.87 343.95,334.12 344.00,334.33 344.05,334.52 344.10,334.69 344.15,334.83 344.20,334.96 344.25,335.08 344.30,335.18 344.35,335.27 344.40,335.35 344.45,335.42 344.50,335.49 344.55,335.55 344.60,335.60 344.65,335.65 344.70,335.70 344.75,335.74 344.80,335.77 344.85,335.81 344.90,335.84 344.95,335.87 345.00,335.90 345.05,335.92 345.10,335.94 345.15,335.97 345.20,335.99 345.25,336.00 345.30,336.02 345.35,336.04 345.40,336.05 345.45,336.07 345.50,336.08 345.55,336.09 345.60,336.10 345.65,336.12 345.70,336.13 345.75,336.14 345.80,336.15 345.85,336.15 345.90,336.16 345.95,336.17 346.00,336.18 346.05,336.18 346.10,336.19 346.15,336.20 346.20,336.20 346.25,336.21 346.30,336.22 346.35,336.22 346.40,336.23 346.45,336.23 346.50,336.24 346.55,336.24 346.60,336.24 346.65,336.25 346.70,336.25 346.75,336.26 346.80,336.26 346.85,336.26 346.90,336.27 346.95,336.27 347.00,336.27 347.05,336.28 347.10,336.28 347.15,336.28 347.20,336.28 347.25,336.29 347.30,336.29 347.35,336.29 347.40,336.29 347.45,336.30 347.50,336.30 347.55,336.30 347.60,336.30 347.65,336.30 347.70,336.31 347.75,336.31 347.80,336.31 347.85,336.31 347.90,336.31 347.95,336.31 348.00,336.31 348.05,336.32 348.10,336.32 348.15,336.32 348.20,336.32 348.25,336.32 348.30,336.32 348.35,336.32 348.40,336.33 348.45,336.33 348.50,336.33 348.55,336.33 348.60,336.33 348.65,336.33 348.70,336.33 348.75,336.33 348.80,336.33 348.85,336.33 348.90,336.34 348.95,336.34 349.00,336.34 349.05,336.34 349.10,336.34 349.15,336.34 349.20,336.34 349.50,336.35 350.00,336.35 350.50,336.36 351.00,336.36 351.50,336.36 352.00,336.37 352.50,336.37 353.00,336.37 353.50,336.37 354.00,336.37 354.50,336.37 355.00,336.37 355.50,336.38 356.00,336.38 356.50,336.38 357.00,336.38 357.50,336.38 358.00,336.38 358.50,336.38 359.00,336.38 359.50,336.38 360.00,336.38 360.50,336.38 361.00,336.38 361.50,336.38 362.00,336.38 362.50,336.38 363.00,336.38 363.50,336.38 364.00,336.38 364.50,336.38 365.00,336.38 365.50,336.38 366.00,336.38 366.50,336.37 367.00,336.37 367.50,336.37 367.90,336.37 367.95,336.37 368.00,336.37 368.05,336.37 368.10,336.37 368.15,336.37 368.20,336.37 368.25,336.37 368.30,336.37 368.35,336.37 368.40,336.37 368.45,336.37 368.50,336.37 368.55,336.37 368.60,336.37 368.65,336.37 368.70,336.37 368.75,336.37 368.80,336.37 368.85,336.37 368.90,336.36 368.95,336.36 369.00,336.36 369.05,336.36 369.10,336.36 369.15,336.36 369.20,336.36 369.25,336.36 369.30,336.36 369.35,336.36 369.40,336.36 369.45,336.36 369.50,336.36 369.55,336.36 369.60,336.36 369.65,336.36 369.70,336.36 369.75,336.36 369.80,336.36 369.85,336.36 369.90,336.36 369.95,336.36 370.00,336.35 370.05,336.35 370.10,336.35 370.15,336.35 370.20,336.35 370.25,336.35 370.30,336.35 370.35,336.35 370.40,336.35 370.45,336.35 370.50,336.35 370.55,336.35 370.60,336.35 370.65,336.34 370.70,336.34 370.75,336.34 370.80,336.34 370.85,336.34 370.90,336.34 370.95,336.34 371.00,336.34 371.05,336.34 371.10,336.33 371.15,336.33 371.20,336.33 371.25,336.33 371.30,336.33 371.35,336.33 371.40,336.32 371.45,336.32 371.50,336.32 371.55,336.32 371.60,336.32 371.65,336.31 371.70,336.31 371.75,336.31 371.80,336.31 371.85,336.30 371.90,336.30 371.95,336.30 372.00,336.29 372.05,336.29 372.10,336.28 372.15,336.28 372.20,336.27 372.25,336.27 372.30,336.26 372.35,336.26 372.40,336.25 372.45,336.24 372.50,336.23 372.55,336.22 372.60,336.21 372.65,336.20 372.70,336.19 372.75,336.18 372.80,336.16 372.85,336.15 372.90,336.13 372.95,336.11 373.00,336.08 373.05,336.06 373.10,336.03 373.15,335.99 373.20,335.95 373.25,335.91 373.30,335.85 373.35,335.79 373.40,335.73 373.45,335.65 373.50,335.56 373.55,335.46 373.60,335.35 373.65,335.23 373.70,335.12 373.75,335.01 373.80,334.92 373.85,334.86 373.90,334.84 373.95,334.86 374.00,334.91 374.05,335.00 374.10,335.11 374.15,335.22 374.20,335.34 374.25,335.44 374.30,335.54 374.35,335.63 374.40,335.70 374.45,335.77 374.50,335.83 374.55,335.88 374.60,335.92 374.65,335.96 374.70,335.99 374.75,336.02 374.80,336.04 374.85,336.06 374.90,336.08 374.95,336.09 375.00,336.11 375.05,336.12 375.10,336.13 375.15,336.14 375.20,336.15 375.25,336.15 375.30,336.16 375.35,336.16 375.40,336.17 375.45,336.17 375.50,336.17 375.55,336.17 375.60,336.17 375.65,336.17 375.70,336.17 375.75,336.17 375.80,336.17 375.85,336.17 375.90,336.16 375.95,336.16 376.00,336.15 376.05,336.15 376.10,336.14 376.15,336.14 376.20,336.13 376.25,336.12 376.30,336.12 376.35,336.11 376.40,336.10 376.45,336.08 376.50,336.07 376.55,336.06 376.60,336.04 376.65,336.03 376.70,336.01 376.75,335.99 376.80,335.97 376.85,335.95 376.90,335.92 376.95,335.89 377.00,335.86 377.05,335.82 377.10,335.78 377.15,335.74 377.20,335.69 377.25,335.64 377.30,335.57 377.35,335.50 377.40,335.42 377.45,335.33 377.50,335.23 377.55,335.11 377.60,334.98 377.65,334.82 377.70,334.65 377.75,334.44 377.80,334.21 377.85,333.94 377.90,333.63 377.95,333.29 378.00,332.91 378.05,332.52 378.10,332.12 378.15,331.75 378.20,331.44 378.25,331.23 378.30,331.16 378.35,331.23 378.40,331.44 378.45,331.75 378.50,332.12 378.55,332.52 378.60,332.91 378.65,333.29 378.70,333.63 378.75,333.94 378.80,334.21 378.85,334.44 378.90,334.65 378.95,334.82 379.00,334.98 379.05,335.11 379.10,335.23 379.15,335.33 379.20,335.42 379.25,335.50 379.30,335.57 379.35,335.64 379.40,335.69 379.45,335.74 379.50,335.78 379.55,335.82 379.60,335.86 379.65,335.89 379.70,335.92 379.75,335.95 379.80,335.97 379.85,335.99 379.90,336.01 379.95,336.03 380.00,336.05 380.05,336.06 380.10,336.08 380.15,336.09 380.20,336.10 380.25,336.11 380.30,336.12 380.35,336.13 380.40,336.14 380.45,336.15 380.50,336.15 380.55,336.16 380.60,336.16 380.65,336.17 380.70,336.17 380.75,336.18 380.80,336.18 380.85,336.19 380.90,336.19 380.95,336.19 381.00,336.20 381.05,336.20 381.10,336.20 381.15,336.20 381.20,336.20 381.25,336.20 381.30,336.20 381.35,336.20 381.40,336.20 381.45,336.20 381.50,336.20 381.55,336.20 381.60,336.20 381.65,336.19 381.70,336.19 381.75,336.19 381.80,336.18 381.85,336.18 381.90,336.17 381.95,336.17 382.00,336.16 382.05,336.15 382.10,336.15 382.15,336.14 382.20,336.13 382.25,336.12 382.30,336.10 382.35,336.09 382.40,336.07 382.45,336.06 382.50,336.04 382.55,336.01 382.60,335.99 382.65,335.96 382.70,335.93 382.75,335.90 382.80,335.86 382.85,335.81 382.90,335.76 382.95,335.70 383.00,335.63 383.05,335.55 383.10,335.46 383.15,335.35 383.20,335.23 383.25,335.09 383.30,334.93 383.35,334.75 383.40,334.56 383.45,334.36 383.50,334.15 383.55,333.96 383.60,333.80 383.65,333.69 383.70,333.65 383.75,333.69 383.80,333.80 383.85,333.96 383.90,334.15 383.95,334.36 384.00,334.57 384.05,334.76 384.10,334.94 384.15,335.10 384.20,335.24 384.25,335.36 384.30,335.47 384.35,335.56 384.40,335.64 384.45,335.71 384.50,335.78 384.55,335.83 384.60,335.88 384.65,335.92 384.70,335.96 384.75,335.99 384.80,336.02 384.85,336.04 384.90,336.07 384.95,336.09 385.00,336.11 385.05,336.12 385.10,336.14 385.15,336.15 385.20,336.17 385.25,336.18 385.30,336.19 385.35,336.20 385.40,336.21 385.45,336.22 385.50,336.23 385.55,336.23 385.60,336.24 385.65,336.25 385.70,336.25 385.75,336.26 385.80,336.26 385.85,336.27 385.90,336.27 385.95,336.28 386.00,336.28 386.05,336.28 386.10,336.29 386.15,336.29 386.20,336.29 386.25,336.30 386.30,336.30 386.35,336.30 386.40,336.30 386.45,336.31 386.50,336.31 386.55,336.31 386.60,336.31 386.65,336.32 386.70,336.32 386.75,336.32 386.80,336.32 386.85,336.32 386.90,336.32 386.95,336.33 387.00,336.33 387.05,336.33 387.10,336.33 387.15,336.33 387.20,336.33 387.25,336.33 387.30,336.33 387.35,336.34 387.40,336.34 387.45,336.34 387.50,336.34 387.55,336.34 387.60,336.34 387.65,336.34 387.70,336.34 387.75,336.34 387.80,336.34 387.85,336.34 387.90,336.34 387.95,336.35 388.00,336.35 388.05,336.35 388.10,336.35 388.15,336.35 388.20,336.35 388.25,336.35 388.30,336.35 388.35,336.35 388.40,336.35 388.45,336.35 388.50,336.35 388.55,336.35 388.60,336.35 388.65,336.35 388.70,336.35 388.75,336.35 388.80,336.35 388.85,336.35 388.90,336.35 388.95,336.35 389.00,336.36 389.05,336.36 389.10,336.36 389.15,336.36 389.20,336.36 389.25,336.36 389.30,336.36 389.35,336.36 389.40,336.36 389.45,336.36 389.50,336.36 389.55,336.36 389.60,336.36 389.65,336.36 389.70,336.36 390.00,336.36 390.50,336.36 391.00,336.36 391.50,336.36 392.00,336.36 392.50,336.36 393.00,336.36 393.50,336.36 394.00,336.36 394.50,336.35 395.00,336.35 395.50,336.35 396.00,336.34 396.50,336.34 396.70,336.33 396.75,336.33 396.80,336.33 396.85,336.33 396.90,336.33 396.95,336.33 397.00,336.33 397.05,336.33 397.10,336.33 397.15,336.33 397.20,336.32 397.25,336.32 397.30,336.32 397.35,336.32 397.40,336.32 397.45,336.32 397.50,336.32 397.55,336.32 397.60,336.31 397.65,336.31 397.70,336.31 397.75,336.31 397.80,336.31 397.85,336.31 397.90,336.31 397.95,336.30 398.00,336.30 398.05,336.30 398.10,336.30 398.15,336.30 398.20,336.30 398.25,336.29 398.30,336.29 398.35,336.29 398.40,336.29 398.45,336.29 398.50,336.28 398.55,336.28 398.60,336.28 398.65,336.28 398.70,336.27 398.75,336.27 398.80,336.27 398.85,336.26 398.90,336.26 398.95,336.26 399.00,336.25 399.05,336.25 399.10,336.25 399.15,336.24 399.20,336.24 399.25,336.24 399.30,336.23 399.35,336.23 399.40,336.22 399.45,336.22 399.50,336.21 399.55,336.21 399.60,336.20 399.65,336.19 399.70,336.19 399.75,336.18 399.80,336.17 399.85,336.17 399.90,336.16 399.95,336.15 400.00,336.14 400.05,336.13 400.10,336.13 400.15,336.12 400.20,336.10 400.25,336.09 400.30,336.08 400.35,336.07 400.40,336.06 400.45,336.04 400.50,336.03 400.55,336.01 400.60,335.99 400.65,335.97 400.70,335.95 400.75,335.93 400.80,335.91 400.85,335.89 400.90,335.86 400.95,335.83 401.00,335.80 401.05,335.77 401.10,335.73 401.15,335.69 401.20,335.65 401.25,335.60 401.30,335.55 401.35,335.49 401.40,335.43 401.45,335.36 401.50,335.28 401.55,335.19 401.60,335.10 401.65,334.99 401.70,334.87 401.75,334.73 401.80,334.57 401.85,334.40 401.90,334.20 401.95,333.97 402.00,333.71 402.05,333.40 402.10,333.06 402.15,332.66 402.20,332.20 402.25,331.68 402.30,331.08 402.35,330.42 402.40,329.69 402.45,328.92 402.50,328.14 402.55,327.42 402.60,326.82 402.65,326.42 402.70,326.28 402.75,326.42 402.80,326.82 402.85,327.42 402.90,328.14 402.95,328.92 403.00,329.69 403.05,330.42 403.10,331.08 403.15,331.67 403.20,332.20 403.25,332.65 403.30,333.05 403.35,333.40 403.40,333.70 403.45,333.96 403.50,334.19 403.55,334.39 403.60,334.57 403.65,334.72 403.70,334.86 403.75,334.98 403.80,335.09 403.85,335.18 403.90,335.27 403.95,335.35 404.00,335.42 404.05,335.48 404.10,335.54 404.15,335.59 404.20,335.63 404.25,335.68 404.30,335.72 404.35,335.75 404.40,335.79 404.45,335.82 404.50,335.84 404.55,335.87 404.60,335.89 404.65,335.92 404.70,335.94 404.75,335.96 404.80,335.97 404.85,335.99 404.90,336.00 404.95,336.02 405.00,336.03 405.05,336.04 405.10,336.06 405.15,336.07 405.20,336.08 405.25,336.09 405.30,336.09 405.35,336.10 405.40,336.11 405.45,336.12 405.50,336.12 405.55,336.13 405.60,336.13 405.65,336.14 405.70,336.14 405.75,336.15 405.80,336.15 405.85,336.16 405.90,336.16 405.95,336.16 406.00,336.16 406.05,336.16 406.10,336.17 406.15,336.17 406.20,336.17 406.25,336.17 406.30,336.16 406.35,336.16 406.40,336.16 406.45,336.16 406.50,336.16 406.55,336.15 406.60,336.15 406.65,336.14 406.70,336.13 406.75,336.13 406.80,336.12 406.85,336.11 406.90,336.10 406.95,336.08 407.00,336.07 407.05,336.05 407.10,336.03 407.15,336.00 407.20,335.98 407.25,335.94 407.30,335.91 407.35,335.86 407.40,335.81 407.45,335.76 407.50,335.69 407.55,335.61 407.60,335.53 407.65,335.43 407.70,335.32 407.75,335.21 407.80,335.10 407.85,334.99 407.90,334.90 407.95,334.84 408.00,334.82 408.05,334.85 408.10,334.91 408.15,335.00 408.20,335.11 408.25,335.22 408.30,335.34 408.35,335.45 408.40,335.55 408.45,335.63 408.50,335.71 408.55,335.78 408.60,335.84 408.65,335.89 408.70,335.94 408.75,335.98 408.80,336.01 408.85,336.05 408.90,336.07 408.95,336.10 409.00,336.12 409.05,336.14 409.10,336.15 409.15,336.17 409.20,336.18 409.25,336.19 409.30,336.20 409.35,336.21 409.40,336.22 409.45,336.23 409.50,336.24 409.55,336.25 409.60,336.25 409.65,336.26 409.70,336.26 409.75,336.27 409.80,336.27 409.85,336.28 409.90,336.28 409.95,336.29 410.00,336.29 410.05,336.29 410.10,336.30 410.15,336.30 410.20,336.30 410.25,336.30 410.30,336.31 410.35,336.31 410.40,336.31 410.45,336.31 410.50,336.32 410.55,336.32 410.60,336.32 410.65,336.32 410.70,336.32 410.75,336.32 410.80,336.33 410.85,336.33 410.90,336.33 410.95,336.33 411.00,336.33 411.05,336.33 411.10,336.33 411.15,336.33 411.20,336.34 411.25,336.34 411.30,336.34 411.35,336.34 411.40,336.34 411.45,336.34 411.50,336.34 411.55,336.34 411.60,336.34 411.65,336.34 411.70,336.34 411.75,336.35 411.80,336.35 411.85,336.35 411.90,336.35 411.95,336.35 412.00,336.35 412.05,336.35 412.10,336.35 412.15,336.35 412.20,336.35 412.25,336.35 412.30,336.35 412.35,336.35 412.40,336.35 412.45,336.35 412.50,336.35 412.55,336.35 412.60,336.36 412.65,336.36 412.70,336.36 412.75,336.36 412.80,336.36 412.85,336.36 412.90,336.36 412.95,336.36 413.00,336.36 413.05,336.36 413.10,336.36 413.15,336.36 413.20,336.36 413.25,336.36 413.30,336.36 413.35,336.36 413.40,336.36 413.45,336.36 413.50,336.36 413.55,336.36 413.60,336.36 413.65,336.36 413.70,336.36 413.75,336.36 413.80,336.36 413.85,336.36 413.90,336.36 413.95,336.36 414.00,336.36 414.50,336.37 415.00,336.37 415.50,336.37 416.00,336.37 416.50,336.37 417.00,336.37 417.50,336.37 418.00,336.37 418.50,336.37 419.00,336.37 419.50,336.37 420.00,336.37 420.50,336.37 421.00,336.37 421.50,336.37 422.00,336.37 422.50,336.37 423.00,336.37 423.50,336.37 424.00,336.37 424.50,336.37 425.00,336.37 425.50,336.37 426.00,336.37 426.50,336.37 427.00,336.37 427.50,336.37 428.00,336.37 428.50,336.37 429.00,336.37 429.50,336.37 430.00,336.36 430.50,336.36 431.00,336.36 431.50,336.36 432.00,336.36 432.50,336.36 433.00,336.36 433.50,336.35 434.00,336.35 434.50,336.35 435.00,336.35 435.50,336.34 436.00,336.34 436.50,336.33 436.70,336.33 436.75,336.33 436.80,336.33 436.85,336.33 436.90,336.33 436.95,336.33 437.00,336.33 437.05,336.33 437.10,336.33 437.15,336.33 437.20,336.33 437.25,336.33 437.30,336.33 437.35,336.33 437.40,336.32 437.45,336.32 437.50,336.32 437.55,336.32 437.60,336.32 437.65,336.32 437.70,336.32 437.75,336.32 437.80,336.32 437.85,336.32 437.90,336.32 437.95,336.32 438.00,336.32 438.05,336.32 438.10,336.31 438.15,336.31 438.20,336.31 438.25,336.31 438.30,336.31 438.35,336.31 438.40,336.31 438.45,336.31 438.50,336.31 438.55,336.31 438.60,336.31 438.65,336.30 438.70,336.30 438.75,336.30 438.80,336.30 438.85,336.30 438.90,336.30 438.95,336.30 439.00,336.30 439.05,336.30 439.10,336.29 439.15,336.29 439.20,336.29 439.25,336.29 439.30,336.29 439.35,336.29 439.40,336.28 439.45,336.28 439.50,336.28 439.55,336.28 439.60,336.28 439.65,336.28 439.70,336.27 439.75,336.27 439.80,336.27 439.85,336.27 439.90,336.26 439.95,336.26 440.00,336.26 440.05,336.26 440.10,336.25 440.15,336.25 440.20,336.25 440.25,336.24 440.30,336.24 440.35,336.24 440.40,336.23 440.45,336.23 440.50,336.23 440.55,336.22 440.60,336.22 440.65,336.21 440.70,336.21 440.75,336.20 440.80,336.19 440.85,336.19 440.90,336.18 440.95,336.17 441.00,336.17 441.05,336.16 441.10,336.15 441.15,336.14 441.20,336.13 441.25,336.12 441.30,336.10 441.35,336.09 441.40,336.07 441.45,336.06 441.50,336.04 441.55,336.02 441.60,335.99 441.65,335.97 441.70,335.94 441.75,335.91 441.80,335.87 441.85,335.83 441.90,335.78 441.95,335.73 442.00,335.67 442.05,335.60 442.10,335.52 442.15,335.43 442.20,335.32 442.25,335.20 442.30,335.06 442.35,334.91 442.40,334.74 442.45,334.57 442.50,334.39 442.55,334.22 442.60,334.08 442.65,333.99 442.70,333.96 442.75,333.99 442.80,334.08 442.85,334.21 442.90,334.38 442.95,334.55 443.00,334.73 443.05,334.89 443.10,335.04 443.15,335.17 443.20,335.29 443.25,335.39 443.30,335.48 443.35,335.56 443.40,335.62 443.45,335.68 443.50,335.73 443.55,335.77 443.60,335.81 443.65,335.85 443.70,335.87 443.75,335.90 443.80,335.92 443.85,335.94 443.90,335.96 443.95,335.97 444.00,335.99 444.05,336.00 444.10,336.01 444.15,336.02 444.20,336.02 444.25,336.03 444.30,336.04 444.35,336.04 444.40,336.05 444.45,336.05 444.50,336.05 444.55,336.05 444.60,336.06 444.65,336.06 444.70,336.06 444.75,336.06 444.80,336.06 444.85,336.06 444.90,336.06 444.95,336.06 445.00,336.05 445.05,336.05 445.10,336.05 445.15,336.05 445.20,336.05 445.25,336.04 445.30,336.04 445.35,336.03 445.40,336.03 445.45,336.03 445.50,336.02 445.55,336.02 445.60,336.01 445.65,336.00 445.70,336.00 445.75,335.99 445.80,335.98 445.85,335.98 445.90,335.97 445.95,335.96 446.00,335.95 446.05,335.94 446.10,335.93 446.15,335.92 446.20,335.91 446.25,335.90 446.30,335.89 446.35,335.88 446.40,335.87 446.45,335.85 446.50,335.84 446.55,335.82 446.60,335.81 446.65,335.79 446.70,335.77 446.75,335.75 446.80,335.73 446.85,335.71 446.90,335.69 446.95,335.67 447.00,335.64 447.05,335.61 447.10,335.59 447.15,335.56 447.20,335.52 447.25,335.49 447.30,335.45 447.35,335.41 447.40,335.37 447.45,335.33 447.50,335.28 447.55,335.22 447.60,335.17 447.65,335.11 447.70,335.04 447.75,334.97 447.80,334.89 447.85,334.80 447.90,334.71 447.95,334.61 448.00,334.49 448.05,334.37 448.10,334.23 448.15,334.07 448.20,333.90 448.25,333.71 448.30,333.50 448.35,333.26 448.40,332.98 448.45,332.68 448.50,332.32 448.55,331.92 448.60,331.47 448.65,330.94 448.70,330.34 448.75,329.65 448.80,328.86 448.85,327.95 448.90,326.92 448.95,325.77 449.00,324.52 449.05,323.19 449.10,321.85 449.15,320.59 449.20,319.55 449.25,318.84 449.30,318.57 449.35,318.78 449.40,319.43 449.45,320.42 449.50,321.61 449.55,322.89 449.60,324.16 449.65,325.34 449.70,326.42 449.75,327.37 449.80,328.19 449.85,328.89 449.90,329.49 449.95,329.98 450.00,330.38 450.05,330.70 450.10,330.95 450.15,331.13 450.20,331.24 450.25,331.30 450.30,331.29 450.35,331.21 450.40,331.07 450.45,330.87 450.50,330.60 450.55,330.27 450.60,329.88 450.65,329.45 450.70,329.01 450.75,328.59 450.80,328.25 450.85,328.04 450.90,328.01 450.95,328.16 451.00,328.49 451.05,328.95 451.10,329.50 451.15,330.07 451.20,330.64 451.25,331.18 451.30,331.67 451.35,332.11 451.40,332.50 451.45,332.83 451.50,333.13 451.55,333.39 451.60,333.61 451.65,333.81 451.70,333.98 451.75,334.13 451.80,334.26 451.85,334.38 451.90,334.48 451.95,334.57 452.00,334.64 452.05,334.71 452.10,334.77 452.15,334.83 452.20,334.87 452.25,334.91 452.30,334.95 452.35,334.98 452.40,335.01 452.45,335.03 452.50,335.05 452.55,335.06 452.60,335.07 452.65,335.08 452.70,335.08 452.75,335.08 452.80,335.08 452.85,335.08 452.90,335.07 452.95,335.06 453.00,335.04 453.05,335.02 453.10,335.00 453.15,334.98 453.20,334.95 453.25,334.91 453.30,334.88 453.35,334.83 453.40,334.79 453.45,334.73 453.50,334.67 453.55,334.61 453.60,334.54 453.65,334.45 453.70,334.36 453.75,334.26 453.80,334.15 453.85,334.03 453.90,333.89 453.95,333.73 454.00,333.56 454.05,333.36 454.10,333.14 454.15,332.89 454.20,332.60 454.25,332.28 454.30,331.91 454.35,331.48 454.40,331.00 454.45,330.44 454.50,329.80 454.55,329.06 454.60,328.20 454.65,327.23 454.70,326.13 454.75,324.89 454.80,323.54 454.85,322.10 454.90,320.66 454.95,319.31 455.00,318.19 455.05,317.45 455.10,317.18 455.15,317.45 455.20,318.19 455.25,319.31 455.30,320.65 455.35,322.10 455.40,323.53 455.45,324.88 455.50,326.11 455.55,327.22 455.60,328.19 455.65,329.04 455.70,329.78 455.75,330.42 455.80,330.98 455.85,331.46 455.90,331.88 455.95,332.25 456.00,332.57 456.05,332.86 456.10,333.11 456.15,333.33 456.20,333.52 456.25,333.70 456.30,333.85 456.35,333.99 456.40,334.12 456.45,334.23 456.50,334.33 456.55,334.42 456.60,334.50 456.65,334.57 456.70,334.64 456.75,334.70 456.80,334.75 456.85,334.80 456.90,334.84 456.95,334.88 457.00,334.92 457.05,334.95 457.10,334.97 457.15,335.00 457.20,335.02 457.25,335.04 457.30,335.06 457.35,335.07 457.40,335.08 457.45,335.09 457.50,335.10 457.55,335.11 457.60,335.11 457.65,335.11 457.70,335.11 457.75,335.11 457.80,335.10 457.85,335.10 457.90,335.09 457.95,335.08 458.00,335.07 458.05,335.06 458.10,335.04 458.15,335.02 458.20,335.00 458.25,334.98 458.30,334.96 458.35,334.94 458.40,334.91 458.45,334.88 458.50,334.85 458.55,334.81 458.60,334.77 458.65,334.73 458.70,334.69 458.75,334.65 458.80,334.60 458.85,334.54 458.90,334.48 458.95,334.42 459.00,334.36 459.05,334.29 459.10,334.21 459.15,334.13 459.20,334.04 459.25,333.94 459.30,333.84 459.35,333.73 459.40,333.61 459.45,333.48 459.50,333.34 459.55,333.19 459.60,333.03 459.65,332.85 459.70,332.66 459.75,332.44 459.80,332.21 459.85,331.96 459.90,331.68 459.95,331.37 460.00,331.03 460.05,330.65 460.10,330.23 460.15,329.76 460.20,329.24 460.25,328.66 460.30,328.00 460.35,327.26 460.40,326.42 460.45,325.47 460.50,324.38 460.55,323.14 460.60,321.72 460.65,320.08 460.70,318.20 460.75,316.03 460.80,313.55 460.85,310.70 460.90,307.47 460.95,303.86 461.00,299.91 461.05,295.73 461.10,291.52 461.15,287.58 461.20,284.32 461.25,282.14 461.30,281.38 461.35,282.15 461.40,284.33 461.45,287.59 461.50,291.53 461.55,295.75 461.60,299.93 461.65,303.89 461.70,307.50 461.75,310.73 461.80,313.58 461.85,316.07 461.90,318.24 461.95,320.13 462.00,321.76 462.05,323.19 462.10,324.44 462.15,325.53 462.20,326.48 462.25,327.33 462.30,328.07 462.35,328.73 462.40,329.32 462.45,329.85 462.50,330.32 462.55,330.74 462.60,331.12 462.65,331.47 462.70,331.78 462.75,332.06 462.80,332.32 462.85,332.56 462.90,332.78 462.95,332.98 463.00,333.16 463.05,333.33 463.10,333.48 463.15,333.63 463.20,333.76 463.25,333.89 463.30,334.00 463.35,334.11 463.40,334.21 463.45,334.31 463.50,334.40 463.55,334.48 463.60,334.56 463.65,334.63 463.70,334.70 463.75,334.76 463.80,334.82 463.85,334.88 463.90,334.93 463.95,334.99 464.00,335.04 464.05,335.08 464.10,335.13 464.15,335.17 464.20,335.21 464.25,335.24 464.30,335.28 464.35,335.31 464.40,335.35 464.45,335.38 464.50,335.41 464.55,335.44 464.60,335.46 464.65,335.49 464.70,335.52 464.75,335.54 464.80,335.56 464.85,335.58 464.90,335.60 464.95,335.63 465.00,335.64 465.05,335.66 465.10,335.68 465.15,335.70 465.20,335.72 465.25,335.73 465.30,335.75 465.35,335.76 465.40,335.78 465.45,335.79 465.50,335.80 465.55,335.82 465.60,335.83 465.65,335.84 465.70,335.85 465.75,335.86 465.80,335.88 465.85,335.89 465.90,335.90 465.95,335.91 466.00,335.92 466.05,335.93 466.10,335.93 466.15,335.94 466.20,335.95 466.25,335.96 466.30,335.97 466.35,335.98 466.40,335.98 466.45,335.99 466.50,336.00 466.55,336.01 466.60,336.01 466.65,336.02 466.70,336.03 466.75,336.03 466.80,336.04 466.85,336.04 466.90,336.05 466.95,336.06 467.00,336.06 467.05,336.07 467.10,336.07 467.15,336.08 467.20,336.08 467.25,336.09 467.30,336.09 467.50,336.11 468.00,336.15 468.50,336.18 469.00,336.20 469.50,336.22 470.00,336.24 470.50,336.26 471.00,336.27 471.50,336.28 472.00,336.29 472.50,336.30 473.00,336.31 473.50,336.31 474.00,336.32 474.50,336.32 475.00,336.33 475.50,336.33 476.00,336.34 476.50,336.34 477.00,336.34 477.50,336.35 478.00,336.35 478.50,336.35 479.00,336.35 479.50,336.35 480.00,336.36 480.50,336.36 481.00,336.36 481.50,336.36 482.00,336.36 482.50,336.36 483.00,336.36 483.50,336.36 484.00,336.37 484.50,336.37 485.00,336.37 485.50,336.37 486.00,336.37 486.50,336.37 487.00,336.37 487.50,336.37 488.00,336.37 488.50,336.37 488.90,336.37 488.95,336.37 489.00,336.37 489.05,336.36 489.10,336.36 489.15,336.36 489.20,336.36 489.25,336.36 489.30,336.36 489.35,336.36 489.40,336.36 489.45,336.36 489.50,336.36 489.55,336.36 489.60,336.36 489.65,336.36 489.70,336.36 489.75,336.36 489.80,336.36 489.85,336.36 489.90,336.36 489.95,336.36 490.00,336.36 490.05,336.36 490.10,336.36 490.15,336.36 490.20,336.36 490.25,336.36 490.30,336.36 490.35,336.36 490.40,336.36 490.45,336.36 490.50,336.36 490.55,336.36 490.60,336.36 490.65,336.36 490.70,336.36 490.75,336.36 490.80,336.36 490.85,336.35 490.90,336.35 490.95,336.35 491.00,336.35 491.05,336.35 491.10,336.35 491.15,336.35 491.20,336.35 491.25,336.35 491.30,336.35 491.35,336.35 491.40,336.35 491.45,336.35 491.50,336.35 491.55,336.34 491.60,336.34 491.65,336.34 491.70,336.34 491.75,336.34 491.80,336.34 491.85,336.34 491.90,336.34 491.95,336.34 492.00,336.33 492.05,336.33 492.10,336.33 492.15,336.33 492.20,336.33 492.25,336.33 492.30,336.32 492.35,336.32 492.40,336.32 492.45,336.32 492.50,336.32 492.55,336.31 492.60,336.31 492.65,336.31 492.70,336.30 492.75,336.30 492.80,336.30 492.85,336.29 492.90,336.29 492.95,336.28 493.00,336.28 493.05,336.27 493.10,336.27 493.15,336.26 493.20,336.26 493.25,336.25 493.30,336.24 493.35,336.23 493.40,336.22 493.45,336.22 493.50,336.20 493.55,336.19 493.60,336.18 493.65,336.16 493.70,336.15 493.75,336.13 493.80,336.11 493.85,336.09 493.90,336.06 493.95,336.03 494.00,336.00 494.05,335.97 494.10,335.92 494.15,335.88 494.20,335.82 494.25,335.76 494.30,335.69 494.35,335.60 494.40,335.51 494.45,335.40 494.50,335.28 494.55,335.14 494.60,334.99 494.65,334.83 494.70,334.67 494.75,334.51 494.80,334.39 494.85,334.31 494.90,334.28 494.95,334.31 495.00,334.39 495.05,334.51 495.10,334.67 495.15,334.83 495.20,334.99 495.25,335.14 495.30,335.28 495.35,335.40 495.40,335.51 495.45,335.60 495.50,335.69 495.55,335.76 495.60,335.82 495.65,335.88 495.70,335.92 495.75,335.96 495.80,336.00 495.85,336.03 495.90,336.06 495.95,336.09 496.00,336.11 496.05,336.13 496.10,336.15 496.15,336.16 496.20,336.18 496.25,336.19 496.30,336.20 496.35,336.21 496.40,336.22 496.45,336.23 496.50,336.24 496.55,336.25 496.60,336.26 496.65,336.26 496.70,336.27 496.75,336.27 496.80,336.28 496.85,336.28 496.90,336.29 496.95,336.29 497.00,336.29 497.05,336.30 497.10,336.30 497.15,336.30 497.20,336.31 497.25,336.31 497.30,336.31 497.35,336.32 497.40,336.32 497.45,336.32 497.50,336.32 497.55,336.32 497.60,336.33 497.65,336.33 497.70,336.33 497.75,336.33 497.80,336.33 497.85,336.33 497.90,336.33 497.95,336.33 498.00,336.34 498.05,336.34 498.10,336.34 498.15,336.34 498.20,336.34 498.25,336.34 498.30,336.34 498.35,336.34 498.40,336.34 498.45,336.34 498.50,336.34 498.55,336.35 498.60,336.35 498.65,336.35 498.70,336.35 498.75,336.35 498.80,336.35 498.85,336.35 498.90,336.35 498.95,336.35 499.00,336.35 499.05,336.35 499.10,336.35 499.15,336.35 499.20,336.35 499.25,336.35 499.30,336.35 499.35,336.35 499.40,336.35 499.45,336.35 499.50,336.35 499.55,336.35 499.60,336.35 499.65,336.35 499.70,336.35 499.75,336.35 499.80,336.35 499.85,336.35 499.90,336.35 499.95,336.35 500.00,336.35 500.05,336.35 500.10,336.35 500.15,336.35 500.20,336.35 500.25,336.35 500.30,336.35 500.35,336.35 500.40,336.35 500.45,336.35 500.50,336.35 500.55,336.35 500.60,336.35 500.65,336.35 500.70,336.35 500.75,336.35 500.80,336.35 500.85,336.35 500.90,336.35 500.95,336.35 501.00,336.35 501.05,336.35 501.10,336.35 501.15,336.35 501.20,336.35 501.25,336.35 501.30,336.35 501.35,336.35 501.40,336.35 501.45,336.35 501.50,336.35 501.55,336.35 501.60,336.34 501.65,336.34 501.70,336.34 501.75,336.34 501.80,336.34 501.85,336.34 501.90,336.34 501.95,336.34 502.00,336.34 502.05,336.34 502.10,336.34 502.15,336.34 502.20,336.34 502.25,336.33 502.30,336.33 502.35,336.33 502.40,336.33 502.45,336.33 502.50,336.33 502.55,336.33 502.60,336.32 502.65,336.32 502.70,336.32 502.75,336.32 502.80,336.32 502.85,336.31 502.90,336.31 502.95,336.31 503.00,336.31 503.05,336.30 503.10,336.30 503.15,336.30 503.20,336.29 503.25,336.29 503.30,336.28 503.35,336.28 503.40,336.27 503.45,336.27 503.50,336.26 503.55,336.25 503.60,336.24 503.65,336.23 503.70,336.22 503.75,336.21 503.80,336.20 503.85,336.19 503.90,336.17 503.95,336.15 504.00,336.13 504.05,336.11 504.10,336.08 504.15,336.05 504.20,336.02 504.25,335.98 504.30,335.93 504.35,335.88 504.40,335.82 504.45,335.75 504.50,335.68 504.55,335.60 504.60,335.53 504.65,335.45 504.70,335.39 504.75,335.35 504.80,335.34 504.85,335.35 504.90,335.39 504.95,335.45 505.00,335.52 505.05,335.60 505.10,335.67 505.15,335.74 505.20,335.81 505.25,335.86 505.30,335.91 505.35,335.96 505.40,336.00 505.45,336.03 505.50,336.06 505.55,336.08 505.60,336.10 505.65,336.12 505.70,336.14 505.75,336.15 505.80,336.16 505.85,336.17 505.90,336.18 505.95,336.19 506.00,336.20 506.05,336.20 506.10,336.21 506.15,336.21 506.20,336.22 506.25,336.22 506.30,336.22 506.35,336.22 506.40,336.22 506.45,336.23 506.50,336.23 506.55,336.23 506.60,336.23 506.65,336.22 506.70,336.22 506.75,336.22 506.80,336.22 506.85,336.22 506.90,336.22 506.95,336.21 507.00,336.21 507.05,336.21 507.10,336.20 507.15,336.20 507.20,336.20 507.25,336.19 507.30,336.19 507.35,336.18 507.40,336.18 507.45,336.17 507.50,336.16 507.55,336.16 507.60,336.15 507.65,336.14 507.70,336.13 507.75,336.12 507.80,336.11 507.85,336.10 507.90,336.09 507.95,336.08 508.00,336.06 508.05,336.05 508.10,336.03 508.15,336.01 508.20,336.00 508.25,335.98 508.30,335.95 508.35,335.93 508.40,335.90 508.45,335.88 508.50,335.84 508.55,335.81 508.60,335.77 508.65,335.73 508.70,335.69 508.75,335.64 508.80,335.58 508.85,335.52 508.90,335.45 508.95,335.37 509.00,335.28 509.05,335.18 509.10,335.07 509.15,334.95 509.20,334.80 509.25,334.64 509.30,334.45 509.35,334.23 509.40,333.98 509.45,333.69 509.50,333.36 509.55,332.98 509.60,332.55 509.65,332.07 509.70,331.55 509.75,330.99 509.80,330.43 509.85,329.91 509.90,329.47 509.95,329.18 510.00,329.08 510.05,329.18 510.10,329.47 510.15,329.91 510.20,330.43 510.25,330.99 510.30,331.55 510.35,332.07 510.40,332.55 510.45,332.98 510.50,333.36 510.55,333.69 510.60,333.98 510.65,334.23 510.70,334.45 510.75,334.64 510.80,334.81 510.85,334.95 510.90,335.08 510.95,335.19 511.00,335.29 511.05,335.38 511.10,335.45 511.15,335.52 511.20,335.59 511.25,335.64 511.30,335.69 511.35,335.74 511.40,335.78 511.45,335.82 511.50,335.85 511.55,335.89 511.60,335.91 511.65,335.94 511.70,335.96 511.75,335.99 511.80,336.01 511.85,336.03 511.90,336.04 511.95,336.06 512.00,336.08 512.05,336.09 512.10,336.10 512.15,336.12 512.20,336.13 512.25,336.14 512.30,336.15 512.35,336.16 512.40,336.17 512.45,336.18 512.50,336.18 512.55,336.19 512.60,336.20 512.65,336.21 512.70,336.21 512.75,336.22 512.80,336.22 512.85,336.23 512.90,336.24 512.95,336.24 513.00,336.25 513.05,336.25 513.10,336.25 513.15,336.26 513.20,336.26 513.25,336.27 513.30,336.27 513.35,336.27 513.40,336.28 513.45,336.28 513.50,336.28 513.55,336.28 513.60,336.29 513.65,336.29 513.70,336.29 513.75,336.30 513.80,336.30 513.85,336.30 513.90,336.30 513.95,336.30 514.00,336.31 514.05,336.31 514.10,336.31 514.15,336.31 514.20,336.31 514.25,336.31 514.30,336.32 514.35,336.32 514.40,336.32 514.45,336.32 514.50,336.32 514.55,336.32 514.60,336.33 514.65,336.33 514.70,336.33 514.75,336.33 514.80,336.33 514.85,336.33 514.90,336.33 514.95,336.33 515.00,336.33 515.05,336.34 515.10,336.34 515.15,336.34 515.20,336.34 515.25,336.34 515.30,336.34 515.35,336.34 515.40,336.34 515.45,336.34 515.50,336.34 515.55,336.34 515.60,336.34 515.65,336.34 515.70,336.35 515.75,336.35 515.80,336.35 515.85,336.35 515.90,336.35 515.95,336.35 516.00,336.35 516.50,336.35 517.00,336.36 517.50,336.36 518.00,336.36 518.40,336.36 518.45,336.36 518.50,336.36 518.55,336.36 518.60,336.36 518.65,336.36 518.70,336.36 518.75,336.36 518.80,336.36 518.85,336.36 518.90,336.36 518.95,336.36 519.00,336.36 519.05,336.36 519.10,336.36 519.15,336.36 519.20,336.36 519.25,336.36 519.30,336.36 519.35,336.36 519.40,336.36 519.45,336.36 519.50,336.36 519.55,336.36 519.60,336.36 519.65,336.36 519.70,336.36 519.75,336.36 519.80,336.36 519.85,336.36 519.90,336.36 519.95,336.36 520.00,336.36 520.05,336.36 520.10,336.35 520.15,336.35 520.20,336.35 520.25,336.35 520.30,336.35 520.35,336.35 520.40,336.35 520.45,336.35 520.50,336.35 520.55,336.35 520.60,336.35 520.65,336.35 520.70,336.35 520.75,336.35 520.80,336.35 520.85,336.34 520.90,336.34 520.95,336.34 521.00,336.34 521.05,336.34 521.10,336.34 521.15,336.34 521.20,336.34 521.25,336.34 521.30,336.33 521.35,336.33 521.40,336.33 521.45,336.33 521.50,336.33 521.55,336.33 521.60,336.32 521.65,336.32 521.70,336.32 521.75,336.32 521.80,336.32 521.85,336.31 521.90,336.31 521.95,336.31 522.00,336.30 522.05,336.30 522.10,336.30 522.15,336.29 522.20,336.29 522.25,336.29 522.30,336.28 522.35,336.28 522.40,336.27 522.45,336.27 522.50,336.26 522.55,336.25 522.60,336.25 522.65,336.24 522.70,336.23 522.75,336.22 522.80,336.21 522.85,336.20 522.90,336.19 522.95,336.18 523.00,336.16 523.05,336.15 523.10,336.13 523.15,336.11 523.20,336.09 523.25,336.07 523.30,336.04 523.35,336.01 523.40,335.98 523.45,335.95 523.50,335.90 523.55,335.86 523.60,335.80 523.65,335.74 523.70,335.67 523.75,335.59 523.80,335.50 523.85,335.39 523.90,335.27 523.95,335.13 524.00,334.97 524.05,334.79 524.10,334.60 524.15,334.39 524.20,334.19 524.25,333.99 524.30,333.83 524.35,333.73 524.40,333.69 524.45,333.73 524.50,333.83 524.55,333.99 524.60,334.19 524.65,334.39 524.70,334.60 524.75,334.79 524.80,334.97 524.85,335.13 524.90,335.27 524.95,335.39 525.00,335.50 525.05,335.59 525.10,335.67 525.15,335.74 525.20,335.81 525.25,335.86 525.30,335.91 525.35,335.95 525.40,335.98 525.45,336.02 525.50,336.05 525.55,336.07 525.60,336.09 525.65,336.11 525.70,336.13 525.75,336.15 525.80,336.17 525.85,336.18 525.90,336.19 525.95,336.20 526.00,336.22"/>
</g>
<g font-size="19.0"><text transform="matrix(1,0,0,1.03,0,-10.878)" x="88.00" y="362.6" text-anchor="middle">4230</text><text transform="matrix(1,0,0,1.03,0,-10.878)" x="136.67" y="362.6" text-anchor="middle">4240</text><text transform="matrix(1,0,0,1.03,0,-10.878)" x="185.33" y="362.6" text-anchor="middle">4250</text><text transform="matrix(1,0,0,1.03,0,-10.878)" x="234.00" y="362.6" text-anchor="middle">4260</text><text transform="matrix(1,0,0,1.03,0,-10.878)" x="282.67" y="362.6" text-anchor="middle">4270</text><text transform="matrix(1,0,0,1.03,0,-10.878)" x="331.33" y="362.6" text-anchor="middle">4280</text><text transform="matrix(1,0,0,1.03,0,-10.878)" x="380.00" y="362.6" text-anchor="middle">4290</text><text transform="matrix(1,0,0,1.03,0,-10.878)" x="428.67" y="362.6" text-anchor="middle">4300</text><text transform="matrix(1,0,0,1.03,0,-10.878)" x="477.33" y="362.6" text-anchor="middle">4310</text><text transform="matrix(1,0,0,1.03,0,-10.878)" x="526.00" y="362.6" text-anchor="middle">4320</text><text transform="matrix(1,0,0,1.03,0,-10.263)" x="76.6" y="342.10" text-anchor="end">0.00</text><text transform="matrix(1,0,0,1.03,0,-7.040)" x="76.6" y="234.67" text-anchor="end">0.01</text><text transform="matrix(1,0,0,1.03,0,-3.817)" x="76.6" y="127.23" text-anchor="end">0.02</text><text transform="matrix(1,0,0,1.03,0,-0.594)" x="76.6" y="19.80" text-anchor="end">0.03</text></g>
<text font-size="23.5" x="200.2" y="392.5">Wavenumber (cm<tspan x="385.0" y="384.5">-</tspan><tspan x="394.2" y="384.5">1</tspan><tspan x="406.9" y="392.5">)</tspan></text>
<text font-size="23.5" transform="translate(30.7,325.3) rotate(-90)" x="0" y="0">Absorption coefficient (cm<tspan x="269.8" y="-8.7" font-size="21.0">-</tspan><tspan x="278.2" y="-8.7" font-size="21.0">1</tspan><tspan x="289.9" y="0">)</tspan></text>
<path d="M91,27.8H131" stroke="#0000ff" stroke-width="1.8"/>
<path d="M91,50.7H131" stroke="#ff0000" stroke-width="1.8"/>
<g font-size="19.0">
<text transform="matrix(1,0,0,1.03,0,-1.008)" x="135.4" y="33.6">4.97% CO</text>
<text transform="matrix(1,0,0,1.03,0,-1.707)" x="135.4" y="56.9">2% H<tspan x="182.5" y="62.2" font-size="14">2</tspan><tspan x="189.5" y="56.9">O (×100)</tspan></text>
<text transform="matrix(1,0,0,1.03,0,-1.044)" x="412.3" y="34.8">P = 760 Torr</text>
<text transform="matrix(1,0,0,1.03,0,-1.743)" x="412.3" y="58.1">T = 296 K</text>
<text transform="matrix(1,0,0,1.03,0,-1.875)" x="287.2" y="62.5">4291.50 cm<tspan x="386.9" y="53.9" font-size="17">-</tspan><tspan x="394.0" y="53.9" font-size="17">1</tspan></text>
</g>
<path d="M362.7,63.9L382.1,94.7" stroke="#000" stroke-width="1.5"/>
<path d="M387.0,103.0L379.9,96.2L384.4,93.3Z" fill="#000"/>
</svg>
</body></html>
